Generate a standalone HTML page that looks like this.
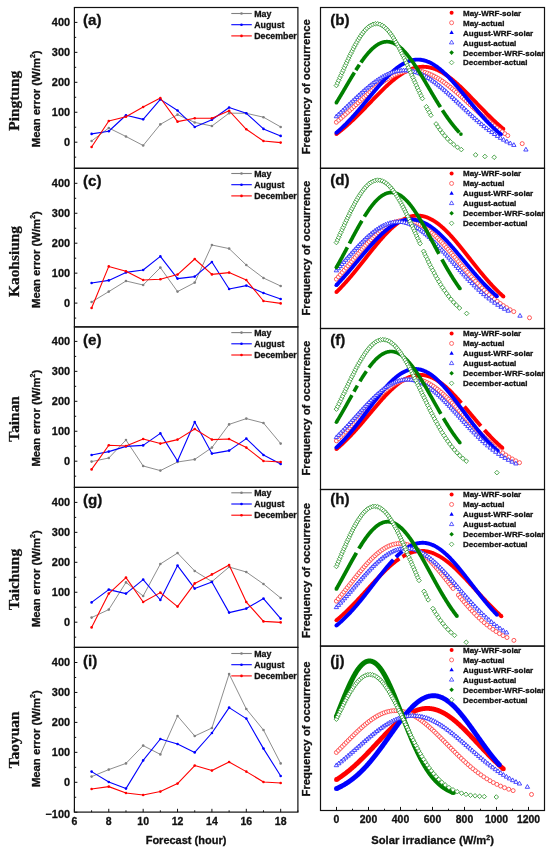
<!DOCTYPE html><html><head><meta charset="utf-8"><style>html,body{margin:0;padding:0;background:#fff;}svg{display:block;will-change:transform;}text{stroke:#111;stroke-width:0.3px;}</style></head><body>
<svg width="550" height="854" viewBox="0 0 550 854">
<rect width="550" height="854" fill="#fff"/>
<polyline fill="none" stroke="#808080" stroke-width="0.9" stroke-linejoin="round" points="91.59,141 108.78,127.97 125.97,136.51 143.16,145.49 160.35,124.35 177.54,114.65 194.73,122.43 211.92,126.03 229.11,113.15 246.3,113.3 263.49,117.19 280.68,126.93"/>
<circle cx="91.59" cy="141" r="1.3" fill="#808080"/>
<circle cx="108.78" cy="127.97" r="1.3" fill="#808080"/>
<circle cx="125.97" cy="136.51" r="1.3" fill="#808080"/>
<circle cx="143.16" cy="145.49" r="1.3" fill="#808080"/>
<circle cx="160.35" cy="124.35" r="1.3" fill="#808080"/>
<circle cx="177.54" cy="114.65" r="1.3" fill="#808080"/>
<circle cx="194.73" cy="122.43" r="1.3" fill="#808080"/>
<circle cx="211.92" cy="126.03" r="1.3" fill="#808080"/>
<circle cx="229.11" cy="113.15" r="1.3" fill="#808080"/>
<circle cx="246.3" cy="113.3" r="1.3" fill="#808080"/>
<circle cx="263.49" cy="117.19" r="1.3" fill="#808080"/>
<circle cx="280.68" cy="126.93" r="1.3" fill="#808080"/>
<polyline fill="none" stroke="#0000ff" stroke-width="1.1" stroke-linejoin="round" points="91.59,133.9 108.78,131.27 125.97,115.24 143.16,119.35 160.35,99.37 177.54,110.57 194.73,126.93 211.92,119.74 229.11,107.46 246.3,113.3 263.49,128.9 280.68,135.91"/>
<circle cx="91.59" cy="133.9" r="1.3" fill="#0000ff"/>
<circle cx="108.78" cy="131.27" r="1.3" fill="#0000ff"/>
<circle cx="125.97" cy="115.24" r="1.3" fill="#0000ff"/>
<circle cx="143.16" cy="119.35" r="1.3" fill="#0000ff"/>
<circle cx="160.35" cy="99.37" r="1.3" fill="#0000ff"/>
<circle cx="177.54" cy="110.57" r="1.3" fill="#0000ff"/>
<circle cx="194.73" cy="126.93" r="1.3" fill="#0000ff"/>
<circle cx="211.92" cy="119.74" r="1.3" fill="#0000ff"/>
<circle cx="229.11" cy="107.46" r="1.3" fill="#0000ff"/>
<circle cx="246.3" cy="113.3" r="1.3" fill="#0000ff"/>
<circle cx="263.49" cy="128.9" r="1.3" fill="#0000ff"/>
<circle cx="280.68" cy="135.91" r="1.3" fill="#0000ff"/>
<polyline fill="none" stroke="#ff0000" stroke-width="1.1" stroke-linejoin="round" points="91.59,146.99 108.78,120.94 125.97,116.74 143.16,107.01 160.35,97.99 177.54,121.65 194.73,118.24 211.92,118.24 229.11,110.75 246.3,129.32 263.49,141 280.68,142.59"/>
<circle cx="91.59" cy="146.99" r="1.3" fill="#ff0000"/>
<circle cx="108.78" cy="120.94" r="1.3" fill="#ff0000"/>
<circle cx="125.97" cy="116.74" r="1.3" fill="#ff0000"/>
<circle cx="143.16" cy="107.01" r="1.3" fill="#ff0000"/>
<circle cx="160.35" cy="97.99" r="1.3" fill="#ff0000"/>
<circle cx="177.54" cy="121.65" r="1.3" fill="#ff0000"/>
<circle cx="194.73" cy="118.24" r="1.3" fill="#ff0000"/>
<circle cx="211.92" cy="118.24" r="1.3" fill="#ff0000"/>
<circle cx="229.11" cy="110.75" r="1.3" fill="#ff0000"/>
<circle cx="246.3" cy="129.32" r="1.3" fill="#ff0000"/>
<circle cx="263.49" cy="141" r="1.3" fill="#ff0000"/>
<circle cx="280.68" cy="142.59" r="1.3" fill="#ff0000"/>
<line x1="231.3" y1="13.5" x2="251.8" y2="13.5" stroke="#808080" stroke-width="1.1"/>
<circle cx="241.5" cy="13.5" r="1.3" fill="#808080"/>
<text x="254.2" y="16.6" font-size="8.8" font-family="Liberation Sans, sans-serif" font-weight="bold" fill="#111">May</text>
<line x1="231.3" y1="24.7" x2="251.8" y2="24.7" stroke="#0000ff" stroke-width="1.1"/>
<circle cx="241.5" cy="24.7" r="1.3" fill="#0000ff"/>
<text x="254.2" y="27.8" font-size="8.8" font-family="Liberation Sans, sans-serif" font-weight="bold" fill="#111">August</text>
<line x1="231.3" y1="35.9" x2="251.8" y2="35.9" stroke="#ff0000" stroke-width="1.1"/>
<circle cx="241.5" cy="35.9" r="1.3" fill="#ff0000"/>
<text x="254.2" y="39" font-size="8.8" font-family="Liberation Sans, sans-serif" font-weight="bold" fill="#111">December</text>
<line x1="74.4" y1="157.17" x2="76.2" y2="157.17" stroke="#111" stroke-width="1"/>
<line x1="74.4" y1="142.2" x2="77.4" y2="142.2" stroke="#111" stroke-width="1"/>
<text x="70" y="146" font-size="10.9" text-anchor="end" font-family="Liberation Sans, sans-serif" font-weight="bold" fill="#111">0</text>
<line x1="74.4" y1="127.22" x2="76.2" y2="127.22" stroke="#111" stroke-width="1"/>
<line x1="74.4" y1="112.25" x2="77.4" y2="112.25" stroke="#111" stroke-width="1"/>
<text x="70" y="116.05" font-size="10.9" text-anchor="end" font-family="Liberation Sans, sans-serif" font-weight="bold" fill="#111">100</text>
<line x1="74.4" y1="97.27" x2="76.2" y2="97.27" stroke="#111" stroke-width="1"/>
<line x1="74.4" y1="82.3" x2="77.4" y2="82.3" stroke="#111" stroke-width="1"/>
<text x="70" y="86.1" font-size="10.9" text-anchor="end" font-family="Liberation Sans, sans-serif" font-weight="bold" fill="#111">200</text>
<line x1="74.4" y1="67.32" x2="76.2" y2="67.32" stroke="#111" stroke-width="1"/>
<line x1="74.4" y1="52.35" x2="77.4" y2="52.35" stroke="#111" stroke-width="1"/>
<text x="70" y="56.15" font-size="10.9" text-anchor="end" font-family="Liberation Sans, sans-serif" font-weight="bold" fill="#111">300</text>
<line x1="74.4" y1="37.37" x2="76.2" y2="37.37" stroke="#111" stroke-width="1"/>
<line x1="74.4" y1="22.4" x2="77.4" y2="22.4" stroke="#111" stroke-width="1"/>
<text x="70" y="26.2" font-size="10.9" text-anchor="end" font-family="Liberation Sans, sans-serif" font-weight="bold" fill="#111">400</text>
<rect x="74.4" y="7.5" width="223.5" height="160.8" fill="none" stroke="#111" stroke-width="1.2"/>
<text x="82.9" y="25.1" font-size="15.2" font-family="Liberation Sans, sans-serif" font-weight="bold" fill="#111">(a)</text>
<text transform="translate(40.1,98.8) rotate(-90)" font-size="11.3" text-anchor="middle" font-family="Liberation Sans, sans-serif" font-weight="bold" fill="#111">Mean error (W/m<tspan font-size="7" dy="-4.8">2</tspan><tspan dy="4.8">)</tspan></text>
<text transform="translate(19.3,100.8) rotate(-90)" font-size="15.4" text-anchor="middle" font-family="Liberation Serif, serif" font-weight="bold" fill="#111">Pingtung</text>
<polyline fill="none" stroke="#808080" stroke-width="0.9" stroke-linejoin="round" points="91.59,301.99 108.78,291.6 125.97,281 143.16,285.01 160.35,267.61 177.54,291.6 194.73,282.61 211.92,245 229.11,248.59 246.3,265.06 263.49,278 280.68,286.03"/>
<circle cx="91.59" cy="301.99" r="1.3" fill="#808080"/>
<circle cx="108.78" cy="291.6" r="1.3" fill="#808080"/>
<circle cx="125.97" cy="281" r="1.3" fill="#808080"/>
<circle cx="143.16" cy="285.01" r="1.3" fill="#808080"/>
<circle cx="160.35" cy="267.61" r="1.3" fill="#808080"/>
<circle cx="177.54" cy="291.6" r="1.3" fill="#808080"/>
<circle cx="194.73" cy="282.61" r="1.3" fill="#808080"/>
<circle cx="211.92" cy="245" r="1.3" fill="#808080"/>
<circle cx="229.11" cy="248.59" r="1.3" fill="#808080"/>
<circle cx="246.3" cy="265.06" r="1.3" fill="#808080"/>
<circle cx="263.49" cy="278" r="1.3" fill="#808080"/>
<circle cx="280.68" cy="286.03" r="1.3" fill="#808080"/>
<polyline fill="none" stroke="#0000ff" stroke-width="1.1" stroke-linejoin="round" points="91.59,283.03 108.78,280.4 125.97,272.4 143.16,270.01 160.35,256.38 177.54,278.6 194.73,276.59 211.92,262.01 229.11,289.02 246.3,285.61 263.49,293.01 280.68,299"/>
<circle cx="91.59" cy="283.03" r="1.3" fill="#0000ff"/>
<circle cx="108.78" cy="280.4" r="1.3" fill="#0000ff"/>
<circle cx="125.97" cy="272.4" r="1.3" fill="#0000ff"/>
<circle cx="143.16" cy="270.01" r="1.3" fill="#0000ff"/>
<circle cx="160.35" cy="256.38" r="1.3" fill="#0000ff"/>
<circle cx="177.54" cy="278.6" r="1.3" fill="#0000ff"/>
<circle cx="194.73" cy="276.59" r="1.3" fill="#0000ff"/>
<circle cx="211.92" cy="262.01" r="1.3" fill="#0000ff"/>
<circle cx="229.11" cy="289.02" r="1.3" fill="#0000ff"/>
<circle cx="246.3" cy="285.61" r="1.3" fill="#0000ff"/>
<circle cx="263.49" cy="293.01" r="1.3" fill="#0000ff"/>
<circle cx="280.68" cy="299" r="1.3" fill="#0000ff"/>
<polyline fill="none" stroke="#ff0000" stroke-width="1.1" stroke-linejoin="round" points="91.59,308.01 108.78,266.41 125.97,271.2 143.16,280.04 160.35,279.2 177.54,274.59 194.73,259.01 211.92,274.41 229.11,272.61 246.3,280.04 263.49,301 280.68,303.4"/>
<circle cx="91.59" cy="308.01" r="1.3" fill="#ff0000"/>
<circle cx="108.78" cy="266.41" r="1.3" fill="#ff0000"/>
<circle cx="125.97" cy="271.2" r="1.3" fill="#ff0000"/>
<circle cx="143.16" cy="280.04" r="1.3" fill="#ff0000"/>
<circle cx="160.35" cy="279.2" r="1.3" fill="#ff0000"/>
<circle cx="177.54" cy="274.59" r="1.3" fill="#ff0000"/>
<circle cx="194.73" cy="259.01" r="1.3" fill="#ff0000"/>
<circle cx="211.92" cy="274.41" r="1.3" fill="#ff0000"/>
<circle cx="229.11" cy="272.61" r="1.3" fill="#ff0000"/>
<circle cx="246.3" cy="280.04" r="1.3" fill="#ff0000"/>
<circle cx="263.49" cy="301" r="1.3" fill="#ff0000"/>
<circle cx="280.68" cy="303.4" r="1.3" fill="#ff0000"/>
<line x1="231.3" y1="173.5" x2="251.8" y2="173.5" stroke="#808080" stroke-width="1.1"/>
<circle cx="241.5" cy="173.5" r="1.3" fill="#808080"/>
<text x="254.2" y="176.6" font-size="8.8" font-family="Liberation Sans, sans-serif" font-weight="bold" fill="#111">May</text>
<line x1="231.3" y1="184.7" x2="251.8" y2="184.7" stroke="#0000ff" stroke-width="1.1"/>
<circle cx="241.5" cy="184.7" r="1.3" fill="#0000ff"/>
<text x="254.2" y="187.8" font-size="8.8" font-family="Liberation Sans, sans-serif" font-weight="bold" fill="#111">August</text>
<line x1="231.3" y1="195.9" x2="251.8" y2="195.9" stroke="#ff0000" stroke-width="1.1"/>
<circle cx="241.5" cy="195.9" r="1.3" fill="#ff0000"/>
<text x="254.2" y="199" font-size="8.8" font-family="Liberation Sans, sans-serif" font-weight="bold" fill="#111">December</text>
<line x1="74.4" y1="318.08" x2="76.2" y2="318.08" stroke="#111" stroke-width="1"/>
<line x1="74.4" y1="303.1" x2="77.4" y2="303.1" stroke="#111" stroke-width="1"/>
<text x="70" y="306.9" font-size="10.9" text-anchor="end" font-family="Liberation Sans, sans-serif" font-weight="bold" fill="#111">0</text>
<line x1="74.4" y1="288.12" x2="76.2" y2="288.12" stroke="#111" stroke-width="1"/>
<line x1="74.4" y1="273.15" x2="77.4" y2="273.15" stroke="#111" stroke-width="1"/>
<text x="70" y="276.95" font-size="10.9" text-anchor="end" font-family="Liberation Sans, sans-serif" font-weight="bold" fill="#111">100</text>
<line x1="74.4" y1="258.18" x2="76.2" y2="258.18" stroke="#111" stroke-width="1"/>
<line x1="74.4" y1="243.2" x2="77.4" y2="243.2" stroke="#111" stroke-width="1"/>
<text x="70" y="247" font-size="10.9" text-anchor="end" font-family="Liberation Sans, sans-serif" font-weight="bold" fill="#111">200</text>
<line x1="74.4" y1="228.23" x2="76.2" y2="228.23" stroke="#111" stroke-width="1"/>
<line x1="74.4" y1="213.25" x2="77.4" y2="213.25" stroke="#111" stroke-width="1"/>
<text x="70" y="217.05" font-size="10.9" text-anchor="end" font-family="Liberation Sans, sans-serif" font-weight="bold" fill="#111">300</text>
<line x1="74.4" y1="198.28" x2="76.2" y2="198.28" stroke="#111" stroke-width="1"/>
<line x1="74.4" y1="183.3" x2="77.4" y2="183.3" stroke="#111" stroke-width="1"/>
<text x="70" y="187.1" font-size="10.9" text-anchor="end" font-family="Liberation Sans, sans-serif" font-weight="bold" fill="#111">400</text>
<rect x="74.4" y="168.3" width="223.5" height="158.6" fill="none" stroke="#111" stroke-width="1.2"/>
<text x="82.9" y="185.5" font-size="15.2" font-family="Liberation Sans, sans-serif" font-weight="bold" fill="#111">(c)</text>
<text transform="translate(40.1,259.6) rotate(-90)" font-size="11.3" text-anchor="middle" font-family="Liberation Sans, sans-serif" font-weight="bold" fill="#111">Mean error (W/m<tspan font-size="7" dy="-4.8">2</tspan><tspan dy="4.8">)</tspan></text>
<text transform="translate(19.3,261.5) rotate(-90)" font-size="15.4" text-anchor="middle" font-family="Liberation Serif, serif" font-weight="bold" fill="#111">Kaohsiung</text>
<polyline fill="none" stroke="#808080" stroke-width="0.9" stroke-linejoin="round" points="91.59,461.59 108.78,458 125.97,440 143.16,465.99 160.35,470.6 177.54,462.01 194.73,459.4 211.92,447.6 229.11,424.39 246.3,418.61 263.49,423.01 280.68,443.59"/>
<circle cx="91.59" cy="461.59" r="1.3" fill="#808080"/>
<circle cx="108.78" cy="458" r="1.3" fill="#808080"/>
<circle cx="125.97" cy="440" r="1.3" fill="#808080"/>
<circle cx="143.16" cy="465.99" r="1.3" fill="#808080"/>
<circle cx="160.35" cy="470.6" r="1.3" fill="#808080"/>
<circle cx="177.54" cy="462.01" r="1.3" fill="#808080"/>
<circle cx="194.73" cy="459.4" r="1.3" fill="#808080"/>
<circle cx="211.92" cy="447.6" r="1.3" fill="#808080"/>
<circle cx="229.11" cy="424.39" r="1.3" fill="#808080"/>
<circle cx="246.3" cy="418.61" r="1.3" fill="#808080"/>
<circle cx="263.49" cy="423.01" r="1.3" fill="#808080"/>
<circle cx="280.68" cy="443.59" r="1.3" fill="#808080"/>
<polyline fill="none" stroke="#0000ff" stroke-width="1.1" stroke-linejoin="round" points="91.59,455 108.78,451.62 125.97,446.4 143.16,445.39 160.35,433.41 177.54,460.99 194.73,422 211.92,453.59 229.11,450.6 246.3,438.59 263.49,455 280.68,463.99"/>
<circle cx="91.59" cy="455" r="1.3" fill="#0000ff"/>
<circle cx="108.78" cy="451.62" r="1.3" fill="#0000ff"/>
<circle cx="125.97" cy="446.4" r="1.3" fill="#0000ff"/>
<circle cx="143.16" cy="445.39" r="1.3" fill="#0000ff"/>
<circle cx="160.35" cy="433.41" r="1.3" fill="#0000ff"/>
<circle cx="177.54" cy="460.99" r="1.3" fill="#0000ff"/>
<circle cx="194.73" cy="422" r="1.3" fill="#0000ff"/>
<circle cx="211.92" cy="453.59" r="1.3" fill="#0000ff"/>
<circle cx="229.11" cy="450.6" r="1.3" fill="#0000ff"/>
<circle cx="246.3" cy="438.59" r="1.3" fill="#0000ff"/>
<circle cx="263.49" cy="455" r="1.3" fill="#0000ff"/>
<circle cx="280.68" cy="463.99" r="1.3" fill="#0000ff"/>
<polyline fill="none" stroke="#ff0000" stroke-width="1.1" stroke-linejoin="round" points="91.59,469.41 108.78,445.21 125.97,445.99 143.16,439.01 160.35,443.59 177.54,439.61 194.73,429 211.92,439.61 229.11,439.01 246.3,447.6 263.49,460.99 280.68,462.01"/>
<circle cx="91.59" cy="469.41" r="1.3" fill="#ff0000"/>
<circle cx="108.78" cy="445.21" r="1.3" fill="#ff0000"/>
<circle cx="125.97" cy="445.99" r="1.3" fill="#ff0000"/>
<circle cx="143.16" cy="439.01" r="1.3" fill="#ff0000"/>
<circle cx="160.35" cy="443.59" r="1.3" fill="#ff0000"/>
<circle cx="177.54" cy="439.61" r="1.3" fill="#ff0000"/>
<circle cx="194.73" cy="429" r="1.3" fill="#ff0000"/>
<circle cx="211.92" cy="439.61" r="1.3" fill="#ff0000"/>
<circle cx="229.11" cy="439.01" r="1.3" fill="#ff0000"/>
<circle cx="246.3" cy="447.6" r="1.3" fill="#ff0000"/>
<circle cx="263.49" cy="460.99" r="1.3" fill="#ff0000"/>
<circle cx="280.68" cy="462.01" r="1.3" fill="#ff0000"/>
<line x1="231.3" y1="332.6" x2="251.8" y2="332.6" stroke="#808080" stroke-width="1.1"/>
<circle cx="241.5" cy="332.6" r="1.3" fill="#808080"/>
<text x="254.2" y="335.7" font-size="8.8" font-family="Liberation Sans, sans-serif" font-weight="bold" fill="#111">May</text>
<line x1="231.3" y1="343.8" x2="251.8" y2="343.8" stroke="#0000ff" stroke-width="1.1"/>
<circle cx="241.5" cy="343.8" r="1.3" fill="#0000ff"/>
<text x="254.2" y="346.9" font-size="8.8" font-family="Liberation Sans, sans-serif" font-weight="bold" fill="#111">August</text>
<line x1="231.3" y1="355" x2="251.8" y2="355" stroke="#ff0000" stroke-width="1.1"/>
<circle cx="241.5" cy="355" r="1.3" fill="#ff0000"/>
<text x="254.2" y="358.1" font-size="8.8" font-family="Liberation Sans, sans-serif" font-weight="bold" fill="#111">December</text>
<line x1="74.4" y1="476.18" x2="76.2" y2="476.18" stroke="#111" stroke-width="1"/>
<line x1="74.4" y1="461.2" x2="77.4" y2="461.2" stroke="#111" stroke-width="1"/>
<text x="70" y="465" font-size="10.9" text-anchor="end" font-family="Liberation Sans, sans-serif" font-weight="bold" fill="#111">0</text>
<line x1="74.4" y1="446.22" x2="76.2" y2="446.22" stroke="#111" stroke-width="1"/>
<line x1="74.4" y1="431.25" x2="77.4" y2="431.25" stroke="#111" stroke-width="1"/>
<text x="70" y="435.05" font-size="10.9" text-anchor="end" font-family="Liberation Sans, sans-serif" font-weight="bold" fill="#111">100</text>
<line x1="74.4" y1="416.27" x2="76.2" y2="416.27" stroke="#111" stroke-width="1"/>
<line x1="74.4" y1="401.3" x2="77.4" y2="401.3" stroke="#111" stroke-width="1"/>
<text x="70" y="405.1" font-size="10.9" text-anchor="end" font-family="Liberation Sans, sans-serif" font-weight="bold" fill="#111">200</text>
<line x1="74.4" y1="386.32" x2="76.2" y2="386.32" stroke="#111" stroke-width="1"/>
<line x1="74.4" y1="371.35" x2="77.4" y2="371.35" stroke="#111" stroke-width="1"/>
<text x="70" y="375.15" font-size="10.9" text-anchor="end" font-family="Liberation Sans, sans-serif" font-weight="bold" fill="#111">300</text>
<line x1="74.4" y1="356.38" x2="76.2" y2="356.38" stroke="#111" stroke-width="1"/>
<line x1="74.4" y1="341.4" x2="77.4" y2="341.4" stroke="#111" stroke-width="1"/>
<text x="70" y="345.2" font-size="10.9" text-anchor="end" font-family="Liberation Sans, sans-serif" font-weight="bold" fill="#111">400</text>
<rect x="74.4" y="326.9" width="223.5" height="160.5" fill="none" stroke="#111" stroke-width="1.2"/>
<text x="82.9" y="344.9" font-size="15.2" font-family="Liberation Sans, sans-serif" font-weight="bold" fill="#111">(e)</text>
<text transform="translate(40.1,418.2) rotate(-90)" font-size="11.3" text-anchor="middle" font-family="Liberation Sans, sans-serif" font-weight="bold" fill="#111">Mean error (W/m<tspan font-size="7" dy="-4.8">2</tspan><tspan dy="4.8">)</tspan></text>
<text transform="translate(19.3,418.9) rotate(-90)" font-size="15.4" text-anchor="middle" font-family="Liberation Serif, serif" font-weight="bold" fill="#111">Tainan</text>
<polyline fill="none" stroke="#808080" stroke-width="0.9" stroke-linejoin="round" points="91.59,617.59 108.78,609.59 125.97,582.4 143.16,595.99 160.35,564.01 177.54,553.02 194.73,570.99 211.92,581.59 229.11,567 246.3,572 263.49,584.01 280.68,598"/>
<circle cx="91.59" cy="617.59" r="1.3" fill="#808080"/>
<circle cx="108.78" cy="609.59" r="1.3" fill="#808080"/>
<circle cx="125.97" cy="582.4" r="1.3" fill="#808080"/>
<circle cx="143.16" cy="595.99" r="1.3" fill="#808080"/>
<circle cx="160.35" cy="564.01" r="1.3" fill="#808080"/>
<circle cx="177.54" cy="553.02" r="1.3" fill="#808080"/>
<circle cx="194.73" cy="570.99" r="1.3" fill="#808080"/>
<circle cx="211.92" cy="581.59" r="1.3" fill="#808080"/>
<circle cx="229.11" cy="567" r="1.3" fill="#808080"/>
<circle cx="246.3" cy="572" r="1.3" fill="#808080"/>
<circle cx="263.49" cy="584.01" r="1.3" fill="#808080"/>
<circle cx="280.68" cy="598" r="1.3" fill="#808080"/>
<polyline fill="none" stroke="#0000ff" stroke-width="1.1" stroke-linejoin="round" points="91.59,602.4 108.78,589.61 125.97,593.6 143.16,579.61 160.35,600.01 177.54,565.59 194.73,588.6 211.92,582.01 229.11,612.62 246.3,608.6 263.49,598.6 280.68,618.61"/>
<circle cx="91.59" cy="602.4" r="1.3" fill="#0000ff"/>
<circle cx="108.78" cy="589.61" r="1.3" fill="#0000ff"/>
<circle cx="125.97" cy="593.6" r="1.3" fill="#0000ff"/>
<circle cx="143.16" cy="579.61" r="1.3" fill="#0000ff"/>
<circle cx="160.35" cy="600.01" r="1.3" fill="#0000ff"/>
<circle cx="177.54" cy="565.59" r="1.3" fill="#0000ff"/>
<circle cx="194.73" cy="588.6" r="1.3" fill="#0000ff"/>
<circle cx="211.92" cy="582.01" r="1.3" fill="#0000ff"/>
<circle cx="229.11" cy="612.62" r="1.3" fill="#0000ff"/>
<circle cx="246.3" cy="608.6" r="1.3" fill="#0000ff"/>
<circle cx="263.49" cy="598.6" r="1.3" fill="#0000ff"/>
<circle cx="280.68" cy="618.61" r="1.3" fill="#0000ff"/>
<polyline fill="none" stroke="#ff0000" stroke-width="1.1" stroke-linejoin="round" points="91.59,627.41 108.78,593.6 125.97,577.6 143.16,602.01 160.35,592.61 177.54,606.6 194.73,583.41 211.92,574.4 229.11,565 246.3,602.01 263.49,621.39 280.68,622.41"/>
<circle cx="91.59" cy="627.41" r="1.3" fill="#ff0000"/>
<circle cx="108.78" cy="593.6" r="1.3" fill="#ff0000"/>
<circle cx="125.97" cy="577.6" r="1.3" fill="#ff0000"/>
<circle cx="143.16" cy="602.01" r="1.3" fill="#ff0000"/>
<circle cx="160.35" cy="592.61" r="1.3" fill="#ff0000"/>
<circle cx="177.54" cy="606.6" r="1.3" fill="#ff0000"/>
<circle cx="194.73" cy="583.41" r="1.3" fill="#ff0000"/>
<circle cx="211.92" cy="574.4" r="1.3" fill="#ff0000"/>
<circle cx="229.11" cy="565" r="1.3" fill="#ff0000"/>
<circle cx="246.3" cy="602.01" r="1.3" fill="#ff0000"/>
<circle cx="263.49" cy="621.39" r="1.3" fill="#ff0000"/>
<circle cx="280.68" cy="622.41" r="1.3" fill="#ff0000"/>
<line x1="231.3" y1="492.8" x2="251.8" y2="492.8" stroke="#808080" stroke-width="1.1"/>
<circle cx="241.5" cy="492.8" r="1.3" fill="#808080"/>
<text x="254.2" y="495.9" font-size="8.8" font-family="Liberation Sans, sans-serif" font-weight="bold" fill="#111">May</text>
<line x1="231.3" y1="504" x2="251.8" y2="504" stroke="#0000ff" stroke-width="1.1"/>
<circle cx="241.5" cy="504" r="1.3" fill="#0000ff"/>
<text x="254.2" y="507.1" font-size="8.8" font-family="Liberation Sans, sans-serif" font-weight="bold" fill="#111">August</text>
<line x1="231.3" y1="515.2" x2="251.8" y2="515.2" stroke="#ff0000" stroke-width="1.1"/>
<circle cx="241.5" cy="515.2" r="1.3" fill="#ff0000"/>
<text x="254.2" y="518.3" font-size="8.8" font-family="Liberation Sans, sans-serif" font-weight="bold" fill="#111">December</text>
<line x1="74.4" y1="637.18" x2="76.2" y2="637.18" stroke="#111" stroke-width="1"/>
<line x1="74.4" y1="622.2" x2="77.4" y2="622.2" stroke="#111" stroke-width="1"/>
<text x="70" y="626" font-size="10.9" text-anchor="end" font-family="Liberation Sans, sans-serif" font-weight="bold" fill="#111">0</text>
<line x1="74.4" y1="607.23" x2="76.2" y2="607.23" stroke="#111" stroke-width="1"/>
<line x1="74.4" y1="592.25" x2="77.4" y2="592.25" stroke="#111" stroke-width="1"/>
<text x="70" y="596.05" font-size="10.9" text-anchor="end" font-family="Liberation Sans, sans-serif" font-weight="bold" fill="#111">100</text>
<line x1="74.4" y1="577.28" x2="76.2" y2="577.28" stroke="#111" stroke-width="1"/>
<line x1="74.4" y1="562.3" x2="77.4" y2="562.3" stroke="#111" stroke-width="1"/>
<text x="70" y="566.1" font-size="10.9" text-anchor="end" font-family="Liberation Sans, sans-serif" font-weight="bold" fill="#111">200</text>
<line x1="74.4" y1="547.33" x2="76.2" y2="547.33" stroke="#111" stroke-width="1"/>
<line x1="74.4" y1="532.35" x2="77.4" y2="532.35" stroke="#111" stroke-width="1"/>
<text x="70" y="536.15" font-size="10.9" text-anchor="end" font-family="Liberation Sans, sans-serif" font-weight="bold" fill="#111">300</text>
<line x1="74.4" y1="517.38" x2="76.2" y2="517.38" stroke="#111" stroke-width="1"/>
<line x1="74.4" y1="502.4" x2="77.4" y2="502.4" stroke="#111" stroke-width="1"/>
<text x="70" y="506.2" font-size="10.9" text-anchor="end" font-family="Liberation Sans, sans-serif" font-weight="bold" fill="#111">400</text>
<rect x="74.4" y="487.4" width="223.5" height="160" fill="none" stroke="#111" stroke-width="1.2"/>
<text x="82.9" y="504.5" font-size="15.2" font-family="Liberation Sans, sans-serif" font-weight="bold" fill="#111">(g)</text>
<text transform="translate(40.1,578.7) rotate(-90)" font-size="11.3" text-anchor="middle" font-family="Liberation Sans, sans-serif" font-weight="bold" fill="#111">Mean error (W/m<tspan font-size="7" dy="-4.8">2</tspan><tspan dy="4.8">)</tspan></text>
<text transform="translate(19.3,579.4) rotate(-90)" font-size="15.4" text-anchor="middle" font-family="Liberation Serif, serif" font-weight="bold" fill="#111">Taichung</text>
<polyline fill="none" stroke="#808080" stroke-width="0.9" stroke-linejoin="round" points="91.59,776.61 108.78,769.6 125.97,763.4 143.16,745.61 160.35,754.39 177.54,715.99 194.73,736 211.92,728 229.11,674 246.3,709.01 263.49,730.01 280.68,763.4"/>
<circle cx="91.59" cy="776.61" r="1.3" fill="#808080"/>
<circle cx="108.78" cy="769.6" r="1.3" fill="#808080"/>
<circle cx="125.97" cy="763.4" r="1.3" fill="#808080"/>
<circle cx="143.16" cy="745.61" r="1.3" fill="#808080"/>
<circle cx="160.35" cy="754.39" r="1.3" fill="#808080"/>
<circle cx="177.54" cy="715.99" r="1.3" fill="#808080"/>
<circle cx="194.73" cy="736" r="1.3" fill="#808080"/>
<circle cx="211.92" cy="728" r="1.3" fill="#808080"/>
<circle cx="229.11" cy="674" r="1.3" fill="#808080"/>
<circle cx="246.3" cy="709.01" r="1.3" fill="#808080"/>
<circle cx="263.49" cy="730.01" r="1.3" fill="#808080"/>
<circle cx="280.68" cy="763.4" r="1.3" fill="#808080"/>
<polyline fill="none" stroke="#0000ff" stroke-width="1.1" stroke-linejoin="round" points="91.59,771.61 108.78,782 125.97,788.59 143.16,760.41 160.35,738.99 177.54,743.99 194.73,752.41 211.92,733 229.11,707.6 246.3,718.6 263.49,748.61 280.68,776.01"/>
<circle cx="91.59" cy="771.61" r="1.3" fill="#0000ff"/>
<circle cx="108.78" cy="782" r="1.3" fill="#0000ff"/>
<circle cx="125.97" cy="788.59" r="1.3" fill="#0000ff"/>
<circle cx="143.16" cy="760.41" r="1.3" fill="#0000ff"/>
<circle cx="160.35" cy="738.99" r="1.3" fill="#0000ff"/>
<circle cx="177.54" cy="743.99" r="1.3" fill="#0000ff"/>
<circle cx="194.73" cy="752.41" r="1.3" fill="#0000ff"/>
<circle cx="211.92" cy="733" r="1.3" fill="#0000ff"/>
<circle cx="229.11" cy="707.6" r="1.3" fill="#0000ff"/>
<circle cx="246.3" cy="718.6" r="1.3" fill="#0000ff"/>
<circle cx="263.49" cy="748.61" r="1.3" fill="#0000ff"/>
<circle cx="280.68" cy="776.01" r="1.3" fill="#0000ff"/>
<polyline fill="none" stroke="#ff0000" stroke-width="1.1" stroke-linejoin="round" points="91.59,789.01 108.78,786.61 125.97,792.99 143.16,795 160.35,791.58 177.54,783.59 194.73,765.59 211.92,770.59 229.11,761.99 246.3,771.61 263.49,782 280.68,782.99"/>
<circle cx="91.59" cy="789.01" r="1.3" fill="#ff0000"/>
<circle cx="108.78" cy="786.61" r="1.3" fill="#ff0000"/>
<circle cx="125.97" cy="792.99" r="1.3" fill="#ff0000"/>
<circle cx="143.16" cy="795" r="1.3" fill="#ff0000"/>
<circle cx="160.35" cy="791.58" r="1.3" fill="#ff0000"/>
<circle cx="177.54" cy="783.59" r="1.3" fill="#ff0000"/>
<circle cx="194.73" cy="765.59" r="1.3" fill="#ff0000"/>
<circle cx="211.92" cy="770.59" r="1.3" fill="#ff0000"/>
<circle cx="229.11" cy="761.99" r="1.3" fill="#ff0000"/>
<circle cx="246.3" cy="771.61" r="1.3" fill="#ff0000"/>
<circle cx="263.49" cy="782" r="1.3" fill="#ff0000"/>
<circle cx="280.68" cy="782.99" r="1.3" fill="#ff0000"/>
<line x1="231.3" y1="653.5" x2="251.8" y2="653.5" stroke="#808080" stroke-width="1.1"/>
<circle cx="241.5" cy="653.5" r="1.3" fill="#808080"/>
<text x="254.2" y="656.6" font-size="8.8" font-family="Liberation Sans, sans-serif" font-weight="bold" fill="#111">May</text>
<line x1="231.3" y1="664.7" x2="251.8" y2="664.7" stroke="#0000ff" stroke-width="1.1"/>
<circle cx="241.5" cy="664.7" r="1.3" fill="#0000ff"/>
<text x="254.2" y="667.8" font-size="8.8" font-family="Liberation Sans, sans-serif" font-weight="bold" fill="#111">August</text>
<line x1="231.3" y1="675.9" x2="251.8" y2="675.9" stroke="#ff0000" stroke-width="1.1"/>
<circle cx="241.5" cy="675.9" r="1.3" fill="#ff0000"/>
<text x="254.2" y="679" font-size="8.8" font-family="Liberation Sans, sans-serif" font-weight="bold" fill="#111">December</text>
<line x1="74.4" y1="812.25" x2="77.4" y2="812.25" stroke="#111" stroke-width="1"/>
<text x="70" y="817.85" font-size="10.9" text-anchor="end" font-family="Liberation Sans, sans-serif" font-weight="bold" fill="#111">−100</text>
<line x1="74.4" y1="797.27" x2="76.2" y2="797.27" stroke="#111" stroke-width="1"/>
<line x1="74.4" y1="782.3" x2="77.4" y2="782.3" stroke="#111" stroke-width="1"/>
<text x="70" y="786.1" font-size="10.9" text-anchor="end" font-family="Liberation Sans, sans-serif" font-weight="bold" fill="#111">0</text>
<line x1="74.4" y1="767.32" x2="76.2" y2="767.32" stroke="#111" stroke-width="1"/>
<line x1="74.4" y1="752.35" x2="77.4" y2="752.35" stroke="#111" stroke-width="1"/>
<text x="70" y="756.15" font-size="10.9" text-anchor="end" font-family="Liberation Sans, sans-serif" font-weight="bold" fill="#111">100</text>
<line x1="74.4" y1="737.38" x2="76.2" y2="737.38" stroke="#111" stroke-width="1"/>
<line x1="74.4" y1="722.4" x2="77.4" y2="722.4" stroke="#111" stroke-width="1"/>
<text x="70" y="726.2" font-size="10.9" text-anchor="end" font-family="Liberation Sans, sans-serif" font-weight="bold" fill="#111">200</text>
<line x1="74.4" y1="707.42" x2="76.2" y2="707.42" stroke="#111" stroke-width="1"/>
<line x1="74.4" y1="692.45" x2="77.4" y2="692.45" stroke="#111" stroke-width="1"/>
<text x="70" y="696.25" font-size="10.9" text-anchor="end" font-family="Liberation Sans, sans-serif" font-weight="bold" fill="#111">300</text>
<line x1="74.4" y1="677.47" x2="76.2" y2="677.47" stroke="#111" stroke-width="1"/>
<line x1="74.4" y1="662.5" x2="77.4" y2="662.5" stroke="#111" stroke-width="1"/>
<text x="70" y="666.3" font-size="10.9" text-anchor="end" font-family="Liberation Sans, sans-serif" font-weight="bold" fill="#111">400</text>
<rect x="74.4" y="647.4" width="223.5" height="164.7" fill="none" stroke="#111" stroke-width="1.2"/>
<text x="82.9" y="666.4" font-size="15.2" font-family="Liberation Sans, sans-serif" font-weight="bold" fill="#111">(i)</text>
<text transform="translate(40.1,738.7) rotate(-90)" font-size="11.3" text-anchor="middle" font-family="Liberation Sans, sans-serif" font-weight="bold" fill="#111">Mean error (W/m<tspan font-size="7" dy="-4.8">2</tspan><tspan dy="4.8">)</tspan></text>
<text transform="translate(19.3,739.9) rotate(-90)" font-size="15.4" text-anchor="middle" font-family="Liberation Serif, serif" font-weight="bold" fill="#111">Taoyuan</text>
<line x1="74.4" y1="812.1" x2="74.4" y2="808.8" stroke="#111" stroke-width="1"/>
<text x="74.4" y="824.6" font-size="10.5" text-anchor="middle" font-family="Liberation Sans, sans-serif" font-weight="bold" fill="#111">6</text>
<line x1="91.59" y1="812.1" x2="91.59" y2="810.3" stroke="#111" stroke-width="1"/>
<line x1="108.78" y1="812.1" x2="108.78" y2="808.8" stroke="#111" stroke-width="1"/>
<text x="108.78" y="824.6" font-size="10.5" text-anchor="middle" font-family="Liberation Sans, sans-serif" font-weight="bold" fill="#111">8</text>
<line x1="125.97" y1="812.1" x2="125.97" y2="810.3" stroke="#111" stroke-width="1"/>
<line x1="143.16" y1="812.1" x2="143.16" y2="808.8" stroke="#111" stroke-width="1"/>
<text x="143.16" y="824.6" font-size="10.5" text-anchor="middle" font-family="Liberation Sans, sans-serif" font-weight="bold" fill="#111">10</text>
<line x1="160.35" y1="812.1" x2="160.35" y2="810.3" stroke="#111" stroke-width="1"/>
<line x1="177.54" y1="812.1" x2="177.54" y2="808.8" stroke="#111" stroke-width="1"/>
<text x="177.54" y="824.6" font-size="10.5" text-anchor="middle" font-family="Liberation Sans, sans-serif" font-weight="bold" fill="#111">12</text>
<line x1="194.73" y1="812.1" x2="194.73" y2="810.3" stroke="#111" stroke-width="1"/>
<line x1="211.92" y1="812.1" x2="211.92" y2="808.8" stroke="#111" stroke-width="1"/>
<text x="211.92" y="824.6" font-size="10.5" text-anchor="middle" font-family="Liberation Sans, sans-serif" font-weight="bold" fill="#111">14</text>
<line x1="229.11" y1="812.1" x2="229.11" y2="810.3" stroke="#111" stroke-width="1"/>
<line x1="246.3" y1="812.1" x2="246.3" y2="808.8" stroke="#111" stroke-width="1"/>
<text x="246.3" y="824.6" font-size="10.5" text-anchor="middle" font-family="Liberation Sans, sans-serif" font-weight="bold" fill="#111">16</text>
<line x1="263.49" y1="812.1" x2="263.49" y2="810.3" stroke="#111" stroke-width="1"/>
<line x1="280.68" y1="812.1" x2="280.68" y2="808.8" stroke="#111" stroke-width="1"/>
<text x="280.68" y="824.6" font-size="10.5" text-anchor="middle" font-family="Liberation Sans, sans-serif" font-weight="bold" fill="#111">18</text>
<line x1="297.87" y1="812.1" x2="297.87" y2="810.3" stroke="#111" stroke-width="1"/>
<text x="186" y="844" font-size="11" text-anchor="middle" font-family="Liberation Sans, sans-serif" font-weight="bold" fill="#111">Forecast (hour)</text>
<path fill="none" stroke="#ff0000" stroke-width="3.9" stroke-linejoin="round" d="M336.4,134 L336.9,133.63 L337.4,133.25 L337.9,132.88 L338.4,132.49 L338.9,132.11 L339.4,131.72 L339.9,131.33 L340.4,130.93 L340.9,130.54 L341.4,130.13 L341.9,129.73 L342.4,129.32 L342.9,128.91 L343.4,128.49 L343.9,128.07 L344.4,127.65 L344.9,127.22 L345.4,126.8 L345.9,126.36 L346.4,125.93 L346.9,125.49 L347.4,125.05 L347.9,124.61 L348.4,124.16 L348.9,123.71 L349.4,123.26 L349.9,122.8 L350.4,122.34 L350.9,121.88 L351.4,121.42 L351.9,120.95 L352.4,120.48 L352.9,120.01 L353.4,119.53 L353.9,119.05 L354.4,118.58 L354.9,118.09 L355.4,117.61 L355.9,117.12 L356.4,116.63 L356.9,116.14 L357.4,115.65 L357.9,115.15 L358.4,114.66 L358.9,114.16 L359.4,113.66 L359.9,113.15 L360.4,112.65 L360.9,112.14 L361.4,111.64 L361.9,111.13 L362.4,110.62 L362.9,110.11 L363.4,109.59 L363.9,109.08 L364.4,108.57 L364.9,108.05 L365.4,107.53 L365.9,107.01 L366.4,106.5 L366.9,105.98 L367.4,105.46 L367.9,104.94 L368.4,104.42 L368.9,103.9 L369.4,103.37 L369.9,102.85 L370.4,102.33 L370.9,101.81 L371.4,101.29 L371.9,100.77 L372.4,100.25 L372.9,99.73 L373.4,99.21 L373.9,98.69 L374.4,98.17 L374.9,97.65 L375.4,97.14 L375.9,96.62 L376.4,96.11 L376.9,95.6 L377.4,95.08 L377.9,94.57 L378.4,94.07 L378.9,93.56 L379.4,93.05 L379.9,92.55 L380.4,92.05 L380.9,91.55 L381.4,91.05 L381.9,90.56 L382.4,90.06 L382.9,89.57 L383.4,89.09 L383.9,88.6 L384.4,88.12 L384.9,87.64 L385.4,87.16 L385.9,86.69 L386.4,86.22 L386.9,85.75 L387.4,85.29 L387.9,84.83 L388.4,84.37 L388.9,83.92 L389.4,83.47 L389.9,83.03 L390.4,82.59 L390.9,82.15 L391.4,81.72 L391.9,81.29 L392.4,80.87 L392.9,80.45 L393.4,80.04 L393.9,79.63 L394.4,79.22 L394.9,78.82 L395.4,78.43 L395.9,78.04 L396.4,77.66 L396.9,77.28 L397.4,76.9 L397.9,76.54 L398.4,76.17 L398.9,75.82 L399.4,75.47 L399.9,75.12 L400.4,74.78 L400.9,74.45 L401.4,74.12 L401.9,73.8 L402.4,73.49 L402.9,73.18 L403.4,72.88 L403.9,72.59 L404.4,72.3 L404.9,72.02 L405.4,71.74 L405.9,71.47 L406.4,71.21 L406.9,70.96 L407.4,70.71 L407.9,70.47 L408.4,70.24 L408.9,70.01 L409.4,69.79 L409.9,69.58 L410.4,69.38 L410.9,69.18 L411.4,68.99 L411.9,68.81 L412.4,68.64 L412.9,68.47 L413.4,68.31 L413.9,68.16 L414.4,68.02 L414.9,67.88 L415.4,67.76 L415.9,67.64 L416.4,67.53 L416.9,67.42 L417.4,67.33 L417.9,67.24 L418.4,67.16 L418.9,67.09 L419.4,67.02 L419.9,66.97 L420.4,66.92 L420.9,66.88 L421.4,66.85 L421.9,66.82 L422.4,66.81 L422.9,66.8 L423.4,66.8 L423.9,66.81 L424.4,66.83 L424.9,66.85 L425.4,66.89 L425.9,66.93 L426.4,66.98 L426.9,67.03 L427.4,67.1 L427.9,67.17 L428.4,67.25 L428.9,67.34 L429.4,67.44 L429.9,67.55 L430.4,67.66 L430.9,67.78 L431.4,67.91 L431.9,68.05 L432.4,68.19 L432.9,68.34 L433.4,68.5 L433.9,68.67 L434.4,68.85 L434.9,69.03 L435.4,69.22 L435.9,69.42 L436.4,69.62 L436.9,69.84 L437.4,70.06 L437.9,70.28 L438.4,70.52 L438.9,70.76 L439.4,71.01 L439.9,71.26 L440.4,71.53 L440.9,71.8 L441.4,72.07 L441.9,72.35 L442.4,72.64 L442.9,72.94 L443.4,73.24 L443.9,73.55 L444.4,73.87 L444.9,74.19 L445.4,74.52 L445.9,74.85 L446.4,75.19 L446.9,75.54 L447.4,75.89 L447.9,76.25 L448.4,76.61 L448.9,76.98 L449.4,77.35 L449.9,77.73 L450.4,78.12 L450.9,78.51 L451.4,78.9 L451.9,79.3 L452.4,79.71 L452.9,80.12 L453.4,80.53 L453.9,80.95 L454.4,81.38 L454.9,81.81 L455.4,82.24 L455.9,82.68 L456.4,83.12 L456.9,83.56 L457.4,84.01 L457.9,84.47 L458.4,84.92 L458.9,85.38 L459.4,85.85 L459.9,86.31 L460.4,86.78 L460.9,87.26 L461.4,87.73 L461.9,88.21 L462.4,88.7 L462.9,89.18 L463.4,89.67 L463.9,90.16 L464.4,90.65 L464.9,91.15 L465.4,91.65 L465.9,92.15 L466.4,92.65 L466.9,93.15 L467.4,93.66 L467.9,94.17 L468.4,94.68 L468.9,95.19 L469.4,95.7 L469.9,96.21 L470.4,96.73 L470.9,97.24 L471.4,97.76 L471.9,98.28 L472.4,98.79 L472.9,99.31 L473.4,99.83 L473.9,100.35 L474.4,100.87 L474.9,101.39 L475.4,101.92 L475.9,102.44 L476.4,102.96 L476.9,103.48 L477.4,104 L477.9,104.52 L478.4,105.04 L478.9,105.56 L479.4,106.08 L479.9,106.6 L480.4,107.12 L480.9,107.64 L481.4,108.15 L481.9,108.67 L482.4,109.18 L482.9,109.7 L483.4,110.21 L483.9,110.72 L484.4,111.23 L484.9,111.74 L485.4,112.25 L485.9,112.75 L486.4,113.26 L486.9,113.76 L487.4,114.26 L487.9,114.76 L488.4,115.25 L488.9,115.75 L489.4,116.24 L489.9,116.73 L490.4,117.22 L490.9,117.71 L491.4,118.19 L491.9,118.67 L492.4,119.15 L492.9,119.63 L493.4,120.1 L493.9,120.57 L494.4,121.04 L494.9,121.51 L495.4,121.97 L495.9,122.43 L496.4,122.89 L496.9,123.35 L497.4,123.8 L497.9,124.25 L498.4,124.7 L498.9,125.14 L499.4,125.58 L499.9,126.02 L500.4,126.45 L500.9,126.88 L501.4,127.31 L501.9,127.74 L502.4,128.16 L502.9,128.57 L503.4,128.99"/>
<circle cx="336.4" cy="134" r="1.95" fill="#ff0000"/>
<circle cx="503.4" cy="128.99" r="1.95" fill="#ff0000"/>
<g><circle cx="336.4" cy="122.22" r="2" fill="#fff" stroke="#ff3c3c" stroke-width="0.85"/><circle cx="338.76" cy="120.23" r="2" fill="#fff" stroke="#ff3c3c" stroke-width="0.85"/><circle cx="341.06" cy="118.25" r="2" fill="#fff" stroke="#ff3c3c" stroke-width="0.85"/><circle cx="343.31" cy="116.27" r="2" fill="#fff" stroke="#ff3c3c" stroke-width="0.85"/><circle cx="345.51" cy="114.31" r="2" fill="#fff" stroke="#ff3c3c" stroke-width="0.85"/><circle cx="347.68" cy="112.35" r="2" fill="#fff" stroke="#ff3c3c" stroke-width="0.85"/><circle cx="349.81" cy="110.41" r="2" fill="#fff" stroke="#ff3c3c" stroke-width="0.85"/><circle cx="351.91" cy="108.49" r="2" fill="#fff" stroke="#ff3c3c" stroke-width="0.85"/><circle cx="353.97" cy="106.58" r="2" fill="#fff" stroke="#ff3c3c" stroke-width="0.85"/><circle cx="356.02" cy="104.69" r="2" fill="#fff" stroke="#ff3c3c" stroke-width="0.85"/><circle cx="358.04" cy="102.81" r="2" fill="#fff" stroke="#ff3c3c" stroke-width="0.85"/><circle cx="360.05" cy="100.96" r="2" fill="#fff" stroke="#ff3c3c" stroke-width="0.85"/><circle cx="362.05" cy="99.13" r="2" fill="#fff" stroke="#ff3c3c" stroke-width="0.85"/><circle cx="364.03" cy="97.33" r="2" fill="#fff" stroke="#ff3c3c" stroke-width="0.85"/><circle cx="366.01" cy="95.55" r="2" fill="#fff" stroke="#ff3c3c" stroke-width="0.85"/><circle cx="367.98" cy="93.8" r="2" fill="#fff" stroke="#ff3c3c" stroke-width="0.85"/><circle cx="369.95" cy="92.08" r="2" fill="#fff" stroke="#ff3c3c" stroke-width="0.85"/><circle cx="371.93" cy="90.39" r="2" fill="#fff" stroke="#ff3c3c" stroke-width="0.85"/><circle cx="373.9" cy="88.73" r="2" fill="#fff" stroke="#ff3c3c" stroke-width="0.85"/><circle cx="375.89" cy="87.11" r="2" fill="#fff" stroke="#ff3c3c" stroke-width="0.85"/><circle cx="377.89" cy="85.54" r="2" fill="#fff" stroke="#ff3c3c" stroke-width="0.85"/><circle cx="379.9" cy="84" r="2" fill="#fff" stroke="#ff3c3c" stroke-width="0.85"/><circle cx="381.93" cy="82.52" r="2" fill="#fff" stroke="#ff3c3c" stroke-width="0.85"/><circle cx="383.98" cy="81.09" r="2" fill="#fff" stroke="#ff3c3c" stroke-width="0.85"/><circle cx="386.06" cy="79.71" r="2" fill="#fff" stroke="#ff3c3c" stroke-width="0.85"/><circle cx="388.16" cy="78.4" r="2" fill="#fff" stroke="#ff3c3c" stroke-width="0.85"/><circle cx="390.29" cy="77.16" r="2" fill="#fff" stroke="#ff3c3c" stroke-width="0.85"/><circle cx="392.45" cy="76" r="2" fill="#fff" stroke="#ff3c3c" stroke-width="0.85"/><circle cx="394.64" cy="74.92" r="2" fill="#fff" stroke="#ff3c3c" stroke-width="0.85"/><circle cx="396.87" cy="73.94" r="2" fill="#fff" stroke="#ff3c3c" stroke-width="0.85"/><circle cx="399.13" cy="73.06" r="2" fill="#fff" stroke="#ff3c3c" stroke-width="0.85"/><circle cx="401.43" cy="72.29" r="2" fill="#fff" stroke="#ff3c3c" stroke-width="0.85"/><circle cx="403.76" cy="71.66" r="2" fill="#fff" stroke="#ff3c3c" stroke-width="0.85"/><circle cx="406.11" cy="71.15" r="2" fill="#fff" stroke="#ff3c3c" stroke-width="0.85"/><circle cx="408.49" cy="70.78" r="2" fill="#fff" stroke="#ff3c3c" stroke-width="0.85"/><circle cx="410.88" cy="70.57" r="2" fill="#fff" stroke="#ff3c3c" stroke-width="0.85"/><circle cx="413.28" cy="70.5" r="2" fill="#fff" stroke="#ff3c3c" stroke-width="0.85"/><circle cx="415.68" cy="70.59" r="2" fill="#fff" stroke="#ff3c3c" stroke-width="0.85"/><circle cx="418.06" cy="70.83" r="2" fill="#fff" stroke="#ff3c3c" stroke-width="0.85"/><circle cx="420.44" cy="71.21" r="2" fill="#fff" stroke="#ff3c3c" stroke-width="0.85"/><circle cx="422.78" cy="71.74" r="2" fill="#fff" stroke="#ff3c3c" stroke-width="0.85"/><circle cx="425.1" cy="72.4" r="2" fill="#fff" stroke="#ff3c3c" stroke-width="0.85"/><circle cx="427.39" cy="73.17" r="2" fill="#fff" stroke="#ff3c3c" stroke-width="0.85"/><circle cx="429.64" cy="74.07" r="2" fill="#fff" stroke="#ff3c3c" stroke-width="0.85"/><circle cx="431.85" cy="75.06" r="2" fill="#fff" stroke="#ff3c3c" stroke-width="0.85"/><circle cx="434.03" cy="76.14" r="2" fill="#fff" stroke="#ff3c3c" stroke-width="0.85"/><circle cx="436.18" cy="77.31" r="2" fill="#fff" stroke="#ff3c3c" stroke-width="0.85"/><circle cx="438.3" cy="78.56" r="2" fill="#fff" stroke="#ff3c3c" stroke-width="0.85"/><circle cx="440.39" cy="79.87" r="2" fill="#fff" stroke="#ff3c3c" stroke-width="0.85"/><circle cx="442.45" cy="81.24" r="2" fill="#fff" stroke="#ff3c3c" stroke-width="0.85"/><circle cx="444.48" cy="82.67" r="2" fill="#fff" stroke="#ff3c3c" stroke-width="0.85"/><circle cx="446.5" cy="84.16" r="2" fill="#fff" stroke="#ff3c3c" stroke-width="0.85"/><circle cx="448.5" cy="85.69" r="2" fill="#fff" stroke="#ff3c3c" stroke-width="0.85"/><circle cx="450.49" cy="87.26" r="2" fill="#fff" stroke="#ff3c3c" stroke-width="0.85"/><circle cx="452.46" cy="88.87" r="2" fill="#fff" stroke="#ff3c3c" stroke-width="0.85"/><circle cx="454.42" cy="90.51" r="2" fill="#fff" stroke="#ff3c3c" stroke-width="0.85"/><circle cx="456.38" cy="92.19" r="2" fill="#fff" stroke="#ff3c3c" stroke-width="0.85"/><circle cx="458.34" cy="93.91" r="2" fill="#fff" stroke="#ff3c3c" stroke-width="0.85"/><circle cx="460.3" cy="95.64" r="2" fill="#fff" stroke="#ff3c3c" stroke-width="0.85"/><circle cx="462.26" cy="97.41" r="2" fill="#fff" stroke="#ff3c3c" stroke-width="0.85"/><circle cx="464.23" cy="99.2" r="2" fill="#fff" stroke="#ff3c3c" stroke-width="0.85"/><circle cx="466.2" cy="101.01" r="2" fill="#fff" stroke="#ff3c3c" stroke-width="0.85"/><circle cx="468.19" cy="102.85" r="2" fill="#fff" stroke="#ff3c3c" stroke-width="0.85"/><circle cx="470.2" cy="104.7" r="2" fill="#fff" stroke="#ff3c3c" stroke-width="0.85"/><circle cx="472.22" cy="106.58" r="2" fill="#fff" stroke="#ff3c3c" stroke-width="0.85"/><circle cx="474.27" cy="108.47" r="2" fill="#fff" stroke="#ff3c3c" stroke-width="0.85"/><circle cx="476.35" cy="110.37" r="2" fill="#fff" stroke="#ff3c3c" stroke-width="0.85"/><circle cx="478.45" cy="112.29" r="2" fill="#fff" stroke="#ff3c3c" stroke-width="0.85"/><circle cx="480.59" cy="114.22" r="2" fill="#fff" stroke="#ff3c3c" stroke-width="0.85"/><circle cx="482.76" cy="116.16" r="2" fill="#fff" stroke="#ff3c3c" stroke-width="0.85"/><circle cx="484.98" cy="118.11" r="2" fill="#fff" stroke="#ff3c3c" stroke-width="0.85"/><circle cx="487.24" cy="120.06" r="2" fill="#fff" stroke="#ff3c3c" stroke-width="0.85"/><circle cx="489.56" cy="122.02" r="2" fill="#fff" stroke="#ff3c3c" stroke-width="0.85"/><circle cx="491.94" cy="123.98" r="2" fill="#fff" stroke="#ff3c3c" stroke-width="0.85"/><circle cx="494.37" cy="125.94" r="2" fill="#fff" stroke="#ff3c3c" stroke-width="0.85"/><circle cx="496.88" cy="127.89" r="2" fill="#fff" stroke="#ff3c3c" stroke-width="0.85"/><circle cx="499.47" cy="129.84" r="2" fill="#fff" stroke="#ff3c3c" stroke-width="0.85"/><circle cx="502.14" cy="131.77" r="2" fill="#fff" stroke="#ff3c3c" stroke-width="0.85"/><circle cx="504.91" cy="133.69" r="2" fill="#fff" stroke="#ff3c3c" stroke-width="0.85"/><circle cx="507.78" cy="135.58" r="2" fill="#fff" stroke="#ff3c3c" stroke-width="0.85"/><circle cx="522.2" cy="143.63" r="2" fill="#fff" stroke="#ff3c3c" stroke-width="0.85"/></g>
<path fill="none" stroke="#0000ff" stroke-width="3.9" stroke-linejoin="round" d="M336.4,132.8 L336.9,132.38 L337.4,131.95 L337.9,131.52 L338.4,131.08 L338.9,130.64 L339.4,130.19 L339.9,129.74 L340.4,129.29 L340.9,128.83 L341.4,128.37 L341.9,127.9 L342.4,127.43 L342.9,126.95 L343.4,126.47 L343.9,125.99 L344.4,125.5 L344.9,125.01 L345.4,124.51 L345.9,124.01 L346.4,123.5 L346.9,123 L347.4,122.48 L347.9,121.97 L348.4,121.45 L348.9,120.92 L349.4,120.4 L349.9,119.86 L350.4,119.33 L350.9,118.79 L351.4,118.25 L351.9,117.71 L352.4,117.16 L352.9,116.61 L353.4,116.05 L353.9,115.5 L354.4,114.94 L354.9,114.37 L355.4,113.81 L355.9,113.24 L356.4,112.67 L356.9,112.09 L357.4,111.52 L357.9,110.94 L358.4,110.36 L358.9,109.77 L359.4,109.19 L359.9,108.6 L360.4,108.01 L360.9,107.42 L361.4,106.82 L361.9,106.23 L362.4,105.63 L362.9,105.04 L363.4,104.44 L363.9,103.84 L364.4,103.24 L364.9,102.63 L365.4,102.03 L365.9,101.43 L366.4,100.82 L366.9,100.22 L367.4,99.61 L367.9,99.01 L368.4,98.4 L368.9,97.79 L369.4,97.19 L369.9,96.58 L370.4,95.98 L370.9,95.37 L371.4,94.77 L371.9,94.16 L372.4,93.56 L372.9,92.96 L373.4,92.36 L373.9,91.76 L374.4,91.16 L374.9,90.57 L375.4,89.97 L375.9,89.38 L376.4,88.79 L376.9,88.2 L377.4,87.62 L377.9,87.03 L378.4,86.45 L378.9,85.87 L379.4,85.3 L379.9,84.72 L380.4,84.15 L380.9,83.59 L381.4,83.02 L381.9,82.46 L382.4,81.91 L382.9,81.36 L383.4,80.81 L383.9,80.26 L384.4,79.72 L384.9,79.19 L385.4,78.66 L385.9,78.13 L386.4,77.61 L386.9,77.09 L387.4,76.58 L387.9,76.07 L388.4,75.57 L388.9,75.08 L389.4,74.59 L389.9,74.1 L390.4,73.63 L390.9,73.15 L391.4,72.69 L391.9,72.23 L392.4,71.77 L392.9,71.33 L393.4,70.89 L393.9,70.45 L394.4,70.03 L394.9,69.61 L395.4,69.2 L395.9,68.79 L396.4,68.39 L396.9,68 L397.4,67.62 L397.9,67.25 L398.4,66.88 L398.9,66.52 L399.4,66.17 L399.9,65.83 L400.4,65.49 L400.9,65.17 L401.4,64.85 L401.9,64.54 L402.4,64.24 L402.9,63.95 L403.4,63.67 L403.9,63.39 L404.4,63.13 L404.9,62.87 L405.4,62.62 L405.9,62.39 L406.4,62.16 L406.9,61.94 L407.4,61.73 L407.9,61.53 L408.4,61.34 L408.9,61.16 L409.4,60.99 L409.9,60.83 L410.4,60.68 L410.9,60.53 L411.4,60.4 L411.9,60.28 L412.4,60.17 L412.9,60.07 L413.4,59.97 L413.9,59.89 L414.4,59.82 L414.9,59.76 L415.4,59.71 L415.9,59.67 L416.4,59.63 L416.9,59.61 L417.4,59.6 L417.9,59.6 L418.4,59.61 L418.9,59.63 L419.4,59.66 L419.9,59.7 L420.4,59.75 L420.9,59.81 L421.4,59.88 L421.9,59.96 L422.4,60.05 L422.9,60.15 L423.4,60.26 L423.9,60.38 L424.4,60.51 L424.9,60.65 L425.4,60.8 L425.9,60.96 L426.4,61.12 L426.9,61.3 L427.4,61.49 L427.9,61.69 L428.4,61.9 L428.9,62.11 L429.4,62.34 L429.9,62.58 L430.4,62.82 L430.9,63.07 L431.4,63.34 L431.9,63.61 L432.4,63.89 L432.9,64.18 L433.4,64.48 L433.9,64.79 L434.4,65.1 L434.9,65.43 L435.4,65.76 L435.9,66.1 L436.4,66.45 L436.9,66.81 L437.4,67.17 L437.9,67.55 L438.4,67.93 L438.9,68.31 L439.4,68.71 L439.9,69.11 L440.4,69.53 L440.9,69.94 L441.4,70.37 L441.9,70.8 L442.4,71.24 L442.9,71.68 L443.4,72.14 L443.9,72.59 L444.4,73.06 L444.9,73.53 L445.4,74.01 L445.9,74.49 L446.4,74.98 L446.9,75.47 L447.4,75.97 L447.9,76.48 L448.4,76.99 L448.9,77.5 L449.4,78.03 L449.9,78.55 L450.4,79.08 L450.9,79.62 L451.4,80.15 L451.9,80.7 L452.4,81.25 L452.9,81.8 L453.4,82.35 L453.9,82.91 L454.4,83.47 L454.9,84.04 L455.4,84.61 L455.9,85.18 L456.4,85.76 L456.9,86.33 L457.4,86.91 L457.9,87.5 L458.4,88.08 L458.9,88.67 L459.4,89.26 L459.9,89.85 L460.4,90.45 L460.9,91.04 L461.4,91.64 L461.9,92.24 L462.4,92.84 L462.9,93.44 L463.4,94.04 L463.9,94.65 L464.4,95.25 L464.9,95.86 L465.4,96.46 L465.9,97.07 L466.4,97.67 L466.9,98.28 L467.4,98.88 L467.9,99.49 L468.4,100.1 L468.9,100.7 L469.4,101.31 L469.9,101.91 L470.4,102.51 L470.9,103.11 L471.4,103.72 L471.9,104.32 L472.4,104.92 L472.9,105.51 L473.4,106.11 L473.9,106.71 L474.4,107.3 L474.9,107.89 L475.4,108.48 L475.9,109.07 L476.4,109.65 L476.9,110.24 L477.4,110.82 L477.9,111.4 L478.4,111.98 L478.9,112.55 L479.4,113.12 L479.9,113.69 L480.4,114.26 L480.9,114.82 L481.4,115.38 L481.9,115.94 L482.4,116.5 L482.9,117.05 L483.4,117.6 L483.9,118.14 L484.4,118.68 L484.9,119.22 L485.4,119.76 L485.9,120.29 L486.4,120.82 L486.9,121.34 L487.4,121.86 L487.9,122.38 L488.4,122.89 L488.9,123.4 L489.4,123.91 L489.9,124.41 L490.4,124.91 L490.9,125.4 L491.4,125.89 L491.9,126.37 L492.4,126.86 L492.9,127.33 L493.4,127.81 L493.9,128.27 L494.4,128.74 L494.9,129.2 L495.4,129.65 L495.9,130.1 L496.4,130.55 L496.9,130.99 L497.4,131.43 L497.9,131.87 L498.4,132.29 L498.9,132.72 L499.4,133.14 L499.9,133.55 L500.4,133.97 L500.9,134.37"/>
<circle cx="336.4" cy="132.8" r="1.95" fill="#0000ff"/>
<circle cx="500.9" cy="134.37" r="1.95" fill="#0000ff"/>
<g><polygon points="336.4,114.01 338.57,117.76 334.22,117.76" fill="#fff" stroke="#2828ff" stroke-width="0.85"/><polygon points="338.58,112.01 340.76,115.76 336.41,115.76" fill="#fff" stroke="#2828ff" stroke-width="0.85"/><polygon points="340.72,110.02 342.9,113.77 338.55,113.77" fill="#fff" stroke="#2828ff" stroke-width="0.85"/><polygon points="342.83,108.05 345,111.8 340.65,111.8" fill="#fff" stroke="#2828ff" stroke-width="0.85"/><polygon points="344.9,106.1 347.07,109.85 342.72,109.85" fill="#fff" stroke="#2828ff" stroke-width="0.85"/><polygon points="346.94,104.16 349.12,107.91 344.77,107.91" fill="#fff" stroke="#2828ff" stroke-width="0.85"/><polygon points="348.96,102.24 351.14,105.99 346.79,105.99" fill="#fff" stroke="#2828ff" stroke-width="0.85"/><polygon points="350.96,100.33 353.13,104.08 348.78,104.08" fill="#fff" stroke="#2828ff" stroke-width="0.85"/><polygon points="352.94,98.45 355.12,102.2 350.77,102.2" fill="#fff" stroke="#2828ff" stroke-width="0.85"/><polygon points="354.91,96.6 357.09,100.35 352.74,100.35" fill="#fff" stroke="#2828ff" stroke-width="0.85"/><polygon points="356.87,94.77 359.04,98.52 354.69,98.52" fill="#fff" stroke="#2828ff" stroke-width="0.85"/><polygon points="358.82,92.96 360.99,96.71 356.64,96.71" fill="#fff" stroke="#2828ff" stroke-width="0.85"/><polygon points="360.77,91.18 362.94,94.93 358.59,94.93" fill="#fff" stroke="#2828ff" stroke-width="0.85"/><polygon points="362.72,89.44 364.89,93.19 360.54,93.19" fill="#fff" stroke="#2828ff" stroke-width="0.85"/><polygon points="364.67,87.72 366.84,91.47 362.49,91.47" fill="#fff" stroke="#2828ff" stroke-width="0.85"/><polygon points="366.62,86.04 368.8,89.79 364.45,89.79" fill="#fff" stroke="#2828ff" stroke-width="0.85"/><polygon points="368.59,84.4 370.76,88.15 366.41,88.15" fill="#fff" stroke="#2828ff" stroke-width="0.85"/><polygon points="370.57,82.8 372.74,86.55 368.39,86.55" fill="#fff" stroke="#2828ff" stroke-width="0.85"/><polygon points="372.56,81.25 374.74,85 370.39,85" fill="#fff" stroke="#2828ff" stroke-width="0.85"/><polygon points="374.57,79.75 376.75,83.5 372.4,83.5" fill="#fff" stroke="#2828ff" stroke-width="0.85"/><polygon points="376.61,78.3 378.79,82.05 374.44,82.05" fill="#fff" stroke="#2828ff" stroke-width="0.85"/><polygon points="378.67,76.91 380.85,80.66 376.5,80.66" fill="#fff" stroke="#2828ff" stroke-width="0.85"/><polygon points="380.76,75.59 382.94,79.34 378.59,79.34" fill="#fff" stroke="#2828ff" stroke-width="0.85"/><polygon points="382.88,74.34 385.06,78.09 380.71,78.09" fill="#fff" stroke="#2828ff" stroke-width="0.85"/><polygon points="385.04,73.17 387.22,76.92 382.87,76.92" fill="#fff" stroke="#2828ff" stroke-width="0.85"/><polygon points="387.23,72.1 389.41,75.85 385.06,75.85" fill="#fff" stroke="#2828ff" stroke-width="0.85"/><polygon points="389.46,71.13 391.64,74.88 387.29,74.88" fill="#fff" stroke="#2828ff" stroke-width="0.85"/><polygon points="391.73,70.27 393.9,74.02 389.55,74.02" fill="#fff" stroke="#2828ff" stroke-width="0.85"/><polygon points="394.03,69.53 396.21,73.28 391.86,73.28" fill="#fff" stroke="#2828ff" stroke-width="0.85"/><polygon points="396.37,68.93 398.54,72.68 394.19,72.68" fill="#fff" stroke="#2828ff" stroke-width="0.85"/><polygon points="398.73,68.47 400.9,72.22 396.55,72.22" fill="#fff" stroke="#2828ff" stroke-width="0.85"/><polygon points="401.11,68.16 403.29,71.91 398.94,71.91" fill="#fff" stroke="#2828ff" stroke-width="0.85"/><polygon points="403.51,68.01 405.68,71.76 401.33,71.76" fill="#fff" stroke="#2828ff" stroke-width="0.85"/><polygon points="405.91,68.03 408.08,71.78 403.73,71.78" fill="#fff" stroke="#2828ff" stroke-width="0.85"/><polygon points="408.3,68.2 410.48,71.95 406.13,71.95" fill="#fff" stroke="#2828ff" stroke-width="0.85"/><polygon points="410.68,68.54 412.85,72.29 408.5,72.29" fill="#fff" stroke="#2828ff" stroke-width="0.85"/><polygon points="413.03,69.02 415.21,72.77 410.86,72.77" fill="#fff" stroke="#2828ff" stroke-width="0.85"/><polygon points="415.36,69.65 417.53,73.4 413.18,73.4" fill="#fff" stroke="#2828ff" stroke-width="0.85"/><polygon points="417.65,70.4 419.82,74.15 415.47,74.15" fill="#fff" stroke="#2828ff" stroke-width="0.85"/><polygon points="419.9,71.28 422.08,75.03 417.73,75.03" fill="#fff" stroke="#2828ff" stroke-width="0.85"/><polygon points="422.12,72.27 424.29,76.02 419.94,76.02" fill="#fff" stroke="#2828ff" stroke-width="0.85"/><polygon points="424.3,73.35 426.47,77.1 422.12,77.1" fill="#fff" stroke="#2828ff" stroke-width="0.85"/><polygon points="426.44,74.52 428.62,78.27 424.27,78.27" fill="#fff" stroke="#2828ff" stroke-width="0.85"/><polygon points="428.55,75.78 430.72,79.53 426.37,79.53" fill="#fff" stroke="#2828ff" stroke-width="0.85"/><polygon points="430.62,77.1 432.8,80.85 428.45,80.85" fill="#fff" stroke="#2828ff" stroke-width="0.85"/><polygon points="432.67,78.49 434.85,82.24 430.5,82.24" fill="#fff" stroke="#2828ff" stroke-width="0.85"/><polygon points="434.69,79.94 436.87,83.69 432.52,83.69" fill="#fff" stroke="#2828ff" stroke-width="0.85"/><polygon points="436.69,81.45 438.87,85.2 434.52,85.2" fill="#fff" stroke="#2828ff" stroke-width="0.85"/><polygon points="438.67,83 440.85,86.75 436.5,86.75" fill="#fff" stroke="#2828ff" stroke-width="0.85"/><polygon points="440.64,84.59 442.81,88.34 438.46,88.34" fill="#fff" stroke="#2828ff" stroke-width="0.85"/><polygon points="442.59,86.22 444.77,89.97 440.42,89.97" fill="#fff" stroke="#2828ff" stroke-width="0.85"/><polygon points="444.53,87.89 446.71,91.64 442.36,91.64" fill="#fff" stroke="#2828ff" stroke-width="0.85"/><polygon points="446.47,89.6 448.64,93.35 444.29,93.35" fill="#fff" stroke="#2828ff" stroke-width="0.85"/><polygon points="448.4,91.34 450.58,95.09 446.23,95.09" fill="#fff" stroke="#2828ff" stroke-width="0.85"/><polygon points="450.33,93.1 452.51,96.85 448.16,96.85" fill="#fff" stroke="#2828ff" stroke-width="0.85"/><polygon points="452.27,94.9 454.45,98.65 450.1,98.65" fill="#fff" stroke="#2828ff" stroke-width="0.85"/><polygon points="454.21,96.71 456.39,100.46 452.04,100.46" fill="#fff" stroke="#2828ff" stroke-width="0.85"/><polygon points="456.16,98.56 458.34,102.31 453.99,102.31" fill="#fff" stroke="#2828ff" stroke-width="0.85"/><polygon points="458.13,100.42 460.3,104.17 455.95,104.17" fill="#fff" stroke="#2828ff" stroke-width="0.85"/><polygon points="460.11,102.3 462.28,106.05 457.93,106.05" fill="#fff" stroke="#2828ff" stroke-width="0.85"/><polygon points="462.11,104.2 464.28,107.95 459.93,107.95" fill="#fff" stroke="#2828ff" stroke-width="0.85"/><polygon points="464.13,106.12 466.3,109.87 461.95,109.87" fill="#fff" stroke="#2828ff" stroke-width="0.85"/><polygon points="466.18,108.06 468.35,111.81 464,111.81" fill="#fff" stroke="#2828ff" stroke-width="0.85"/><polygon points="468.26,110.01 470.43,113.76 466.08,113.76" fill="#fff" stroke="#2828ff" stroke-width="0.85"/><polygon points="470.37,111.97 472.55,115.72 468.2,115.72" fill="#fff" stroke="#2828ff" stroke-width="0.85"/><polygon points="472.52,113.94 474.7,117.69 470.35,117.69" fill="#fff" stroke="#2828ff" stroke-width="0.85"/><polygon points="474.72,115.92 476.9,119.67 472.55,119.67" fill="#fff" stroke="#2828ff" stroke-width="0.85"/><polygon points="476.97,117.91 479.14,121.66 474.79,121.66" fill="#fff" stroke="#2828ff" stroke-width="0.85"/><polygon points="479.26,119.9 481.44,123.65 477.09,123.65" fill="#fff" stroke="#2828ff" stroke-width="0.85"/><polygon points="481.62,121.89 483.8,125.64 479.45,125.64" fill="#fff" stroke="#2828ff" stroke-width="0.85"/><polygon points="484.05,123.88 486.23,127.63 481.88,127.63" fill="#fff" stroke="#2828ff" stroke-width="0.85"/><polygon points="486.55,125.87 488.73,129.62 484.38,129.62" fill="#fff" stroke="#2828ff" stroke-width="0.85"/><polygon points="489.13,127.84 491.31,131.59 486.96,131.59" fill="#fff" stroke="#2828ff" stroke-width="0.85"/><polygon points="491.8,129.81 493.98,133.56 489.63,133.56" fill="#fff" stroke="#2828ff" stroke-width="0.85"/><polygon points="494.57,131.76 496.75,135.51 492.4,135.51" fill="#fff" stroke="#2828ff" stroke-width="0.85"/><polygon points="497.45,133.68 499.62,137.43 495.27,137.43" fill="#fff" stroke="#2828ff" stroke-width="0.85"/><polygon points="500.44,135.57 502.62,139.32 498.27,139.32" fill="#fff" stroke="#2828ff" stroke-width="0.85"/><polygon points="503.57,137.43 505.75,141.18 501.4,141.18" fill="#fff" stroke="#2828ff" stroke-width="0.85"/><polygon points="506.84,139.24 509.02,142.99 504.67,142.99" fill="#fff" stroke="#2828ff" stroke-width="0.85"/><polygon points="510.27,140.99 512.44,144.74 508.09,144.74" fill="#fff" stroke="#2828ff" stroke-width="0.85"/><polygon points="513.87,142.68 516.04,146.43 511.69,146.43" fill="#fff" stroke="#2828ff" stroke-width="0.85"/><polygon points="525.9,147.27 528.07,151.02 523.73,151.02" fill="#fff" stroke="#2828ff" stroke-width="0.85"/></g>
<path fill="none" stroke="#008000" stroke-width="3.7" stroke-linejoin="round" d="M336.4,102.64 L336.9,101.83 L337.4,101.01 L337.9,100.19 L338.4,99.37 L338.9,98.54 L339.4,97.71 L339.9,96.88 L340.4,96.04 L340.9,95.2 L341.4,94.36 L341.9,93.52 L342.4,92.68 L342.9,91.83 L343.4,90.98 L343.9,90.14 L344.4,89.29 L344.9,88.44 L345.4,87.59 L345.9,86.74 L346.4,85.89 L346.9,85.04 L347.4,84.2 L347.9,83.35 L348.4,82.5 L348.9,81.66 L349.4,80.82 L349.9,79.98 L350.4,79.14 L350.9,78.3 L351.4,77.47 L351.9,76.64 L352.4,75.81 L352.9,74.99 L353.4,74.17 L353.9,73.36 L354.4,72.55M355.9,70.15 L356.4,69.36 L356.9,68.57 L357.4,67.8 L357.9,67.03 L358.4,66.26 L358.9,65.5 L359.4,64.75M360.9,62.55 L361.4,61.83 L361.9,61.12 L362.4,60.42 L362.9,59.73 L363.4,59.05 L363.9,58.38 L364.4,57.71 L364.9,57.06 L365.4,56.42 L365.9,55.79 L366.4,55.17 L366.9,54.56 L367.4,53.96 L367.9,53.38 L368.4,52.8 L368.9,52.24 L369.4,51.69 L369.9,51.16 L370.4,50.63 L370.9,50.12 L371.4,49.63 L371.9,49.14 L372.4,48.67 L372.9,48.22 L373.4,47.78 L373.9,47.35 L374.4,46.93 L374.9,46.54 L375.4,46.15 L375.9,45.78 L376.4,45.43 L376.9,45.09 L377.4,44.77 L377.9,44.46 L378.4,44.17 L378.9,43.89 L379.4,43.63 L379.9,43.39 L380.4,43.16 L380.9,42.95 L381.4,42.75 L381.9,42.57 L382.4,42.41 L382.9,42.27 L383.4,42.14 L383.9,42.02 L384.4,41.93 L384.9,41.85 L385.4,41.79 L385.9,41.74 L386.4,41.71 L386.9,41.7 L387.4,41.71 L387.9,41.73 L388.4,41.77 L388.9,41.82 L389.4,41.89 L389.9,41.98 L390.4,42.09 L390.9,42.21 L391.4,42.35 L391.9,42.51 L392.4,42.68 L392.9,42.87 L393.4,43.07 L393.9,43.3 L394.4,43.53 L394.9,43.79 L395.4,44.06 L395.9,44.34 L396.4,44.64 L396.9,44.96 L397.4,45.29 L397.9,45.64 L398.4,46 L398.9,46.38 L399.4,46.77 L399.9,47.18 L400.4,47.6 L400.9,48.04 L401.4,48.49 L401.9,48.95 L402.4,49.43 L402.9,49.92 L403.4,50.43 L403.9,50.95 L404.4,51.48 L404.9,52.02 L405.4,52.58 L405.9,53.15 L406.4,53.73 L406.9,54.32 L407.4,54.92 L407.9,55.54 L408.4,56.17 L408.9,56.8 L409.4,57.45 L409.9,58.11 L410.4,58.78 L410.9,59.46 L411.4,60.14 L411.9,60.84 L412.4,61.55 L412.9,62.26 L413.4,62.99 L413.9,63.72 L414.4,64.46 L414.9,65.2 L415.4,65.96 L415.9,66.72 L416.4,67.49 L416.9,68.26 L417.4,69.04 L417.9,69.83 L418.4,70.62 L418.9,71.42 L419.4,72.23 L419.9,73.03 L420.4,73.85 L420.9,74.66 L421.4,75.49 L421.9,76.31 L422.4,77.14 L422.9,77.97 L423.4,78.8 L423.9,79.64 L424.4,80.48 L424.9,81.32 L425.4,82.17 L425.9,83.01 L426.4,83.86 L426.9,84.71 L427.4,85.55 L427.9,86.4 L428.4,87.25 L428.9,88.1 L429.4,88.95 L429.9,89.8 L430.4,90.65 L430.9,91.49 L431.4,92.34 L431.9,93.18 L432.4,94.03 L432.9,94.87 L433.4,95.71 L433.9,96.54 L434.4,97.38 L434.9,98.21 L435.4,99.04 L435.9,99.86 L436.4,100.68 L436.9,101.5 L437.4,102.32 L437.9,103.13 L438.4,103.94 L438.9,104.74 L439.4,105.54 L439.9,106.33 L440.4,107.12M442.4,110.23 L442.9,110.99 L443.4,111.75 L443.9,112.51 L444.4,113.25 L444.9,113.99 L445.4,114.73 L445.9,115.46 L446.4,116.18 L446.9,116.9 L447.4,117.61 L447.9,118.31 L448.4,119.01 L448.9,119.7 L449.4,120.38 L449.9,121.06 L450.4,121.73 L450.9,122.39 L451.4,123.04 L451.9,123.69 L452.4,124.33 L452.9,124.97 L453.4,125.59 L453.9,126.21 L454.4,126.82 L454.9,127.43 L455.4,128.02 L455.9,128.61 L456.4,129.2 L456.9,129.77 L457.4,130.34 L457.9,130.9 L458.4,131.45 L458.9,131.99 L459.4,132.53"/>
<circle cx="336.4" cy="102.64" r="1.85" fill="#008000"/>
<circle cx="460.9" cy="134.1" r="1.85" fill="#008000"/>
<g><polygon points="336.4,83.21 338.7,85.51 336.4,87.81 334.1,85.51" fill="#fff" stroke="#2f962f" stroke-width="0.85"/><polygon points="337.56,80.61 339.86,82.91 337.56,85.21 335.26,82.91" fill="#fff" stroke="#2f962f" stroke-width="0.85"/><polygon points="338.71,78.02 341.01,80.32 338.71,82.62 336.41,80.32" fill="#fff" stroke="#2f962f" stroke-width="0.85"/><polygon points="339.84,75.47 342.14,77.77 339.84,80.07 337.54,77.77" fill="#fff" stroke="#2f962f" stroke-width="0.85"/><polygon points="340.96,72.93 343.26,75.23 340.96,77.53 338.66,75.23" fill="#fff" stroke="#2f962f" stroke-width="0.85"/><polygon points="342.08,70.42 344.38,72.72 342.08,75.02 339.78,72.72" fill="#fff" stroke="#2f962f" stroke-width="0.85"/><polygon points="343.18,67.93 345.48,70.23 343.18,72.53 340.88,70.23" fill="#fff" stroke="#2f962f" stroke-width="0.85"/><polygon points="344.28,65.46 346.58,67.76 344.28,70.06 341.98,67.76" fill="#fff" stroke="#2f962f" stroke-width="0.85"/><polygon points="345.38,63.01 347.68,65.31 345.38,67.61 343.08,65.31" fill="#fff" stroke="#2f962f" stroke-width="0.85"/><polygon points="346.48,60.58 348.78,62.88 346.48,65.18 344.18,62.88" fill="#fff" stroke="#2f962f" stroke-width="0.85"/><polygon points="347.59,58.18 349.89,60.48 347.59,62.78 345.29,60.48" fill="#fff" stroke="#2f962f" stroke-width="0.85"/><polygon points="348.69,55.8 350.99,58.1 348.69,60.4 346.39,58.1" fill="#fff" stroke="#2f962f" stroke-width="0.85"/><polygon points="349.81,53.44 352.11,55.74 349.81,58.04 347.51,55.74" fill="#fff" stroke="#2f962f" stroke-width="0.85"/><polygon points="350.93,51.11 353.23,53.41 350.93,55.71 348.63,53.41" fill="#fff" stroke="#2f962f" stroke-width="0.85"/><polygon points="352.07,48.8 354.37,51.1 352.07,53.4 349.77,51.1" fill="#fff" stroke="#2f962f" stroke-width="0.85"/><polygon points="353.22,46.52 355.52,48.82 353.22,51.12 350.92,48.82" fill="#fff" stroke="#2f962f" stroke-width="0.85"/><polygon points="354.4,44.26 356.7,46.56 354.4,48.86 352.1,46.56" fill="#fff" stroke="#2f962f" stroke-width="0.85"/><polygon points="355.6,42.04 357.9,44.34 355.6,46.64 353.3,44.34" fill="#fff" stroke="#2f962f" stroke-width="0.85"/><polygon points="356.83,39.84 359.13,42.14 356.83,44.44 354.53,42.14" fill="#fff" stroke="#2f962f" stroke-width="0.85"/><polygon points="358.09,37.68 360.39,39.98 358.09,42.28 355.79,39.98" fill="#fff" stroke="#2f962f" stroke-width="0.85"/><polygon points="359.4,35.56 361.7,37.86 359.4,40.16 357.1,37.86" fill="#fff" stroke="#2f962f" stroke-width="0.85"/><polygon points="360.76,33.49 363.06,35.79 360.76,38.09 358.46,35.79" fill="#fff" stroke="#2f962f" stroke-width="0.85"/><polygon points="362.17,31.48 364.47,33.78 362.17,36.08 359.87,33.78" fill="#fff" stroke="#2f962f" stroke-width="0.85"/><polygon points="363.67,29.54 365.97,31.84 363.67,34.14 361.37,31.84" fill="#fff" stroke="#2f962f" stroke-width="0.85"/><polygon points="365.26,27.68 367.56,29.98 365.26,32.28 362.96,29.98" fill="#fff" stroke="#2f962f" stroke-width="0.85"/><polygon points="366.96,25.94 369.26,28.24 366.96,30.54 364.66,28.24" fill="#fff" stroke="#2f962f" stroke-width="0.85"/><polygon points="368.79,24.36 371.09,26.66 368.79,28.96 366.49,26.66" fill="#fff" stroke="#2f962f" stroke-width="0.85"/><polygon points="370.8,23.02 373.1,25.32 370.8,27.62 368.5,25.32" fill="#fff" stroke="#2f962f" stroke-width="0.85"/><polygon points="372.98,22.01 375.28,24.31 372.98,26.61 370.68,24.31" fill="#fff" stroke="#2f962f" stroke-width="0.85"/><polygon points="375.31,21.46 377.61,23.76 375.31,26.06 373.01,23.76" fill="#fff" stroke="#2f962f" stroke-width="0.85"/><polygon points="377.71,21.49 380.01,23.79 377.71,26.09 375.41,23.79" fill="#fff" stroke="#2f962f" stroke-width="0.85"/><polygon points="380.03,22.08 382.33,24.38 380.03,26.68 377.73,24.38" fill="#fff" stroke="#2f962f" stroke-width="0.85"/><polygon points="382.19,23.13 384.49,25.43 382.19,27.73 379.89,25.43" fill="#fff" stroke="#2f962f" stroke-width="0.85"/><polygon points="384.17,24.49 386.47,26.79 384.17,29.09 381.87,26.79" fill="#fff" stroke="#2f962f" stroke-width="0.85"/><polygon points="385.99,26.08 388.29,28.38 385.99,30.68 383.69,28.38" fill="#fff" stroke="#2f962f" stroke-width="0.85"/><polygon points="387.67,27.82 389.97,30.12 387.67,32.42 385.37,30.12" fill="#fff" stroke="#2f962f" stroke-width="0.85"/><polygon points="389.25,29.68 391.55,31.98 389.25,34.28 386.95,31.98" fill="#fff" stroke="#2f962f" stroke-width="0.85"/><polygon points="390.73,31.62 393.03,33.92 390.73,36.22 388.43,33.92" fill="#fff" stroke="#2f962f" stroke-width="0.85"/><polygon points="392.14,33.63 394.44,35.93 392.14,38.23 389.84,35.93" fill="#fff" stroke="#2f962f" stroke-width="0.85"/><polygon points="393.49,35.7 395.79,38 393.49,40.3 391.19,38" fill="#fff" stroke="#2f962f" stroke-width="0.85"/><polygon points="394.78,37.81 397.08,40.11 394.78,42.41 392.48,40.11" fill="#fff" stroke="#2f962f" stroke-width="0.85"/><polygon points="396.04,39.95 398.34,42.25 396.04,44.55 393.74,42.25" fill="#fff" stroke="#2f962f" stroke-width="0.85"/><polygon points="397.26,42.14 399.56,44.44 397.26,46.74 394.96,44.44" fill="#fff" stroke="#2f962f" stroke-width="0.85"/><polygon points="398.45,44.35 400.75,46.65 398.45,48.95 396.15,46.65" fill="#fff" stroke="#2f962f" stroke-width="0.85"/><polygon points="399.62,46.6 401.92,48.9 399.62,51.2 397.32,48.9" fill="#fff" stroke="#2f962f" stroke-width="0.85"/><polygon points="400.76,48.87 403.06,51.17 400.76,53.47 398.46,51.17" fill="#fff" stroke="#2f962f" stroke-width="0.85"/><polygon points="401.89,51.16 404.19,53.46 401.89,55.76 399.59,53.46" fill="#fff" stroke="#2f962f" stroke-width="0.85"/><polygon points="403.01,53.48 405.31,55.78 403.01,58.08 400.71,55.78" fill="#fff" stroke="#2f962f" stroke-width="0.85"/><polygon points="404.12,55.83 406.42,58.13 404.12,60.43 401.82,58.13" fill="#fff" stroke="#2f962f" stroke-width="0.85"/><polygon points="405.22,58.19 407.52,60.49 405.22,62.79 402.92,60.49" fill="#fff" stroke="#2f962f" stroke-width="0.85"/><polygon points="406.31,60.58 408.61,62.88 406.31,65.18 404.01,62.88" fill="#fff" stroke="#2f962f" stroke-width="0.85"/><polygon points="407.41,62.98 409.71,65.28 407.41,67.58 405.11,65.28" fill="#fff" stroke="#2f962f" stroke-width="0.85"/><polygon points="408.5,65.41 410.8,67.71 408.5,70.01 406.2,67.71" fill="#fff" stroke="#2f962f" stroke-width="0.85"/><polygon points="409.59,67.86 411.89,70.16 409.59,72.46 407.29,70.16" fill="#fff" stroke="#2f962f" stroke-width="0.85"/><polygon points="410.69,70.33 412.99,72.63 410.69,74.93 408.39,72.63" fill="#fff" stroke="#2f962f" stroke-width="0.85"/><polygon points="411.79,72.83 414.09,75.13 411.79,77.43 409.49,75.13" fill="#fff" stroke="#2f962f" stroke-width="0.85"/><polygon points="412.9,75.34 415.2,77.64 412.9,79.94 410.6,77.64" fill="#fff" stroke="#2f962f" stroke-width="0.85"/><polygon points="414.02,77.87 416.32,80.17 414.02,82.47 411.72,80.17" fill="#fff" stroke="#2f962f" stroke-width="0.85"/><polygon points="415.16,80.43 417.46,82.73 415.16,85.03 412.86,82.73" fill="#fff" stroke="#2f962f" stroke-width="0.85"/><polygon points="416.31,83.01 418.61,85.31 416.31,87.61 414.01,85.31" fill="#fff" stroke="#2f962f" stroke-width="0.85"/><polygon points="417.48,85.61 419.78,87.91 417.48,90.21 415.18,87.91" fill="#fff" stroke="#2f962f" stroke-width="0.85"/><polygon points="418.66,88.23 420.96,90.53 418.66,92.83 416.36,90.53" fill="#fff" stroke="#2f962f" stroke-width="0.85"/><polygon points="419.88,90.88 422.18,93.18 419.88,95.48 417.58,93.18" fill="#fff" stroke="#2f962f" stroke-width="0.85"/><polygon points="421.11,93.55 423.41,95.85 421.11,98.15 418.81,95.85" fill="#fff" stroke="#2f962f" stroke-width="0.85"/><polygon points="422.38,96.24 424.68,98.54 422.38,100.84 420.08,98.54" fill="#fff" stroke="#2f962f" stroke-width="0.85"/><polygon points="426.42,104.48 428.72,106.78 426.42,109.08 424.12,106.78" fill="#fff" stroke="#2f962f" stroke-width="0.85"/><polygon points="427.85,107.27 430.15,109.57 427.85,111.87 425.55,109.57" fill="#fff" stroke="#2f962f" stroke-width="0.85"/><polygon points="429.35,110.1 431.65,112.4 429.35,114.7 427.05,112.4" fill="#fff" stroke="#2f962f" stroke-width="0.85"/><polygon points="430.91,112.95 433.21,115.25 430.91,117.55 428.61,115.25" fill="#fff" stroke="#2f962f" stroke-width="0.85"/><polygon points="436.09,121.65 438.39,123.95 436.09,126.25 433.79,123.95" fill="#fff" stroke="#2f962f" stroke-width="0.85"/><polygon points="438.03,124.59 440.33,126.89 438.03,129.19 435.73,126.89" fill="#fff" stroke="#2f962f" stroke-width="0.85"/><polygon points="440.1,127.56 442.4,129.86 440.1,132.16 437.8,129.86" fill="#fff" stroke="#2f962f" stroke-width="0.85"/><polygon points="442.34,130.53 444.64,132.83 442.34,135.13 440.04,132.83" fill="#fff" stroke="#2f962f" stroke-width="0.85"/><polygon points="444.77,133.5 447.07,135.8 444.77,138.1 442.47,135.8" fill="#fff" stroke="#2f962f" stroke-width="0.85"/><polygon points="447.44,136.45 449.74,138.75 447.44,141.05 445.14,138.75" fill="#fff" stroke="#2f962f" stroke-width="0.85"/><polygon points="450.38,139.36 452.68,141.66 450.38,143.96 448.08,141.66" fill="#fff" stroke="#2f962f" stroke-width="0.85"/><polygon points="453.67,142.19 455.97,144.49 453.67,146.79 451.37,144.49" fill="#fff" stroke="#2f962f" stroke-width="0.85"/><polygon points="457.35,144.89 459.65,147.19 457.35,149.49 455.05,147.19" fill="#fff" stroke="#2f962f" stroke-width="0.85"/><polygon points="461.29,147.27 463.59,149.57 461.29,151.87 458.99,149.57" fill="#fff" stroke="#2f962f" stroke-width="0.85"/><polygon points="475.6,152.59 477.9,154.89 475.6,157.19 473.3,154.89" fill="#fff" stroke="#2f962f" stroke-width="0.85"/><polygon points="484.9,154.17 487.2,156.47 484.9,158.77 482.6,156.47" fill="#fff" stroke="#2f962f" stroke-width="0.85"/><polygon points="494.2,154.97 496.5,157.27 494.2,159.57 491.9,157.27" fill="#fff" stroke="#2f962f" stroke-width="0.85"/></g>
<circle cx="451.6" cy="12.8" r="2" fill="#ff0000"/>
<text x="463" y="15.7" font-size="8.0" font-family="Liberation Sans, sans-serif" font-weight="bold" fill="#111">May-WRF-solar</text>
<circle cx="451.6" cy="22.75" r="2" fill="#fff" stroke="#ff3c3c" stroke-width="0.75"/>
<text x="463" y="25.65" font-size="8.0" font-family="Liberation Sans, sans-serif" font-weight="bold" fill="#111">May-actual</text>
<polygon points="451.6,30.2 453.78,33.95 449.43,33.95" fill="#0000ff"/>
<text x="463" y="35.6" font-size="8.0" font-family="Liberation Sans, sans-serif" font-weight="bold" fill="#111">August-WRF-solar</text>
<polygon points="451.6,40.15 453.78,43.9 449.43,43.9" fill="#fff" stroke="#2828ff" stroke-width="0.75"/>
<text x="463" y="45.55" font-size="8.0" font-family="Liberation Sans, sans-serif" font-weight="bold" fill="#111">August-actual</text>
<polygon points="451.6,50.3 453.9,52.6 451.6,54.9 449.3,52.6" fill="#008000"/>
<text x="463" y="55.5" font-size="8.0" font-family="Liberation Sans, sans-serif" font-weight="bold" fill="#111">December-WRF-solar</text>
<polygon points="451.6,60.25 453.9,62.55 451.6,64.85 449.3,62.55" fill="#fff" stroke="#2f962f" stroke-width="0.75"/>
<text x="463" y="65.45" font-size="8.0" font-family="Liberation Sans, sans-serif" font-weight="bold" fill="#111">December-actual</text>
<rect x="320.5" y="7.5" width="224" height="160.8" fill="none" stroke="#111" stroke-width="1.2"/>
<text x="330.2" y="24.6" font-size="15.2" font-family="Liberation Sans, sans-serif" font-weight="bold" fill="#111">(b)</text>
<text transform="translate(309.8,86.8) rotate(-90)" font-size="11.3" text-anchor="middle" font-family="Liberation Sans, sans-serif" font-weight="bold" fill="#111">Frequency of occurrence</text>
<path fill="none" stroke="#ff0000" stroke-width="3.9" stroke-linejoin="round" d="M336.4,292.08 L336.9,291.59 L337.4,291.1 L337.9,290.6 L338.4,290.1 L338.9,289.6 L339.4,289.09 L339.9,288.58 L340.4,288.07 L340.9,287.55 L341.4,287.02 L341.9,286.5 L342.4,285.97 L342.9,285.43 L343.4,284.89 L343.9,284.35 L344.4,283.8 L344.9,283.25 L345.4,282.7 L345.9,282.14 L346.4,281.58 L346.9,281.02 L347.4,280.45 L347.9,279.88 L348.4,279.31 L348.9,278.73 L349.4,278.15 L349.9,277.57 L350.4,276.98 L350.9,276.39 L351.4,275.8 L351.9,275.21 L352.4,274.61 L352.9,274.01 L353.4,273.41 L353.9,272.81 L354.4,272.2 L354.9,271.59 L355.4,270.98 L355.9,270.37 L356.4,269.75 L356.9,269.13 L357.4,268.51 L357.9,267.89 L358.4,267.27 L358.9,266.65 L359.4,266.02 L359.9,265.4 L360.4,264.77 L360.9,264.14 L361.4,263.51 L361.9,262.88 L362.4,262.25 L362.9,261.62 L363.4,260.98 L363.9,260.35 L364.4,259.72 L364.9,259.08 L365.4,258.45 L365.9,257.81 L366.4,257.18 L366.9,256.55 L367.4,255.91 L367.9,255.28 L368.4,254.65 L368.9,254.02 L369.4,253.39 L369.9,252.76 L370.4,252.13 L370.9,251.5 L371.4,250.88 L371.9,250.25 L372.4,249.63 L372.9,249.01 L373.4,248.39 L373.9,247.77 L374.4,247.16 L374.9,246.54 L375.4,245.93 L375.9,245.33 L376.4,244.72 L376.9,244.12 L377.4,243.52 L377.9,242.92 L378.4,242.33 L378.9,241.74 L379.4,241.15 L379.9,240.57 L380.4,239.99 L380.9,239.41 L381.4,238.84 L381.9,238.27 L382.4,237.71 L382.9,237.15 L383.4,236.6 L383.9,236.05 L384.4,235.5 L384.9,234.96 L385.4,234.43 L385.9,233.9 L386.4,233.37 L386.9,232.85 L387.4,232.34 L387.9,231.83 L388.4,231.33 L388.9,230.83 L389.4,230.34 L389.9,229.86 L390.4,229.38 L390.9,228.91 L391.4,228.44 L391.9,227.98 L392.4,227.53 L392.9,227.09 L393.4,226.65 L393.9,226.22 L394.4,225.79 L394.9,225.38 L395.4,224.97 L395.9,224.57 L396.4,224.17 L396.9,223.79 L397.4,223.41 L397.9,223.04 L398.4,222.68 L398.9,222.32 L399.4,221.98 L399.9,221.64 L400.4,221.31 L400.9,220.99 L401.4,220.68 L401.9,220.37 L402.4,220.08 L402.9,219.79 L403.4,219.52 L403.9,219.25 L404.4,218.99 L404.9,218.74 L405.4,218.5 L405.9,218.27 L406.4,218.04 L406.9,217.83 L407.4,217.63 L407.9,217.43 L408.4,217.25 L408.9,217.07 L409.4,216.91 L409.9,216.75 L410.4,216.61 L410.9,216.47 L411.4,216.34 L411.9,216.23 L412.4,216.12 L412.9,216.02 L413.4,215.94 L413.9,215.86 L414.4,215.79 L414.9,215.74 L415.4,215.69 L415.9,215.65 L416.4,215.62 L416.9,215.61 L417.4,215.6 L417.9,215.6 L418.4,215.62 L418.9,215.64 L419.4,215.67 L419.9,215.72 L420.4,215.77 L420.9,215.83 L421.4,215.9 L421.9,215.99 L422.4,216.08 L422.9,216.18 L423.4,216.3 L423.9,216.42 L424.4,216.55 L424.9,216.69 L425.4,216.84 L425.9,217.01 L426.4,217.18 L426.9,217.36 L427.4,217.55 L427.9,217.75 L428.4,217.96 L428.9,218.18 L429.4,218.4 L429.9,218.64 L430.4,218.89 L430.9,219.14 L431.4,219.41 L431.9,219.68 L432.4,219.96 L432.9,220.25 L433.4,220.56 L433.9,220.86 L434.4,221.18 L434.9,221.51 L435.4,221.84 L435.9,222.18 L436.4,222.53 L436.9,222.89 L437.4,223.26 L437.9,223.64 L438.4,224.02 L438.9,224.41 L439.4,224.81 L439.9,225.21 L440.4,225.63 L440.9,226.05 L441.4,226.48 L441.9,226.91 L442.4,227.35 L442.9,227.8 L443.4,228.26 L443.9,228.72 L444.4,229.19 L444.9,229.67 L445.4,230.15 L445.9,230.63 L446.4,231.13 L446.9,231.63 L447.4,232.13 L447.9,232.65 L448.4,233.16 L448.9,233.69 L449.4,234.21 L449.9,234.75 L450.4,235.29 L450.9,235.83 L451.4,236.38 L451.9,236.93 L452.4,237.49 L452.9,238.05 L453.4,238.61 L453.9,239.18 L454.4,239.76 L454.9,240.34 L455.4,240.92 L455.9,241.5 L456.4,242.09 L456.9,242.68 L457.4,243.28 L457.9,243.88 L458.4,244.48 L458.9,245.08 L459.4,245.69 L459.9,246.3 L460.4,246.91 L460.9,247.53 L461.4,248.14 L461.9,248.76 L462.4,249.38 L462.9,250 L463.4,250.63 L463.9,251.25 L464.4,251.88 L464.9,252.51 L465.4,253.14 L465.9,253.77 L466.4,254.4 L466.9,255.03 L467.4,255.66 L467.9,256.29 L468.4,256.93 L468.9,257.56 L469.4,258.2 L469.9,258.83 L470.4,259.46 L470.9,260.1 L471.4,260.73 L471.9,261.36 L472.4,262 L472.9,262.63 L473.4,263.26 L473.9,263.89 L474.4,264.52 L474.9,265.15 L475.4,265.77 L475.9,266.4 L476.4,267.02 L476.9,267.65 L477.4,268.27 L477.9,268.89 L478.4,269.5 L478.9,270.12 L479.4,270.73 L479.9,271.35 L480.4,271.96 L480.9,272.56 L481.4,273.17 L481.9,273.77 L482.4,274.37 L482.9,274.97 L483.4,275.57 L483.9,276.16 L484.4,276.75 L484.9,277.34 L485.4,277.92 L485.9,278.5 L486.4,279.08 L486.9,279.65 L487.4,280.23 L487.9,280.79 L488.4,281.36 L488.9,281.92 L489.4,282.48 L489.9,283.03 L490.4,283.58 L490.9,284.13 L491.4,284.68 L491.9,285.22 L492.4,285.75 L492.9,286.29 L493.4,286.81 L493.9,287.34 L494.4,287.86 L494.9,288.38 L495.4,288.89 L495.9,289.4 L496.4,289.9 L496.9,290.4 L497.4,290.9 L497.9,291.39 L498.4,291.88 L498.9,292.37 L499.4,292.85 L499.9,293.32 L500.4,293.79 L500.9,294.26 L501.4,294.72 L501.9,295.18 L502.4,295.63 L502.9,296.08 L503.4,296.53"/>
<circle cx="336.4" cy="292.08" r="1.95" fill="#ff0000"/>
<circle cx="503.4" cy="296.53" r="1.95" fill="#ff0000"/>
<g><circle cx="336.4" cy="279.13" r="2" fill="#fff" stroke="#ff3c3c" stroke-width="0.85"/><circle cx="338.43" cy="276.88" r="2" fill="#fff" stroke="#ff3c3c" stroke-width="0.85"/><circle cx="340.41" cy="274.64" r="2" fill="#fff" stroke="#ff3c3c" stroke-width="0.85"/><circle cx="342.35" cy="272.42" r="2" fill="#fff" stroke="#ff3c3c" stroke-width="0.85"/><circle cx="344.25" cy="270.21" r="2" fill="#fff" stroke="#ff3c3c" stroke-width="0.85"/><circle cx="346.12" cy="268.02" r="2" fill="#fff" stroke="#ff3c3c" stroke-width="0.85"/><circle cx="347.97" cy="265.85" r="2" fill="#fff" stroke="#ff3c3c" stroke-width="0.85"/><circle cx="349.78" cy="263.69" r="2" fill="#fff" stroke="#ff3c3c" stroke-width="0.85"/><circle cx="351.58" cy="261.56" r="2" fill="#fff" stroke="#ff3c3c" stroke-width="0.85"/><circle cx="353.36" cy="259.44" r="2" fill="#fff" stroke="#ff3c3c" stroke-width="0.85"/><circle cx="355.13" cy="257.35" r="2" fill="#fff" stroke="#ff3c3c" stroke-width="0.85"/><circle cx="356.88" cy="255.28" r="2" fill="#fff" stroke="#ff3c3c" stroke-width="0.85"/><circle cx="358.63" cy="253.23" r="2" fill="#fff" stroke="#ff3c3c" stroke-width="0.85"/><circle cx="360.37" cy="251.21" r="2" fill="#fff" stroke="#ff3c3c" stroke-width="0.85"/><circle cx="362.11" cy="249.21" r="2" fill="#fff" stroke="#ff3c3c" stroke-width="0.85"/><circle cx="363.85" cy="247.24" r="2" fill="#fff" stroke="#ff3c3c" stroke-width="0.85"/><circle cx="365.59" cy="245.3" r="2" fill="#fff" stroke="#ff3c3c" stroke-width="0.85"/><circle cx="367.34" cy="243.39" r="2" fill="#fff" stroke="#ff3c3c" stroke-width="0.85"/><circle cx="369.11" cy="241.51" r="2" fill="#fff" stroke="#ff3c3c" stroke-width="0.85"/><circle cx="370.88" cy="239.67" r="2" fill="#fff" stroke="#ff3c3c" stroke-width="0.85"/><circle cx="372.67" cy="237.87" r="2" fill="#fff" stroke="#ff3c3c" stroke-width="0.85"/><circle cx="374.49" cy="236.11" r="2" fill="#fff" stroke="#ff3c3c" stroke-width="0.85"/><circle cx="376.32" cy="234.39" r="2" fill="#fff" stroke="#ff3c3c" stroke-width="0.85"/><circle cx="378.19" cy="232.73" r="2" fill="#fff" stroke="#ff3c3c" stroke-width="0.85"/><circle cx="380.09" cy="231.12" r="2" fill="#fff" stroke="#ff3c3c" stroke-width="0.85"/><circle cx="382.02" cy="229.58" r="2" fill="#fff" stroke="#ff3c3c" stroke-width="0.85"/><circle cx="384" cy="228.11" r="2" fill="#fff" stroke="#ff3c3c" stroke-width="0.85"/><circle cx="386.02" cy="226.72" r="2" fill="#fff" stroke="#ff3c3c" stroke-width="0.85"/><circle cx="388.1" cy="225.43" r="2" fill="#fff" stroke="#ff3c3c" stroke-width="0.85"/><circle cx="390.22" cy="224.24" r="2" fill="#fff" stroke="#ff3c3c" stroke-width="0.85"/><circle cx="392.4" cy="223.18" r="2" fill="#fff" stroke="#ff3c3c" stroke-width="0.85"/><circle cx="394.64" cy="222.26" r="2" fill="#fff" stroke="#ff3c3c" stroke-width="0.85"/><circle cx="396.92" cy="221.49" r="2" fill="#fff" stroke="#ff3c3c" stroke-width="0.85"/><circle cx="399.26" cy="220.91" r="2" fill="#fff" stroke="#ff3c3c" stroke-width="0.85"/><circle cx="401.63" cy="220.51" r="2" fill="#fff" stroke="#ff3c3c" stroke-width="0.85"/><circle cx="404.02" cy="220.32" r="2" fill="#fff" stroke="#ff3c3c" stroke-width="0.85"/><circle cx="406.42" cy="220.34" r="2" fill="#fff" stroke="#ff3c3c" stroke-width="0.85"/><circle cx="408.81" cy="220.57" r="2" fill="#fff" stroke="#ff3c3c" stroke-width="0.85"/><circle cx="411.17" cy="221" r="2" fill="#fff" stroke="#ff3c3c" stroke-width="0.85"/><circle cx="413.49" cy="221.62" r="2" fill="#fff" stroke="#ff3c3c" stroke-width="0.85"/><circle cx="415.77" cy="222.41" r="2" fill="#fff" stroke="#ff3c3c" stroke-width="0.85"/><circle cx="417.99" cy="223.36" r="2" fill="#fff" stroke="#ff3c3c" stroke-width="0.85"/><circle cx="420.15" cy="224.44" r="2" fill="#fff" stroke="#ff3c3c" stroke-width="0.85"/><circle cx="422.26" cy="225.64" r="2" fill="#fff" stroke="#ff3c3c" stroke-width="0.85"/><circle cx="424.32" cy="226.95" r="2" fill="#fff" stroke="#ff3c3c" stroke-width="0.85"/><circle cx="426.32" cy="228.34" r="2" fill="#fff" stroke="#ff3c3c" stroke-width="0.85"/><circle cx="428.29" cy="229.82" r="2" fill="#fff" stroke="#ff3c3c" stroke-width="0.85"/><circle cx="430.21" cy="231.36" r="2" fill="#fff" stroke="#ff3c3c" stroke-width="0.85"/><circle cx="432.09" cy="232.97" r="2" fill="#fff" stroke="#ff3c3c" stroke-width="0.85"/><circle cx="433.94" cy="234.63" r="2" fill="#fff" stroke="#ff3c3c" stroke-width="0.85"/><circle cx="435.77" cy="236.35" r="2" fill="#fff" stroke="#ff3c3c" stroke-width="0.85"/><circle cx="437.57" cy="238.1" r="2" fill="#fff" stroke="#ff3c3c" stroke-width="0.85"/><circle cx="439.35" cy="239.9" r="2" fill="#fff" stroke="#ff3c3c" stroke-width="0.85"/><circle cx="441.11" cy="241.74" r="2" fill="#fff" stroke="#ff3c3c" stroke-width="0.85"/><circle cx="442.86" cy="243.61" r="2" fill="#fff" stroke="#ff3c3c" stroke-width="0.85"/><circle cx="444.59" cy="245.51" r="2" fill="#fff" stroke="#ff3c3c" stroke-width="0.85"/><circle cx="446.33" cy="247.44" r="2" fill="#fff" stroke="#ff3c3c" stroke-width="0.85"/><circle cx="448.05" cy="249.4" r="2" fill="#fff" stroke="#ff3c3c" stroke-width="0.85"/><circle cx="449.78" cy="251.38" r="2" fill="#fff" stroke="#ff3c3c" stroke-width="0.85"/><circle cx="451.51" cy="253.39" r="2" fill="#fff" stroke="#ff3c3c" stroke-width="0.85"/><circle cx="453.24" cy="255.42" r="2" fill="#fff" stroke="#ff3c3c" stroke-width="0.85"/><circle cx="454.98" cy="257.48" r="2" fill="#fff" stroke="#ff3c3c" stroke-width="0.85"/><circle cx="456.73" cy="259.56" r="2" fill="#fff" stroke="#ff3c3c" stroke-width="0.85"/><circle cx="458.5" cy="261.65" r="2" fill="#fff" stroke="#ff3c3c" stroke-width="0.85"/><circle cx="460.28" cy="263.77" r="2" fill="#fff" stroke="#ff3c3c" stroke-width="0.85"/><circle cx="462.08" cy="265.9" r="2" fill="#fff" stroke="#ff3c3c" stroke-width="0.85"/><circle cx="463.9" cy="268.05" r="2" fill="#fff" stroke="#ff3c3c" stroke-width="0.85"/><circle cx="465.75" cy="270.21" r="2" fill="#fff" stroke="#ff3c3c" stroke-width="0.85"/><circle cx="467.63" cy="272.4" r="2" fill="#fff" stroke="#ff3c3c" stroke-width="0.85"/><circle cx="469.55" cy="274.59" r="2" fill="#fff" stroke="#ff3c3c" stroke-width="0.85"/><circle cx="471.51" cy="276.8" r="2" fill="#fff" stroke="#ff3c3c" stroke-width="0.85"/><circle cx="473.5" cy="279.02" r="2" fill="#fff" stroke="#ff3c3c" stroke-width="0.85"/><circle cx="475.55" cy="281.25" r="2" fill="#fff" stroke="#ff3c3c" stroke-width="0.85"/><circle cx="477.65" cy="283.49" r="2" fill="#fff" stroke="#ff3c3c" stroke-width="0.85"/><circle cx="479.81" cy="285.73" r="2" fill="#fff" stroke="#ff3c3c" stroke-width="0.85"/><circle cx="482.04" cy="287.98" r="2" fill="#fff" stroke="#ff3c3c" stroke-width="0.85"/><circle cx="484.34" cy="290.23" r="2" fill="#fff" stroke="#ff3c3c" stroke-width="0.85"/><circle cx="486.73" cy="292.48" r="2" fill="#fff" stroke="#ff3c3c" stroke-width="0.85"/><circle cx="489.2" cy="294.72" r="2" fill="#fff" stroke="#ff3c3c" stroke-width="0.85"/><circle cx="491.78" cy="296.95" r="2" fill="#fff" stroke="#ff3c3c" stroke-width="0.85"/><circle cx="494.47" cy="299.17" r="2" fill="#fff" stroke="#ff3c3c" stroke-width="0.85"/><circle cx="497.28" cy="301.35" r="2" fill="#fff" stroke="#ff3c3c" stroke-width="0.85"/><circle cx="500.24" cy="303.51" r="2" fill="#fff" stroke="#ff3c3c" stroke-width="0.85"/><circle cx="503.34" cy="305.63" r="2" fill="#fff" stroke="#ff3c3c" stroke-width="0.85"/><circle cx="506.62" cy="307.69" r="2" fill="#fff" stroke="#ff3c3c" stroke-width="0.85"/><circle cx="510.09" cy="309.69" r="2" fill="#fff" stroke="#ff3c3c" stroke-width="0.85"/><circle cx="513.76" cy="311.61" r="2" fill="#fff" stroke="#ff3c3c" stroke-width="0.85"/><circle cx="529.5" cy="317.76" r="2" fill="#fff" stroke="#ff3c3c" stroke-width="0.85"/></g>
<path fill="none" stroke="#0000ff" stroke-width="3.9" stroke-linejoin="round" d="M336.4,285.15 L336.9,284.63 L337.4,284.11 L337.9,283.58 L338.4,283.05 L338.9,282.52 L339.4,281.98 L339.9,281.44 L340.4,280.9 L340.9,280.35 L341.4,279.8 L341.9,279.25 L342.4,278.7 L342.9,278.14 L343.4,277.58 L343.9,277.02 L344.4,276.46 L344.9,275.89 L345.4,275.32 L345.9,274.75 L346.4,274.17 L346.9,273.6 L347.4,273.02 L347.9,272.44 L348.4,271.86 L348.9,271.28 L349.4,270.69 L349.9,270.1 L350.4,269.52 L350.9,268.93 L351.4,268.34 L351.9,267.74 L352.4,267.15 L352.9,266.56 L353.4,265.96 L353.9,265.36 L354.4,264.77 L354.9,264.17 L355.4,263.57 L355.9,262.97 L356.4,262.37 L356.9,261.77 L357.4,261.17 L357.9,260.57 L358.4,259.97 L358.9,259.38 L359.4,258.78 L359.9,258.18 L360.4,257.58 L360.9,256.98 L361.4,256.38 L361.9,255.79 L362.4,255.19 L362.9,254.6 L363.4,254 L363.9,253.41 L364.4,252.82 L364.9,252.23 L365.4,251.65 L365.9,251.06 L366.4,250.48 L366.9,249.89 L367.4,249.32 L367.9,248.74 L368.4,248.16 L368.9,247.59 L369.4,247.02 L369.9,246.45 L370.4,245.89 L370.9,245.33 L371.4,244.77 L371.9,244.21 L372.4,243.66 L372.9,243.11 L373.4,242.57 L373.9,242.02 L374.4,241.49 L374.9,240.95 L375.4,240.42 L375.9,239.9 L376.4,239.38 L376.9,238.86 L377.4,238.35 L377.9,237.84 L378.4,237.33 L378.9,236.84 L379.4,236.34 L379.9,235.85 L380.4,235.37 L380.9,234.89 L381.4,234.42 L381.9,233.95 L382.4,233.49 L382.9,233.04 L383.4,232.59 L383.9,232.14 L384.4,231.71 L384.9,231.28 L385.4,230.85 L385.9,230.43 L386.4,230.02 L386.9,229.61 L387.4,229.22 L387.9,228.82 L388.4,228.44 L388.9,228.06 L389.4,227.69 L389.9,227.33 L390.4,226.97 L390.9,226.62 L391.4,226.28 L391.9,225.94 L392.4,225.62 L392.9,225.3 L393.4,224.99 L393.9,224.69 L394.4,224.39 L394.9,224.1 L395.4,223.82 L395.9,223.55 L396.4,223.29 L396.9,223.04 L397.4,222.79 L397.9,222.55 L398.4,222.32 L398.9,222.1 L399.4,221.89 L399.9,221.69 L400.4,221.49 L400.9,221.31 L401.4,221.13 L401.9,220.96 L402.4,220.81 L402.9,220.66 L403.4,220.51 L403.9,220.38 L404.4,220.26 L404.9,220.15 L405.4,220.04 L405.9,219.95 L406.4,219.86 L406.9,219.78 L407.4,219.72 L407.9,219.66 L408.4,219.61 L408.9,219.57 L409.4,219.54 L409.9,219.52 L410.4,219.5 L410.9,219.5 L411.4,219.51 L411.9,219.52 L412.4,219.55 L412.9,219.58 L413.4,219.63 L413.9,219.68 L414.4,219.74 L414.9,219.81 L415.4,219.89 L415.9,219.98 L416.4,220.08 L416.9,220.19 L417.4,220.31 L417.9,220.43 L418.4,220.57 L418.9,220.71 L419.4,220.87 L419.9,221.03 L420.4,221.2 L420.9,221.38 L421.4,221.57 L421.9,221.77 L422.4,221.98 L422.9,222.19 L423.4,222.41 L423.9,222.65 L424.4,222.89 L424.9,223.14 L425.4,223.39 L425.9,223.66 L426.4,223.93 L426.9,224.22 L427.4,224.51 L427.9,224.81 L428.4,225.11 L428.9,225.43 L429.4,225.75 L429.9,226.08 L430.4,226.41 L430.9,226.76 L431.4,227.11 L431.9,227.47 L432.4,227.84 L432.9,228.21 L433.4,228.59 L433.9,228.98 L434.4,229.37 L434.9,229.78 L435.4,230.18 L435.9,230.6 L436.4,231.02 L436.9,231.45 L437.4,231.88 L437.9,232.32 L438.4,232.77 L438.9,233.22 L439.4,233.68 L439.9,234.14 L440.4,234.61 L440.9,235.08 L441.4,235.56 L441.9,236.05 L442.4,236.54 L442.9,237.04 L443.4,237.54 L443.9,238.04 L444.4,238.55 L444.9,239.06 L445.4,239.58 L445.9,240.11 L446.4,240.63 L446.9,241.17 L447.4,241.7 L447.9,242.24 L448.4,242.78 L448.9,243.33 L449.4,243.88 L449.9,244.43 L450.4,244.99 L450.9,245.55 L451.4,246.11 L451.9,246.68 L452.4,247.25 L452.9,247.82 L453.4,248.39 L453.9,248.97 L454.4,249.55 L454.9,250.13 L455.4,250.71 L455.9,251.29 L456.4,251.88 L456.9,252.47 L457.4,253.06 L457.9,253.65 L458.4,254.24 L458.9,254.84 L459.4,255.43 L459.9,256.03 L460.4,256.62 L460.9,257.22 L461.4,257.82 L461.9,258.42 L462.4,259.02 L462.9,259.62 L463.4,260.21 L463.9,260.81 L464.4,261.41 L464.9,262.01 L465.4,262.61 L465.9,263.21 L466.4,263.81 L466.9,264.41 L467.4,265.01 L467.9,265.6 L468.4,266.2 L468.9,266.79 L469.4,267.39 L469.9,267.98 L470.4,268.57 L470.9,269.16 L471.4,269.75 L471.9,270.34 L472.4,270.93 L472.9,271.51 L473.4,272.09 L473.9,272.67 L474.4,273.25 L474.9,273.83 L475.4,274.4 L475.9,274.98 L476.4,275.55 L476.9,276.12 L477.4,276.68 L477.9,277.25 L478.4,277.81 L478.9,278.36 L479.4,278.92 L479.9,279.47 L480.4,280.02 L480.9,280.57 L481.4,281.12 L481.9,281.66 L482.4,282.2 L482.9,282.73 L483.4,283.26 L483.9,283.79 L484.4,284.32 L484.9,284.84 L485.4,285.36 L485.9,285.88 L486.4,286.39 L486.9,286.9 L487.4,287.41 L487.9,287.91 L488.4,288.41 L488.9,288.9 L489.4,289.39 L489.9,289.88 L490.4,290.36 L490.9,290.84 L491.4,291.32 L491.9,291.79 L492.4,292.26 L492.9,292.72 L493.4,293.19 L493.9,293.64 L494.4,294.09 L494.9,294.54 L495.4,294.99 L495.9,295.43 L496.4,295.87 L496.9,296.3"/>
<circle cx="336.4" cy="285.15" r="1.95" fill="#0000ff"/>
<circle cx="496.9" cy="296.3" r="1.95" fill="#0000ff"/>
<g><polygon points="336.4,268.09 338.57,271.84 334.22,271.84" fill="#fff" stroke="#2828ff" stroke-width="0.85"/><polygon points="338.31,265.95 340.48,269.7 336.13,269.7" fill="#fff" stroke="#2828ff" stroke-width="0.85"/><polygon points="340.19,263.82 342.37,267.57 338.02,267.57" fill="#fff" stroke="#2828ff" stroke-width="0.85"/><polygon points="342.05,261.71 344.23,265.46 339.88,265.46" fill="#fff" stroke="#2828ff" stroke-width="0.85"/><polygon points="343.89,259.62 346.06,263.37 341.71,263.37" fill="#fff" stroke="#2828ff" stroke-width="0.85"/><polygon points="345.71,257.54 347.88,261.29 343.53,261.29" fill="#fff" stroke="#2828ff" stroke-width="0.85"/><polygon points="347.52,255.49 349.69,259.24 345.34,259.24" fill="#fff" stroke="#2828ff" stroke-width="0.85"/><polygon points="349.31,253.47 351.49,257.22 347.14,257.22" fill="#fff" stroke="#2828ff" stroke-width="0.85"/><polygon points="351.1,251.46 353.27,255.21 348.92,255.21" fill="#fff" stroke="#2828ff" stroke-width="0.85"/><polygon points="352.88,249.48 355.06,253.23 350.71,253.23" fill="#fff" stroke="#2828ff" stroke-width="0.85"/><polygon points="354.66,247.52 356.84,251.27 352.49,251.27" fill="#fff" stroke="#2828ff" stroke-width="0.85"/><polygon points="356.44,245.6 358.62,249.35 354.27,249.35" fill="#fff" stroke="#2828ff" stroke-width="0.85"/><polygon points="358.23,243.7 360.4,247.45 356.05,247.45" fill="#fff" stroke="#2828ff" stroke-width="0.85"/><polygon points="360.02,241.83 362.2,245.58 357.85,245.58" fill="#fff" stroke="#2828ff" stroke-width="0.85"/><polygon points="361.82,240 364,243.75 359.65,243.75" fill="#fff" stroke="#2828ff" stroke-width="0.85"/><polygon points="363.64,238.2 365.82,241.95 361.47,241.95" fill="#fff" stroke="#2828ff" stroke-width="0.85"/><polygon points="365.47,236.45 367.65,240.2 363.3,240.2" fill="#fff" stroke="#2828ff" stroke-width="0.85"/><polygon points="367.33,234.73 369.5,238.48 365.15,238.48" fill="#fff" stroke="#2828ff" stroke-width="0.85"/><polygon points="369.21,233.07 371.38,236.82 367.03,236.82" fill="#fff" stroke="#2828ff" stroke-width="0.85"/><polygon points="371.11,231.45 373.29,235.2 368.94,235.2" fill="#fff" stroke="#2828ff" stroke-width="0.85"/><polygon points="373.05,229.9 375.22,233.65 370.87,233.65" fill="#fff" stroke="#2828ff" stroke-width="0.85"/><polygon points="375.02,228.41 377.2,232.16 372.85,232.16" fill="#fff" stroke="#2828ff" stroke-width="0.85"/><polygon points="377.03,226.99 379.21,230.74 374.86,230.74" fill="#fff" stroke="#2828ff" stroke-width="0.85"/><polygon points="379.09,225.65 381.26,229.4 376.91,229.4" fill="#fff" stroke="#2828ff" stroke-width="0.85"/><polygon points="381.19,224.41 383.37,228.16 379.02,228.16" fill="#fff" stroke="#2828ff" stroke-width="0.85"/><polygon points="383.34,223.27 385.52,227.02 381.17,227.02" fill="#fff" stroke="#2828ff" stroke-width="0.85"/><polygon points="385.55,222.26 387.72,226.01 383.37,226.01" fill="#fff" stroke="#2828ff" stroke-width="0.85"/><polygon points="387.8,221.38 389.97,225.13 385.62,225.13" fill="#fff" stroke="#2828ff" stroke-width="0.85"/><polygon points="390.1,220.65 392.27,224.4 387.92,224.4" fill="#fff" stroke="#2828ff" stroke-width="0.85"/><polygon points="392.44,220.09 394.61,223.84 390.26,223.84" fill="#fff" stroke="#2828ff" stroke-width="0.85"/><polygon points="394.81,219.71 396.99,223.46 392.64,223.46" fill="#fff" stroke="#2828ff" stroke-width="0.85"/><polygon points="397.2,219.52 399.38,223.27 395.03,223.27" fill="#fff" stroke="#2828ff" stroke-width="0.85"/><polygon points="399.6,219.53 401.78,223.28 397.43,223.28" fill="#fff" stroke="#2828ff" stroke-width="0.85"/><polygon points="401.99,219.73 404.17,223.48 399.82,223.48" fill="#fff" stroke="#2828ff" stroke-width="0.85"/><polygon points="404.36,220.13 406.54,223.88 402.19,223.88" fill="#fff" stroke="#2828ff" stroke-width="0.85"/><polygon points="406.7,220.71 408.87,224.46 404.52,224.46" fill="#fff" stroke="#2828ff" stroke-width="0.85"/><polygon points="408.99,221.45 411.16,225.2 406.81,225.2" fill="#fff" stroke="#2828ff" stroke-width="0.85"/><polygon points="411.23,222.33 413.4,226.08 409.05,226.08" fill="#fff" stroke="#2828ff" stroke-width="0.85"/><polygon points="413.42,223.36 415.6,227.11 411.25,227.11" fill="#fff" stroke="#2828ff" stroke-width="0.85"/><polygon points="415.56,224.5 417.74,228.25 413.39,228.25" fill="#fff" stroke="#2828ff" stroke-width="0.85"/><polygon points="417.65,225.74 419.83,229.49 415.48,229.49" fill="#fff" stroke="#2828ff" stroke-width="0.85"/><polygon points="419.7,227.08 421.87,230.83 417.52,230.83" fill="#fff" stroke="#2828ff" stroke-width="0.85"/><polygon points="421.7,228.49 423.87,232.24 419.52,232.24" fill="#fff" stroke="#2828ff" stroke-width="0.85"/><polygon points="423.66,229.98 425.84,233.73 421.49,233.73" fill="#fff" stroke="#2828ff" stroke-width="0.85"/><polygon points="425.59,231.53 427.76,235.28 423.41,235.28" fill="#fff" stroke="#2828ff" stroke-width="0.85"/><polygon points="427.48,233.14 429.66,236.89 425.31,236.89" fill="#fff" stroke="#2828ff" stroke-width="0.85"/><polygon points="429.35,234.8 431.52,238.55 427.17,238.55" fill="#fff" stroke="#2828ff" stroke-width="0.85"/><polygon points="431.19,236.51 433.37,240.26 429.02,240.26" fill="#fff" stroke="#2828ff" stroke-width="0.85"/><polygon points="433.01,238.26 435.19,242.01 430.84,242.01" fill="#fff" stroke="#2828ff" stroke-width="0.85"/><polygon points="434.82,240.04 436.99,243.79 432.64,243.79" fill="#fff" stroke="#2828ff" stroke-width="0.85"/><polygon points="436.61,241.87 438.78,245.62 434.43,245.62" fill="#fff" stroke="#2828ff" stroke-width="0.85"/><polygon points="438.39,243.72 440.57,247.47 436.22,247.47" fill="#fff" stroke="#2828ff" stroke-width="0.85"/><polygon points="440.16,245.61 442.34,249.36 437.99,249.36" fill="#fff" stroke="#2828ff" stroke-width="0.85"/><polygon points="441.93,247.52 444.11,251.27 439.76,251.27" fill="#fff" stroke="#2828ff" stroke-width="0.85"/><polygon points="443.7,249.46 445.88,253.21 441.53,253.21" fill="#fff" stroke="#2828ff" stroke-width="0.85"/><polygon points="445.47,251.42 447.64,255.17 443.29,255.17" fill="#fff" stroke="#2828ff" stroke-width="0.85"/><polygon points="447.24,253.41 449.42,257.16 445.07,257.16" fill="#fff" stroke="#2828ff" stroke-width="0.85"/><polygon points="449.02,255.42 451.2,259.17 446.85,259.17" fill="#fff" stroke="#2828ff" stroke-width="0.85"/><polygon points="450.81,257.46 452.99,261.21 448.64,261.21" fill="#fff" stroke="#2828ff" stroke-width="0.85"/><polygon points="452.62,259.51 454.79,263.26 450.44,263.26" fill="#fff" stroke="#2828ff" stroke-width="0.85"/><polygon points="454.44,261.58 456.61,265.33 452.26,265.33" fill="#fff" stroke="#2828ff" stroke-width="0.85"/><polygon points="456.27,263.67 458.45,267.42 454.1,267.42" fill="#fff" stroke="#2828ff" stroke-width="0.85"/><polygon points="458.14,265.77 460.31,269.52 455.96,269.52" fill="#fff" stroke="#2828ff" stroke-width="0.85"/><polygon points="460.02,267.9 462.2,271.65 457.85,271.65" fill="#fff" stroke="#2828ff" stroke-width="0.85"/><polygon points="461.94,270.03 464.11,273.78 459.76,273.78" fill="#fff" stroke="#2828ff" stroke-width="0.85"/><polygon points="463.89,272.18 466.06,275.93 461.71,275.93" fill="#fff" stroke="#2828ff" stroke-width="0.85"/><polygon points="465.88,274.35 468.05,278.1 463.7,278.1" fill="#fff" stroke="#2828ff" stroke-width="0.85"/><polygon points="467.9,276.52 470.08,280.27 465.73,280.27" fill="#fff" stroke="#2828ff" stroke-width="0.85"/><polygon points="469.98,278.7 472.16,282.45 467.81,282.45" fill="#fff" stroke="#2828ff" stroke-width="0.85"/><polygon points="472.11,280.89 474.28,284.64 469.93,284.64" fill="#fff" stroke="#2828ff" stroke-width="0.85"/><polygon points="474.3,283.09 476.47,286.84 472.12,286.84" fill="#fff" stroke="#2828ff" stroke-width="0.85"/><polygon points="476.55,285.29 478.72,289.04 474.37,289.04" fill="#fff" stroke="#2828ff" stroke-width="0.85"/><polygon points="478.87,287.49 481.04,291.24 476.69,291.24" fill="#fff" stroke="#2828ff" stroke-width="0.85"/><polygon points="481.27,289.69 483.44,293.44 479.09,293.44" fill="#fff" stroke="#2828ff" stroke-width="0.85"/><polygon points="483.76,291.88 485.93,295.63 481.58,295.63" fill="#fff" stroke="#2828ff" stroke-width="0.85"/><polygon points="486.34,294.07 488.52,297.82 484.17,297.82" fill="#fff" stroke="#2828ff" stroke-width="0.85"/><polygon points="489.03,296.23 491.21,299.98 486.86,299.98" fill="#fff" stroke="#2828ff" stroke-width="0.85"/><polygon points="491.84,298.37 494.02,302.12 489.67,302.12" fill="#fff" stroke="#2828ff" stroke-width="0.85"/><polygon points="494.78,300.49 496.95,304.24 492.6,304.24" fill="#fff" stroke="#2828ff" stroke-width="0.85"/><polygon points="497.86,302.56 500.04,306.31 495.69,306.31" fill="#fff" stroke="#2828ff" stroke-width="0.85"/><polygon points="501.1,304.59 503.28,308.34 498.93,308.34" fill="#fff" stroke="#2828ff" stroke-width="0.85"/><polygon points="504.52,306.55 506.7,310.3 502.35,310.3" fill="#fff" stroke="#2828ff" stroke-width="0.85"/><polygon points="508.13,308.45 510.31,312.2 505.96,312.2" fill="#fff" stroke="#2828ff" stroke-width="0.85"/><polygon points="520,313.45 522.17,317.2 517.83,317.2" fill="#fff" stroke="#2828ff" stroke-width="0.85"/></g>
<path fill="none" stroke="#008000" stroke-width="3.7" stroke-linejoin="round" d="M336.4,267.36 L336.9,266.49 L337.4,265.61 L337.9,264.73 L338.4,263.84 L338.9,262.95 L339.4,262.05 L339.9,261.15 L340.4,260.25 L340.9,259.34 L341.4,258.43 L341.9,257.51 L342.4,256.59 L342.9,255.67 L343.4,254.74 L343.9,253.81 L344.4,252.88 L344.9,251.95 L345.4,251.02 L345.9,250.08 L346.4,249.14 L346.9,248.2 L347.4,247.26M349.4,243.5 L349.9,242.55 L350.4,241.61 L350.9,240.67 L351.4,239.73 L351.9,238.8 L352.4,237.86 L352.9,236.93 L353.4,235.99 L353.9,235.06 L354.4,234.14 L354.9,233.21 L355.4,232.29 L355.9,231.37 L356.4,230.46 L356.9,229.55 L357.4,228.65 L357.9,227.75 L358.4,226.85 L358.9,225.96 L359.4,225.08 L359.9,224.2 L360.4,223.33 L360.9,222.47 L361.4,221.61 L361.9,220.76M364.4,216.62 L364.9,215.82 L365.4,215.03 L365.9,214.24 L366.4,213.47 L366.9,212.71 L367.4,211.95 L367.9,211.21 L368.4,210.48 L368.9,209.76 L369.4,209.05 L369.9,208.35 L370.4,207.67 L370.9,207 L371.4,206.34 L371.9,205.69 L372.4,205.05 L372.9,204.43 L373.4,203.82 L373.9,203.23 L374.4,202.65 L374.9,202.08 L375.4,201.53 L375.9,200.99 L376.4,200.47 L376.9,199.96 L377.4,199.47 L377.9,198.99 L378.4,198.53 L378.9,198.09 L379.4,197.66 L379.9,197.25 L380.4,196.85 L380.9,196.47 L381.4,196.1 L381.9,195.76 L382.4,195.43 L382.9,195.11 L383.4,194.82 L383.9,194.54 L384.4,194.28 L384.9,194.03 L385.4,193.81 L385.9,193.6 L386.4,193.41 L386.9,193.24 L387.4,193.08 L387.9,192.95 L388.4,192.83 L388.9,192.73 L389.4,192.65 L389.9,192.58 L390.4,192.54 L390.9,192.51 L391.4,192.5 L391.9,192.51 L392.4,192.54 L392.9,192.58 L393.4,192.65 L393.9,192.73 L394.4,192.83 L394.9,192.95 L395.4,193.08 L395.9,193.24 L396.4,193.41 L396.9,193.6 L397.4,193.81 L397.9,194.03 L398.4,194.28 L398.9,194.54 L399.4,194.82 L399.9,195.11 L400.4,195.43 L400.9,195.76 L401.4,196.1 L401.9,196.47 L402.4,196.85 L402.9,197.25 L403.4,197.66 L403.9,198.09 L404.4,198.53 L404.9,198.99 L405.4,199.47 L405.9,199.96 L406.4,200.47 L406.9,200.99 L407.4,201.53 L407.9,202.08 L408.4,202.65 L408.9,203.23 L409.4,203.82 L409.9,204.43 L410.4,205.05 L410.9,205.69 L411.4,206.34 L411.9,207 L412.4,207.67 L412.9,208.35 L413.4,209.05 L413.9,209.76 L414.4,210.48 L414.9,211.21 L415.4,211.95 L415.9,212.71 L416.4,213.47 L416.9,214.24 L417.4,215.03 L417.9,215.82 L418.4,216.62 L418.9,217.43 L419.4,218.25 L419.9,219.08 L420.4,219.92 L420.9,220.76 L421.4,221.61 L421.9,222.47 L422.4,223.33 L422.9,224.2 L423.4,225.08 L423.9,225.96 L424.4,226.85 L424.9,227.75 L425.4,228.65 L425.9,229.55 L426.4,230.46 L426.9,231.37 L427.4,232.29 L427.9,233.21 L428.4,234.14 L428.9,235.06 L429.4,235.99 L429.9,236.93 L430.4,237.86 L430.9,238.8 L431.4,239.73 L431.9,240.67 L432.4,241.61 L432.9,242.55 L433.4,243.5 L433.9,244.44 L434.4,245.38 L434.9,246.32 L435.4,247.26 L435.9,248.2 L436.4,249.14 L436.9,250.08 L437.4,251.02 L437.9,251.95 L438.4,252.88 L438.9,253.81M441.9,259.34 L442.4,260.25 L442.9,261.15 L443.4,262.05 L443.9,262.95 L444.4,263.84 L444.9,264.73 L445.4,265.61 L445.9,266.49 L446.4,267.36 L446.9,268.23 L447.4,269.09 L447.9,269.95 L448.4,270.8 L448.9,271.64 L449.4,272.48 L449.9,273.31 L450.4,274.14 L450.9,274.96 L451.4,275.77 L451.9,276.58 L452.4,277.38 L452.9,278.17 L453.4,278.95 L453.9,279.73 L454.4,280.5 L454.9,281.27 L455.4,282.02 L455.9,282.77 L456.4,283.51 L456.9,284.25 L457.4,284.97 L457.9,285.69 L458.4,286.4 L458.9,287.1 L459.4,287.8 L459.9,288.49"/>
<circle cx="336.4" cy="267.36" r="1.85" fill="#008000"/>
<circle cx="459.9" cy="288.49" r="1.85" fill="#008000"/>
<g><polygon points="336.4,240.21 338.7,242.51 336.4,244.81 334.1,242.51" fill="#fff" stroke="#2f962f" stroke-width="0.85"/><polygon points="337.55,237.64 339.85,239.94 337.55,242.24 335.25,239.94" fill="#fff" stroke="#2f962f" stroke-width="0.85"/><polygon points="338.69,235.1 340.99,237.4 338.69,239.7 336.39,237.4" fill="#fff" stroke="#2f962f" stroke-width="0.85"/><polygon points="339.81,232.57 342.11,234.87 339.81,237.17 337.51,234.87" fill="#fff" stroke="#2f962f" stroke-width="0.85"/><polygon points="340.93,230.07 343.23,232.37 340.93,234.67 338.63,232.37" fill="#fff" stroke="#2f962f" stroke-width="0.85"/><polygon points="342.05,227.58 344.35,229.88 342.05,232.18 339.75,229.88" fill="#fff" stroke="#2f962f" stroke-width="0.85"/><polygon points="343.16,225.12 345.46,227.42 343.16,229.72 340.86,227.42" fill="#fff" stroke="#2f962f" stroke-width="0.85"/><polygon points="344.26,222.68 346.56,224.98 344.26,227.28 341.96,224.98" fill="#fff" stroke="#2f962f" stroke-width="0.85"/><polygon points="345.37,220.26 347.67,222.56 345.37,224.86 343.07,222.56" fill="#fff" stroke="#2f962f" stroke-width="0.85"/><polygon points="346.48,217.86 348.78,220.16 346.48,222.46 344.18,220.16" fill="#fff" stroke="#2f962f" stroke-width="0.85"/><polygon points="347.6,215.47 349.9,217.77 347.6,220.07 345.3,217.77" fill="#fff" stroke="#2f962f" stroke-width="0.85"/><polygon points="348.72,213.11 351.02,215.41 348.72,217.71 346.42,215.41" fill="#fff" stroke="#2f962f" stroke-width="0.85"/><polygon points="349.85,210.78 352.15,213.08 349.85,215.38 347.55,213.08" fill="#fff" stroke="#2f962f" stroke-width="0.85"/><polygon points="350.99,208.46 353.29,210.76 350.99,213.06 348.69,210.76" fill="#fff" stroke="#2f962f" stroke-width="0.85"/><polygon points="352.14,206.17 354.44,208.47 352.14,210.77 349.84,208.47" fill="#fff" stroke="#2f962f" stroke-width="0.85"/><polygon points="353.31,203.9 355.61,206.2 353.31,208.5 351.01,206.2" fill="#fff" stroke="#2f962f" stroke-width="0.85"/><polygon points="354.5,201.66 356.8,203.96 354.5,206.26 352.2,203.96" fill="#fff" stroke="#2f962f" stroke-width="0.85"/><polygon points="355.72,199.45 358.02,201.75 355.72,204.05 353.42,201.75" fill="#fff" stroke="#2f962f" stroke-width="0.85"/><polygon points="356.96,197.27 359.26,199.57 356.96,201.87 354.66,199.57" fill="#fff" stroke="#2f962f" stroke-width="0.85"/><polygon points="358.24,195.12 360.54,197.42 358.24,199.72 355.94,197.42" fill="#fff" stroke="#2f962f" stroke-width="0.85"/><polygon points="359.55,193.01 361.85,195.31 359.55,197.61 357.25,195.31" fill="#fff" stroke="#2f962f" stroke-width="0.85"/><polygon points="360.92,190.94 363.22,193.24 360.92,195.54 358.62,193.24" fill="#fff" stroke="#2f962f" stroke-width="0.85"/><polygon points="362.34,188.93 364.64,191.23 362.34,193.53 360.04,191.23" fill="#fff" stroke="#2f962f" stroke-width="0.85"/><polygon points="363.83,186.98 366.13,189.28 363.83,191.58 361.53,189.28" fill="#fff" stroke="#2f962f" stroke-width="0.85"/><polygon points="365.4,185.11 367.7,187.41 365.4,189.71 363.1,187.41" fill="#fff" stroke="#2f962f" stroke-width="0.85"/><polygon points="367.07,183.33 369.37,185.63 367.07,187.93 364.77,185.63" fill="#fff" stroke="#2f962f" stroke-width="0.85"/><polygon points="368.86,181.69 371.16,183.99 368.86,186.29 366.56,183.99" fill="#fff" stroke="#2f962f" stroke-width="0.85"/><polygon points="370.79,180.24 373.09,182.54 370.79,184.84 368.49,182.54" fill="#fff" stroke="#2f962f" stroke-width="0.85"/><polygon points="372.88,179.04 375.18,181.34 372.88,183.64 370.58,181.34" fill="#fff" stroke="#2f962f" stroke-width="0.85"/><polygon points="375.12,178.19 377.42,180.49 375.12,182.79 372.82,180.49" fill="#fff" stroke="#2f962f" stroke-width="0.85"/><polygon points="377.49,177.81 379.79,180.11 377.49,182.41 375.19,180.11" fill="#fff" stroke="#2f962f" stroke-width="0.85"/><polygon points="379.88,177.97 382.18,180.27 379.88,182.57 377.58,180.27" fill="#fff" stroke="#2f962f" stroke-width="0.85"/><polygon points="382.19,178.63 384.49,180.93 382.19,183.23 379.89,180.93" fill="#fff" stroke="#2f962f" stroke-width="0.85"/><polygon points="384.34,179.69 386.64,181.99 384.34,184.29 382.04,181.99" fill="#fff" stroke="#2f962f" stroke-width="0.85"/><polygon points="386.33,181.04 388.63,183.34 386.33,185.64 384.03,183.34" fill="#fff" stroke="#2f962f" stroke-width="0.85"/><polygon points="388.17,182.61 390.47,184.91 388.17,187.21 385.87,184.91" fill="#fff" stroke="#2f962f" stroke-width="0.85"/><polygon points="389.88,184.32 392.18,186.62 389.88,188.92 387.58,186.62" fill="#fff" stroke="#2f962f" stroke-width="0.85"/><polygon points="391.49,186.14 393.79,188.44 391.49,190.74 389.19,188.44" fill="#fff" stroke="#2f962f" stroke-width="0.85"/><polygon points="393.01,188.05 395.31,190.35 393.01,192.65 390.71,190.35" fill="#fff" stroke="#2f962f" stroke-width="0.85"/><polygon points="394.45,190.03 396.75,192.33 394.45,194.63 392.15,192.33" fill="#fff" stroke="#2f962f" stroke-width="0.85"/><polygon points="395.83,192.07 398.13,194.37 395.83,196.67 393.53,194.37" fill="#fff" stroke="#2f962f" stroke-width="0.85"/><polygon points="397.17,194.15 399.47,196.45 397.17,198.75 394.87,196.45" fill="#fff" stroke="#2f962f" stroke-width="0.85"/><polygon points="398.46,196.27 400.76,198.57 398.46,200.87 396.16,198.57" fill="#fff" stroke="#2f962f" stroke-width="0.85"/><polygon points="399.71,198.43 402.01,200.73 399.71,203.03 397.41,200.73" fill="#fff" stroke="#2f962f" stroke-width="0.85"/><polygon points="400.93,200.61 403.23,202.91 400.93,205.21 398.63,202.91" fill="#fff" stroke="#2f962f" stroke-width="0.85"/><polygon points="402.12,202.83 404.42,205.13 402.12,207.43 399.82,205.13" fill="#fff" stroke="#2f962f" stroke-width="0.85"/><polygon points="403.3,205.07 405.6,207.37 403.3,209.67 401,207.37" fill="#fff" stroke="#2f962f" stroke-width="0.85"/><polygon points="404.45,207.34 406.75,209.64 404.45,211.94 402.15,209.64" fill="#fff" stroke="#2f962f" stroke-width="0.85"/><polygon points="405.59,209.63 407.89,211.93 405.59,214.23 403.29,211.93" fill="#fff" stroke="#2f962f" stroke-width="0.85"/><polygon points="406.72,211.94 409.02,214.24 406.72,216.54 404.42,214.24" fill="#fff" stroke="#2f962f" stroke-width="0.85"/><polygon points="407.84,214.28 410.14,216.58 407.84,218.88 405.54,216.58" fill="#fff" stroke="#2f962f" stroke-width="0.85"/><polygon points="408.95,216.63 411.25,218.93 408.95,221.23 406.65,218.93" fill="#fff" stroke="#2f962f" stroke-width="0.85"/><polygon points="410.05,219.01 412.35,221.31 410.05,223.61 407.75,221.31" fill="#fff" stroke="#2f962f" stroke-width="0.85"/><polygon points="411.15,221.41 413.45,223.71 411.15,226.01 408.85,223.71" fill="#fff" stroke="#2f962f" stroke-width="0.85"/><polygon points="412.25,223.82 414.55,226.12 412.25,228.42 409.95,226.12" fill="#fff" stroke="#2f962f" stroke-width="0.85"/><polygon points="413.36,226.26 415.66,228.56 413.36,230.86 411.06,228.56" fill="#fff" stroke="#2f962f" stroke-width="0.85"/><polygon points="414.46,228.71 416.76,231.01 414.46,233.31 412.16,231.01" fill="#fff" stroke="#2f962f" stroke-width="0.85"/><polygon points="415.57,231.18 417.87,233.48 415.57,235.78 413.27,233.48" fill="#fff" stroke="#2f962f" stroke-width="0.85"/><polygon points="416.68,233.68 418.98,235.98 416.68,238.28 414.38,235.98" fill="#fff" stroke="#2f962f" stroke-width="0.85"/><polygon points="417.8,236.19 420.1,238.49 417.8,240.79 415.5,238.49" fill="#fff" stroke="#2f962f" stroke-width="0.85"/><polygon points="418.94,238.72 421.24,241.02 418.94,243.32 416.64,241.02" fill="#fff" stroke="#2f962f" stroke-width="0.85"/><polygon points="420.08,241.28 422.38,243.58 420.08,245.88 417.78,243.58" fill="#fff" stroke="#2f962f" stroke-width="0.85"/><polygon points="423.61,249.06 425.91,251.36 423.61,253.66 421.31,251.36" fill="#fff" stroke="#2f962f" stroke-width="0.85"/><polygon points="424.82,251.7 427.12,254 424.82,256.3 422.52,254" fill="#fff" stroke="#2f962f" stroke-width="0.85"/><polygon points="426.06,254.36 428.36,256.66 426.06,258.96 423.76,256.66" fill="#fff" stroke="#2f962f" stroke-width="0.85"/><polygon points="427.33,257.04 429.63,259.34 427.33,261.64 425.03,259.34" fill="#fff" stroke="#2f962f" stroke-width="0.85"/><polygon points="428.62,259.74 430.92,262.04 428.62,264.34 426.32,262.04" fill="#fff" stroke="#2f962f" stroke-width="0.85"/><polygon points="429.95,262.47 432.25,264.77 429.95,267.07 427.65,264.77" fill="#fff" stroke="#2f962f" stroke-width="0.85"/><polygon points="431.32,265.22 433.62,267.52 431.32,269.82 429.02,267.52" fill="#fff" stroke="#2f962f" stroke-width="0.85"/><polygon points="432.74,268 435.04,270.3 432.74,272.6 430.44,270.3" fill="#fff" stroke="#2f962f" stroke-width="0.85"/><polygon points="434.2,270.8 436.5,273.1 434.2,275.4 431.9,273.1" fill="#fff" stroke="#2f962f" stroke-width="0.85"/><polygon points="435.71,273.62 438.01,275.92 435.71,278.22 433.41,275.92" fill="#fff" stroke="#2f962f" stroke-width="0.85"/><polygon points="437.29,276.47 439.59,278.77 437.29,281.07 434.99,278.77" fill="#fff" stroke="#2f962f" stroke-width="0.85"/><polygon points="438.94,279.34 441.24,281.64 438.94,283.94 436.64,281.64" fill="#fff" stroke="#2f962f" stroke-width="0.85"/><polygon points="440.67,282.23 442.97,284.53 440.67,286.83 438.37,284.53" fill="#fff" stroke="#2f962f" stroke-width="0.85"/><polygon points="442.49,285.15 444.79,287.45 442.49,289.75 440.19,287.45" fill="#fff" stroke="#2f962f" stroke-width="0.85"/><polygon points="444.42,288.09 446.72,290.39 444.42,292.69 442.12,290.39" fill="#fff" stroke="#2f962f" stroke-width="0.85"/><polygon points="446.47,291.04 448.77,293.34 446.47,295.64 444.17,293.34" fill="#fff" stroke="#2f962f" stroke-width="0.85"/><polygon points="448.67,294 450.97,296.3 448.67,298.6 446.37,296.3" fill="#fff" stroke="#2f962f" stroke-width="0.85"/><polygon points="451.03,296.96 453.33,299.26 451.03,301.56 448.73,299.26" fill="#fff" stroke="#2f962f" stroke-width="0.85"/><polygon points="453.59,299.92 455.89,302.22 453.59,304.52 451.29,302.22" fill="#fff" stroke="#2f962f" stroke-width="0.85"/><polygon points="456.39,302.85 458.69,305.15 456.39,307.45 454.09,305.15" fill="#fff" stroke="#2f962f" stroke-width="0.85"/><polygon points="459.47,305.72 461.77,308.02 459.47,310.32 457.17,308.02" fill="#fff" stroke="#2f962f" stroke-width="0.85"/><polygon points="466.65,311.15 468.95,313.45 466.65,315.75 464.35,313.45" fill="#fff" stroke="#2f962f" stroke-width="0.85"/></g>
<circle cx="451.6" cy="173.5" r="2" fill="#ff0000"/>
<text x="463" y="176.4" font-size="8.0" font-family="Liberation Sans, sans-serif" font-weight="bold" fill="#111">May-WRF-solar</text>
<circle cx="451.6" cy="183.45" r="2" fill="#fff" stroke="#ff3c3c" stroke-width="0.75"/>
<text x="463" y="186.35" font-size="8.0" font-family="Liberation Sans, sans-serif" font-weight="bold" fill="#111">May-actual</text>
<polygon points="451.6,190.9 453.78,194.65 449.43,194.65" fill="#0000ff"/>
<text x="463" y="196.3" font-size="8.0" font-family="Liberation Sans, sans-serif" font-weight="bold" fill="#111">August-WRF-solar</text>
<polygon points="451.6,200.85 453.78,204.6 449.43,204.6" fill="#fff" stroke="#2828ff" stroke-width="0.75"/>
<text x="463" y="206.25" font-size="8.0" font-family="Liberation Sans, sans-serif" font-weight="bold" fill="#111">August-actual</text>
<polygon points="451.6,211 453.9,213.3 451.6,215.6 449.3,213.3" fill="#008000"/>
<text x="463" y="216.2" font-size="8.0" font-family="Liberation Sans, sans-serif" font-weight="bold" fill="#111">December-WRF-solar</text>
<polygon points="451.6,220.95 453.9,223.25 451.6,225.55 449.3,223.25" fill="#fff" stroke="#2f962f" stroke-width="0.75"/>
<text x="463" y="226.15" font-size="8.0" font-family="Liberation Sans, sans-serif" font-weight="bold" fill="#111">December-actual</text>
<rect x="320.5" y="168.3" width="224" height="160.2" fill="none" stroke="#111" stroke-width="1.2"/>
<text x="330.2" y="185.1" font-size="15.2" font-family="Liberation Sans, sans-serif" font-weight="bold" fill="#111">(d)</text>
<text transform="translate(309.8,248.1) rotate(-90)" font-size="11.3" text-anchor="middle" font-family="Liberation Sans, sans-serif" font-weight="bold" fill="#111">Frequency of occurrence</text>
<path fill="none" stroke="#ff0000" stroke-width="3.9" stroke-linejoin="round" d="M336.4,449.07 L336.9,448.65 L337.4,448.23 L337.9,447.81 L338.4,447.38 L338.9,446.94 L339.4,446.51 L339.9,446.07 L340.4,445.62 L340.9,445.17 L341.4,444.72 L341.9,444.26 L342.4,443.79 L342.9,443.33 L343.4,442.86 L343.9,442.38 L344.4,441.91 L344.9,441.42 L345.4,440.94 L345.9,440.45 L346.4,439.95 L346.9,439.46 L347.4,438.95 L347.9,438.45 L348.4,437.94 L348.9,437.43 L349.4,436.91 L349.9,436.39 L350.4,435.87 L350.9,435.34 L351.4,434.81 L351.9,434.28 L352.4,433.75 L352.9,433.21 L353.4,432.66 L353.9,432.12 L354.4,431.57 L354.9,431.02 L355.4,430.47 L355.9,429.91 L356.4,429.35 L356.9,428.79 L357.4,428.23 L357.9,427.66 L358.4,427.09 L358.9,426.52 L359.4,425.95 L359.9,425.37 L360.4,424.79 L360.9,424.21 L361.4,423.63 L361.9,423.05 L362.4,422.46 L362.9,421.88 L363.4,421.29 L363.9,420.7 L364.4,420.11 L364.9,419.52 L365.4,418.93 L365.9,418.34 L366.4,417.74 L366.9,417.15 L367.4,416.55 L367.9,415.96 L368.4,415.36 L368.9,414.77 L369.4,414.17 L369.9,413.57 L370.4,412.98 L370.9,412.38 L371.4,411.79 L371.9,411.19 L372.4,410.6 L372.9,410 L373.4,409.41 L373.9,408.82 L374.4,408.22 L374.9,407.63 L375.4,407.05 L375.9,406.46 L376.4,405.87 L376.9,405.29 L377.4,404.71 L377.9,404.13 L378.4,403.55 L378.9,402.97 L379.4,402.4 L379.9,401.83 L380.4,401.26 L380.9,400.69 L381.4,400.13 L381.9,399.57 L382.4,399.02 L382.9,398.46 L383.4,397.91 L383.9,397.37 L384.4,396.82 L384.9,396.28 L385.4,395.75 L385.9,395.22 L386.4,394.69 L386.9,394.17 L387.4,393.65 L387.9,393.14 L388.4,392.63 L388.9,392.13 L389.4,391.63 L389.9,391.13 L390.4,390.64 L390.9,390.16 L391.4,389.68 L391.9,389.21 L392.4,388.75 L392.9,388.29 L393.4,387.83 L393.9,387.38 L394.4,386.94 L394.9,386.5 L395.4,386.08 L395.9,385.65 L396.4,385.24 L396.9,384.83 L397.4,384.43 L397.9,384.03 L398.4,383.64 L398.9,383.26 L399.4,382.89 L399.9,382.52 L400.4,382.16 L400.9,381.81 L401.4,381.47 L401.9,381.13 L402.4,380.81 L402.9,380.49 L403.4,380.17 L403.9,379.87 L404.4,379.58 L404.9,379.29 L405.4,379.01 L405.9,378.74 L406.4,378.48 L406.9,378.23 L407.4,377.99 L407.9,377.75 L408.4,377.52 L408.9,377.31 L409.4,377.1 L409.9,376.9 L410.4,376.71 L410.9,376.53 L411.4,376.36 L411.9,376.2 L412.4,376.05 L412.9,375.9 L413.4,375.77 L413.9,375.64 L414.4,375.53 L414.9,375.42 L415.4,375.33 L415.9,375.24 L416.4,375.17 L416.9,375.1 L417.4,375.04 L417.9,374.99 L418.4,374.96 L418.9,374.93 L419.4,374.91 L419.9,374.9 L420.4,374.9 L420.9,374.91 L421.4,374.93 L421.9,374.96 L422.4,375 L422.9,375.05 L423.4,375.11 L423.9,375.18 L424.4,375.26 L424.9,375.35 L425.4,375.44 L425.9,375.55 L426.4,375.67 L426.9,375.79 L427.4,375.93 L427.9,376.08 L428.4,376.23 L428.9,376.39 L429.4,376.57 L429.9,376.75 L430.4,376.94 L430.9,377.14 L431.4,377.35 L431.9,377.57 L432.4,377.8 L432.9,378.03 L433.4,378.28 L433.9,378.53 L434.4,378.8 L434.9,379.07 L435.4,379.35 L435.9,379.63 L436.4,379.93 L436.9,380.24 L437.4,380.55 L437.9,380.87 L438.4,381.2 L438.9,381.54 L439.4,381.88 L439.9,382.23 L440.4,382.59 L440.9,382.96 L441.4,383.34 L441.9,383.72 L442.4,384.11 L442.9,384.51 L443.4,384.91 L443.9,385.32 L444.4,385.74 L444.9,386.16 L445.4,386.59 L445.9,387.03 L446.4,387.47 L446.9,387.92 L447.4,388.38 L447.9,388.84 L448.4,389.31 L448.9,389.78 L449.4,390.26 L449.9,390.74 L450.4,391.23 L450.9,391.73 L451.4,392.23 L451.9,392.73 L452.4,393.24 L452.9,393.75 L453.4,394.27 L453.9,394.8 L454.4,395.32 L454.9,395.86 L455.4,396.39 L455.9,396.93 L456.4,397.47 L456.9,398.02 L457.4,398.57 L457.9,399.13 L458.4,399.68 L458.9,400.24 L459.4,400.81 L459.9,401.37 L460.4,401.94 L460.9,402.51 L461.4,403.09M464.4,406.58 L464.9,407.16 L465.4,407.75 L465.9,408.34 L466.4,408.93 L466.9,409.53 L467.4,410.12 L467.9,410.71 L468.4,411.31 L468.9,411.9 L469.4,412.5 L469.9,413.1 L470.4,413.69 L470.9,414.29 L471.4,414.89 L471.9,415.48 L472.4,416.08 L472.9,416.67 L473.4,417.27 L473.9,417.86 L474.4,418.46 L474.9,419.05 L475.4,419.64 L475.9,420.23 L476.4,420.82 L476.9,421.41 L477.4,422 L477.9,422.58 L478.4,423.17 L478.9,423.75 L479.4,424.33 L479.9,424.91 L480.4,425.49 L480.9,426.06M484.4,430.02 L484.9,430.58 L485.4,431.13 L485.9,431.68 L486.4,432.23 L486.9,432.77 L487.4,433.31 L487.9,433.85 L488.4,434.39 L488.9,434.92 L489.4,435.45 L489.9,435.97 L490.4,436.5 L490.9,437.02 L491.4,437.53 L491.9,438.04 L492.4,438.55 L492.9,439.05 L493.4,439.55 L493.9,440.05 L494.4,440.54 L494.9,441.03 L495.4,441.52 L495.9,442 L496.4,442.48 L496.9,442.95 L497.4,443.42 L497.9,443.89 L498.4,444.35 L498.9,444.81 L499.4,445.26 L499.9,445.71 L500.4,446.15 L500.9,446.6 L501.4,447.03 L501.9,447.46 L502.4,447.89"/>
<circle cx="336.4" cy="449.07" r="1.95" fill="#ff0000"/>
<circle cx="502.4" cy="447.89" r="1.95" fill="#ff0000"/>
<g><circle cx="336.4" cy="440.82" r="2" fill="#fff" stroke="#ff3c3c" stroke-width="0.85"/><circle cx="338.74" cy="438.61" r="2" fill="#fff" stroke="#ff3c3c" stroke-width="0.85"/><circle cx="341.01" cy="436.41" r="2" fill="#fff" stroke="#ff3c3c" stroke-width="0.85"/><circle cx="343.21" cy="434.22" r="2" fill="#fff" stroke="#ff3c3c" stroke-width="0.85"/><circle cx="345.35" cy="432.03" r="2" fill="#fff" stroke="#ff3c3c" stroke-width="0.85"/><circle cx="347.44" cy="429.86" r="2" fill="#fff" stroke="#ff3c3c" stroke-width="0.85"/><circle cx="349.48" cy="427.7" r="2" fill="#fff" stroke="#ff3c3c" stroke-width="0.85"/><circle cx="351.48" cy="425.55" r="2" fill="#fff" stroke="#ff3c3c" stroke-width="0.85"/><circle cx="353.44" cy="423.42" r="2" fill="#fff" stroke="#ff3c3c" stroke-width="0.85"/><circle cx="355.37" cy="421.31" r="2" fill="#fff" stroke="#ff3c3c" stroke-width="0.85"/><circle cx="357.27" cy="419.21" r="2" fill="#fff" stroke="#ff3c3c" stroke-width="0.85"/><circle cx="359.15" cy="417.14" r="2" fill="#fff" stroke="#ff3c3c" stroke-width="0.85"/><circle cx="361.01" cy="415.08" r="2" fill="#fff" stroke="#ff3c3c" stroke-width="0.85"/><circle cx="362.85" cy="413.05" r="2" fill="#fff" stroke="#ff3c3c" stroke-width="0.85"/><circle cx="364.67" cy="411.04" r="2" fill="#fff" stroke="#ff3c3c" stroke-width="0.85"/><circle cx="366.49" cy="409.05" r="2" fill="#fff" stroke="#ff3c3c" stroke-width="0.85"/><circle cx="368.3" cy="407.09" r="2" fill="#fff" stroke="#ff3c3c" stroke-width="0.85"/><circle cx="370.11" cy="405.16" r="2" fill="#fff" stroke="#ff3c3c" stroke-width="0.85"/><circle cx="371.92" cy="403.25" r="2" fill="#fff" stroke="#ff3c3c" stroke-width="0.85"/><circle cx="373.74" cy="401.38" r="2" fill="#fff" stroke="#ff3c3c" stroke-width="0.85"/><circle cx="375.56" cy="399.54" r="2" fill="#fff" stroke="#ff3c3c" stroke-width="0.85"/><circle cx="377.39" cy="397.73" r="2" fill="#fff" stroke="#ff3c3c" stroke-width="0.85"/><circle cx="379.23" cy="395.97" r="2" fill="#fff" stroke="#ff3c3c" stroke-width="0.85"/><circle cx="381.09" cy="394.25" r="2" fill="#fff" stroke="#ff3c3c" stroke-width="0.85"/><circle cx="382.98" cy="392.57" r="2" fill="#fff" stroke="#ff3c3c" stroke-width="0.85"/><circle cx="384.88" cy="390.95" r="2" fill="#fff" stroke="#ff3c3c" stroke-width="0.85"/><circle cx="386.82" cy="389.38" r="2" fill="#fff" stroke="#ff3c3c" stroke-width="0.85"/><circle cx="388.8" cy="387.88" r="2" fill="#fff" stroke="#ff3c3c" stroke-width="0.85"/><circle cx="390.81" cy="386.44" r="2" fill="#fff" stroke="#ff3c3c" stroke-width="0.85"/><circle cx="392.86" cy="385.1" r="2" fill="#fff" stroke="#ff3c3c" stroke-width="0.85"/><circle cx="394.96" cy="383.84" r="2" fill="#fff" stroke="#ff3c3c" stroke-width="0.85"/><circle cx="397.11" cy="382.69" r="2" fill="#fff" stroke="#ff3c3c" stroke-width="0.85"/><circle cx="399.3" cy="381.65" r="2" fill="#fff" stroke="#ff3c3c" stroke-width="0.85"/><circle cx="401.55" cy="380.76" r="2" fill="#fff" stroke="#ff3c3c" stroke-width="0.85"/><circle cx="403.84" cy="380.01" r="2" fill="#fff" stroke="#ff3c3c" stroke-width="0.85"/><circle cx="406.18" cy="379.43" r="2" fill="#fff" stroke="#ff3c3c" stroke-width="0.85"/><circle cx="408.55" cy="379.03" r="2" fill="#fff" stroke="#ff3c3c" stroke-width="0.85"/><circle cx="410.94" cy="378.83" r="2" fill="#fff" stroke="#ff3c3c" stroke-width="0.85"/><circle cx="413.34" cy="378.82" r="2" fill="#fff" stroke="#ff3c3c" stroke-width="0.85"/><circle cx="415.74" cy="379.02" r="2" fill="#fff" stroke="#ff3c3c" stroke-width="0.85"/><circle cx="418.1" cy="379.41" r="2" fill="#fff" stroke="#ff3c3c" stroke-width="0.85"/><circle cx="420.44" cy="379.98" r="2" fill="#fff" stroke="#ff3c3c" stroke-width="0.85"/><circle cx="422.73" cy="380.71" r="2" fill="#fff" stroke="#ff3c3c" stroke-width="0.85"/><circle cx="424.98" cy="381.6" r="2" fill="#fff" stroke="#ff3c3c" stroke-width="0.85"/><circle cx="427.17" cy="382.62" r="2" fill="#fff" stroke="#ff3c3c" stroke-width="0.85"/><circle cx="429.31" cy="383.76" r="2" fill="#fff" stroke="#ff3c3c" stroke-width="0.85"/><circle cx="431.4" cy="385.01" r="2" fill="#fff" stroke="#ff3c3c" stroke-width="0.85"/><circle cx="433.45" cy="386.35" r="2" fill="#fff" stroke="#ff3c3c" stroke-width="0.85"/><circle cx="435.46" cy="387.77" r="2" fill="#fff" stroke="#ff3c3c" stroke-width="0.85"/><circle cx="437.42" cy="389.26" r="2" fill="#fff" stroke="#ff3c3c" stroke-width="0.85"/><circle cx="439.35" cy="390.81" r="2" fill="#fff" stroke="#ff3c3c" stroke-width="0.85"/><circle cx="441.25" cy="392.42" r="2" fill="#fff" stroke="#ff3c3c" stroke-width="0.85"/><circle cx="443.13" cy="394.08" r="2" fill="#fff" stroke="#ff3c3c" stroke-width="0.85"/><circle cx="444.98" cy="395.79" r="2" fill="#fff" stroke="#ff3c3c" stroke-width="0.85"/><circle cx="446.82" cy="397.54" r="2" fill="#fff" stroke="#ff3c3c" stroke-width="0.85"/><circle cx="448.64" cy="399.33" r="2" fill="#fff" stroke="#ff3c3c" stroke-width="0.85"/><circle cx="450.44" cy="401.15" r="2" fill="#fff" stroke="#ff3c3c" stroke-width="0.85"/><circle cx="452.24" cy="403.01" r="2" fill="#fff" stroke="#ff3c3c" stroke-width="0.85"/><circle cx="454.04" cy="404.9" r="2" fill="#fff" stroke="#ff3c3c" stroke-width="0.85"/><circle cx="455.84" cy="406.81" r="2" fill="#fff" stroke="#ff3c3c" stroke-width="0.85"/><circle cx="457.63" cy="408.75" r="2" fill="#fff" stroke="#ff3c3c" stroke-width="0.85"/><circle cx="459.43" cy="410.72" r="2" fill="#fff" stroke="#ff3c3c" stroke-width="0.85"/><circle cx="461.24" cy="412.71" r="2" fill="#fff" stroke="#ff3c3c" stroke-width="0.85"/><circle cx="463.06" cy="414.72" r="2" fill="#fff" stroke="#ff3c3c" stroke-width="0.85"/><circle cx="464.9" cy="416.75" r="2" fill="#fff" stroke="#ff3c3c" stroke-width="0.85"/><circle cx="466.76" cy="418.8" r="2" fill="#fff" stroke="#ff3c3c" stroke-width="0.85"/><circle cx="468.63" cy="420.87" r="2" fill="#fff" stroke="#ff3c3c" stroke-width="0.85"/><circle cx="470.53" cy="422.95" r="2" fill="#fff" stroke="#ff3c3c" stroke-width="0.85"/><circle cx="472.47" cy="425.06" r="2" fill="#fff" stroke="#ff3c3c" stroke-width="0.85"/><circle cx="474.43" cy="427.17" r="2" fill="#fff" stroke="#ff3c3c" stroke-width="0.85"/><circle cx="476.43" cy="429.3" r="2" fill="#fff" stroke="#ff3c3c" stroke-width="0.85"/><circle cx="478.48" cy="431.44" r="2" fill="#fff" stroke="#ff3c3c" stroke-width="0.85"/><circle cx="480.58" cy="433.59" r="2" fill="#fff" stroke="#ff3c3c" stroke-width="0.85"/><circle cx="482.73" cy="435.75" r="2" fill="#fff" stroke="#ff3c3c" stroke-width="0.85"/><circle cx="484.93" cy="437.92" r="2" fill="#fff" stroke="#ff3c3c" stroke-width="0.85"/><circle cx="487.21" cy="440.09" r="2" fill="#fff" stroke="#ff3c3c" stroke-width="0.85"/><circle cx="489.56" cy="442.25" r="2" fill="#fff" stroke="#ff3c3c" stroke-width="0.85"/><circle cx="492" cy="444.42" r="2" fill="#fff" stroke="#ff3c3c" stroke-width="0.85"/><circle cx="494.52" cy="446.57" r="2" fill="#fff" stroke="#ff3c3c" stroke-width="0.85"/><circle cx="497.15" cy="448.71" r="2" fill="#fff" stroke="#ff3c3c" stroke-width="0.85"/><circle cx="499.89" cy="450.83" r="2" fill="#fff" stroke="#ff3c3c" stroke-width="0.85"/><circle cx="502.76" cy="452.93" r="2" fill="#fff" stroke="#ff3c3c" stroke-width="0.85"/><circle cx="505.77" cy="454.99" r="2" fill="#fff" stroke="#ff3c3c" stroke-width="0.85"/><circle cx="508.93" cy="457" r="2" fill="#fff" stroke="#ff3c3c" stroke-width="0.85"/><circle cx="512.27" cy="458.96" r="2" fill="#fff" stroke="#ff3c3c" stroke-width="0.85"/><circle cx="515.79" cy="460.85" r="2" fill="#fff" stroke="#ff3c3c" stroke-width="0.85"/><circle cx="519.52" cy="462.66" r="2" fill="#fff" stroke="#ff3c3c" stroke-width="0.85"/></g>
<path fill="none" stroke="#0000ff" stroke-width="3.9" stroke-linejoin="round" d="M336.4,447.62 L336.9,447.16 L337.4,446.68 L337.9,446.2 L338.4,445.72 L338.9,445.23 L339.4,444.74 L339.9,444.24 L340.4,443.74 L340.9,443.23 L341.4,442.71 L341.9,442.2 L342.4,441.67 L342.9,441.14 L343.4,440.61 L343.9,440.07 L344.4,439.53 L344.9,438.98 L345.4,438.43 L345.9,437.88 L346.4,437.32 L346.9,436.75 L347.4,436.18 L347.9,435.61 L348.4,435.03 L348.9,434.45 L349.4,433.86 L349.9,433.27 L350.4,432.67 L350.9,432.08 L351.4,431.47 L351.9,430.87 L352.4,430.26 L352.9,429.64 L353.4,429.03 L353.9,428.41 L354.4,427.78 L354.9,427.15 L355.4,426.52 L355.9,425.89 L356.4,425.25 L356.9,424.62 L357.4,423.97 L357.9,423.33 L358.4,422.68 L358.9,422.03 L359.4,421.38 L359.9,420.73 L360.4,420.07 L360.9,419.41 L361.4,418.75 L361.9,418.09 L362.4,417.43 L362.9,416.76 L363.4,416.1 L363.9,415.43 L364.4,414.76 L364.9,414.09 L365.4,413.42 L365.9,412.75 L366.4,412.08 L366.9,411.41 L367.4,410.74 L367.9,410.07 L368.4,409.4 L368.9,408.73 L369.4,408.06 L369.9,407.39 L370.4,406.72 L370.9,406.05 L371.4,405.38 L371.9,404.71 L372.4,404.05 L372.9,403.38 L373.4,402.72 L373.9,402.06 L374.4,401.4 L374.9,400.75 L375.4,400.09 L375.9,399.44 L376.4,398.79 L376.9,398.15 L377.4,397.5 L377.9,396.86 L378.4,396.23 L378.9,395.59 L379.4,394.97 L379.9,394.34 L380.4,393.72 L380.9,393.1 L381.4,392.49 L381.9,391.88 L382.4,391.27 L382.9,390.68 L383.4,390.08 L383.9,389.49 L384.4,388.91 L384.9,388.33 L385.4,387.76 L385.9,387.19 L386.4,386.63 L386.9,386.07 L387.4,385.53 L387.9,384.98 L388.4,384.45 L388.9,383.92 L389.4,383.4 L389.9,382.88 L390.4,382.38 L390.9,381.88 L391.4,381.38 L391.9,380.9 L392.4,380.42 L392.9,379.95 L393.4,379.49 L393.9,379.04 L394.4,378.6 L394.9,378.16 L395.4,377.74 L395.9,377.32 L396.4,376.91 L396.9,376.51 L397.4,376.12 L397.9,375.74 L398.4,375.36 L398.9,375 L399.4,374.65 L399.9,374.31 L400.4,373.97 L400.9,373.65 L401.4,373.34 L401.9,373.04 L402.4,372.74 L402.9,372.46 L403.4,372.19 L403.9,371.93 L404.4,371.68 L404.9,371.44 L405.4,371.21 L405.9,370.99 L406.4,370.79 L406.9,370.59 L407.4,370.41 L407.9,370.23 L408.4,370.07 L408.9,369.92 L409.4,369.78 L409.9,369.65 L410.4,369.53 L410.9,369.43 L411.4,369.34 L411.9,369.25 L412.4,369.18 L412.9,369.12 L413.4,369.08 L413.9,369.04 L414.4,369.01 L414.9,369 L415.4,369 L415.9,369.01 L416.4,369.03 L416.9,369.07 L417.4,369.11 L417.9,369.17 L418.4,369.24 L418.9,369.32 L419.4,369.41 L419.9,369.51 L420.4,369.63 L420.9,369.75 L421.4,369.89 L421.9,370.04 L422.4,370.2 L422.9,370.37 L423.4,370.55 L423.9,370.75 L424.4,370.95 L424.9,371.17 L425.4,371.39 L425.9,371.63 L426.4,371.88 L426.9,372.14 L427.4,372.41 L427.9,372.69 L428.4,372.98 L428.9,373.28 L429.4,373.59 L429.9,373.91 L430.4,374.24 L430.9,374.58 L431.4,374.93 L431.9,375.29 L432.4,375.66 L432.9,376.04 L433.4,376.43 L433.9,376.83 L434.4,377.23 L434.9,377.65 L435.4,378.08 L435.9,378.51 L436.4,378.95 L436.9,379.4 L437.4,379.86 L437.9,380.33 L438.4,380.8 L438.9,381.29 L439.4,381.78 L439.9,382.28 L440.4,382.78 L440.9,383.3 L441.4,383.82 L441.9,384.34 L442.4,384.88 L442.9,385.42 L443.4,385.96 L443.9,386.52 L444.4,387.08 L444.9,387.64 L445.4,388.21 L445.9,388.79 L446.4,389.37 L446.9,389.96 L447.4,390.56 L447.9,391.15 L448.4,391.76 L448.9,392.37 L449.4,392.98 L449.9,393.59 L450.4,394.22 L450.9,394.84 L451.4,395.47 L451.9,396.1 L452.4,396.74 L452.9,397.38 L453.4,398.02 L453.9,398.66 L454.4,399.31 L454.9,399.96 L455.4,400.62 L455.9,401.27 L456.4,401.93 L456.9,402.59 L457.4,403.25 L457.9,403.91 L458.4,404.58 L458.9,405.25 L459.4,405.91 L459.9,406.58 L460.4,407.25 L460.9,407.92 L461.4,408.59 L461.9,409.26 L462.4,409.93 L462.9,410.61 L463.4,411.28 L463.9,411.95 L464.4,412.62 L464.9,413.29 L465.4,413.96 L465.9,414.63 L466.4,415.3 L466.9,415.96 L467.4,416.63 L467.9,417.3 L468.4,417.96 L468.9,418.62 L469.4,419.28 L469.9,419.94 L470.4,420.6 L470.9,421.25 L471.4,421.9 L471.9,422.55 L472.4,423.2 L472.9,423.84 L473.4,424.49 L473.9,425.13 L474.4,425.76 L474.9,426.4 L475.4,427.03 L475.9,427.66 L476.4,428.28 L476.9,428.9 L477.4,429.52 L477.9,430.13 L478.4,430.74 L478.9,431.35 L479.4,431.95 L479.9,432.55 L480.4,433.15 L480.9,433.74 L481.4,434.33 L481.9,434.91 L482.4,435.49 L482.9,436.07 L483.4,436.64 L483.9,437.2 L484.4,437.76 L484.9,438.32 L485.4,438.87 L485.9,439.42 L486.4,439.97 L486.9,440.5 L487.4,441.04 L487.9,441.57 L488.4,442.09 L488.9,442.61 L489.4,443.13 L489.9,443.64 L490.4,444.14 L490.9,444.64 L491.4,445.13 L491.9,445.62 L492.4,446.11 L492.9,446.59 L493.4,447.06 L493.9,447.53 L494.4,448 L494.9,448.45 L495.4,448.91 L495.9,449.36 L496.4,449.8 L496.9,450.24 L497.4,450.67 L497.9,451.1"/>
<circle cx="336.4" cy="447.62" r="1.95" fill="#0000ff"/>
<circle cx="497.9" cy="451.1" r="1.95" fill="#0000ff"/>
<g><polygon points="336.4,434.85 338.57,438.6 334.22,438.6" fill="#fff" stroke="#2828ff" stroke-width="0.85"/><polygon points="338.62,432.65 340.79,436.4 336.44,436.4" fill="#fff" stroke="#2828ff" stroke-width="0.85"/><polygon points="340.77,430.46 342.95,434.21 338.6,434.21" fill="#fff" stroke="#2828ff" stroke-width="0.85"/><polygon points="342.87,428.28 345.05,432.03 340.7,432.03" fill="#fff" stroke="#2828ff" stroke-width="0.85"/><polygon points="344.92,426.12 347.1,429.87 342.75,429.87" fill="#fff" stroke="#2828ff" stroke-width="0.85"/><polygon points="346.93,423.97 349.11,427.72 344.76,427.72" fill="#fff" stroke="#2828ff" stroke-width="0.85"/><polygon points="348.9,421.84 351.08,425.59 346.73,425.59" fill="#fff" stroke="#2828ff" stroke-width="0.85"/><polygon points="350.84,419.72 353.01,423.47 348.66,423.47" fill="#fff" stroke="#2828ff" stroke-width="0.85"/><polygon points="352.74,417.62 354.92,421.37 350.57,421.37" fill="#fff" stroke="#2828ff" stroke-width="0.85"/><polygon points="354.63,415.54 356.8,419.29 352.45,419.29" fill="#fff" stroke="#2828ff" stroke-width="0.85"/><polygon points="356.49,413.48 358.66,417.23 354.31,417.23" fill="#fff" stroke="#2828ff" stroke-width="0.85"/><polygon points="358.33,411.44 360.5,415.19 356.15,415.19" fill="#fff" stroke="#2828ff" stroke-width="0.85"/><polygon points="360.16,409.43 362.33,413.18 357.98,413.18" fill="#fff" stroke="#2828ff" stroke-width="0.85"/><polygon points="361.98,407.44 364.15,411.19 359.8,411.19" fill="#fff" stroke="#2828ff" stroke-width="0.85"/><polygon points="363.79,405.47 365.97,409.22 361.62,409.22" fill="#fff" stroke="#2828ff" stroke-width="0.85"/><polygon points="365.6,403.54 367.78,407.29 363.43,407.29" fill="#fff" stroke="#2828ff" stroke-width="0.85"/><polygon points="367.41,401.63 369.58,405.38 365.23,405.38" fill="#fff" stroke="#2828ff" stroke-width="0.85"/><polygon points="369.22,399.75 371.4,403.5 367.05,403.5" fill="#fff" stroke="#2828ff" stroke-width="0.85"/><polygon points="371.04,397.91 373.21,401.66 368.86,401.66" fill="#fff" stroke="#2828ff" stroke-width="0.85"/><polygon points="372.87,396.1 375.04,399.85 370.69,399.85" fill="#fff" stroke="#2828ff" stroke-width="0.85"/><polygon points="374.71,394.33 376.89,398.08 372.54,398.08" fill="#fff" stroke="#2828ff" stroke-width="0.85"/><polygon points="376.57,392.61 378.75,396.36 374.4,396.36" fill="#fff" stroke="#2828ff" stroke-width="0.85"/><polygon points="378.45,390.93 380.63,394.68 376.28,394.68" fill="#fff" stroke="#2828ff" stroke-width="0.85"/><polygon points="380.36,389.3 382.54,393.05 378.19,393.05" fill="#fff" stroke="#2828ff" stroke-width="0.85"/><polygon points="382.3,387.73 384.48,391.48 380.13,391.48" fill="#fff" stroke="#2828ff" stroke-width="0.85"/><polygon points="384.27,386.23 386.45,389.98 382.1,389.98" fill="#fff" stroke="#2828ff" stroke-width="0.85"/><polygon points="386.28,384.79 388.46,388.54 384.11,388.54" fill="#fff" stroke="#2828ff" stroke-width="0.85"/><polygon points="388.33,383.44 390.51,387.19 386.16,387.19" fill="#fff" stroke="#2828ff" stroke-width="0.85"/><polygon points="390.43,382.19 392.61,385.94 388.26,385.94" fill="#fff" stroke="#2828ff" stroke-width="0.85"/><polygon points="392.58,381.03 394.75,384.78 390.4,384.78" fill="#fff" stroke="#2828ff" stroke-width="0.85"/><polygon points="394.78,380 396.95,383.75 392.6,383.75" fill="#fff" stroke="#2828ff" stroke-width="0.85"/><polygon points="397.03,379.11 399.2,382.86 394.85,382.86" fill="#fff" stroke="#2828ff" stroke-width="0.85"/><polygon points="399.32,378.37 401.5,382.12 397.15,382.12" fill="#fff" stroke="#2828ff" stroke-width="0.85"/><polygon points="401.66,377.8 403.84,381.55 399.49,381.55" fill="#fff" stroke="#2828ff" stroke-width="0.85"/><polygon points="404.03,377.41 406.21,381.16 401.86,381.16" fill="#fff" stroke="#2828ff" stroke-width="0.85"/><polygon points="406.43,377.22 408.6,380.97 404.25,380.97" fill="#fff" stroke="#2828ff" stroke-width="0.85"/><polygon points="408.83,377.23 411,380.98 406.65,380.98" fill="#fff" stroke="#2828ff" stroke-width="0.85"/><polygon points="411.22,377.44 413.39,381.19 409.04,381.19" fill="#fff" stroke="#2828ff" stroke-width="0.85"/><polygon points="413.58,377.85 415.76,381.6 411.41,381.6" fill="#fff" stroke="#2828ff" stroke-width="0.85"/><polygon points="415.91,378.44 418.09,382.19 413.74,382.19" fill="#fff" stroke="#2828ff" stroke-width="0.85"/><polygon points="418.2,379.19 420.38,382.94 416.03,382.94" fill="#fff" stroke="#2828ff" stroke-width="0.85"/><polygon points="420.44,380.1 422.61,383.85 418.26,383.85" fill="#fff" stroke="#2828ff" stroke-width="0.85"/><polygon points="422.63,381.14 424.8,384.89 420.45,384.89" fill="#fff" stroke="#2828ff" stroke-width="0.85"/><polygon points="424.76,382.3 426.94,386.05 422.59,386.05" fill="#fff" stroke="#2828ff" stroke-width="0.85"/><polygon points="426.85,383.56 429.02,387.31 424.67,387.31" fill="#fff" stroke="#2828ff" stroke-width="0.85"/><polygon points="428.89,384.91 431.06,388.66 426.71,388.66" fill="#fff" stroke="#2828ff" stroke-width="0.85"/><polygon points="430.88,386.34 433.06,390.09 428.71,390.09" fill="#fff" stroke="#2828ff" stroke-width="0.85"/><polygon points="432.84,387.84 435.02,391.59 430.67,391.59" fill="#fff" stroke="#2828ff" stroke-width="0.85"/><polygon points="434.77,389.41 436.94,393.16 432.59,393.16" fill="#fff" stroke="#2828ff" stroke-width="0.85"/><polygon points="436.66,391.03 438.84,394.78 434.49,394.78" fill="#fff" stroke="#2828ff" stroke-width="0.85"/><polygon points="438.53,392.7 440.71,396.45 436.36,396.45" fill="#fff" stroke="#2828ff" stroke-width="0.85"/><polygon points="440.38,394.42 442.56,398.17 438.21,398.17" fill="#fff" stroke="#2828ff" stroke-width="0.85"/><polygon points="442.21,396.18 444.39,399.93 440.04,399.93" fill="#fff" stroke="#2828ff" stroke-width="0.85"/><polygon points="444.03,397.98 446.2,401.73 441.85,401.73" fill="#fff" stroke="#2828ff" stroke-width="0.85"/><polygon points="445.83,399.81 448.01,403.56 443.66,403.56" fill="#fff" stroke="#2828ff" stroke-width="0.85"/><polygon points="447.63,401.67 449.81,405.42 445.46,405.42" fill="#fff" stroke="#2828ff" stroke-width="0.85"/><polygon points="449.43,403.57 451.6,407.32 447.25,407.32" fill="#fff" stroke="#2828ff" stroke-width="0.85"/><polygon points="451.22,405.49 453.4,409.24 449.05,409.24" fill="#fff" stroke="#2828ff" stroke-width="0.85"/><polygon points="453.02,407.44 455.19,411.19 450.84,411.19" fill="#fff" stroke="#2828ff" stroke-width="0.85"/><polygon points="454.82,409.41 457,413.16 452.65,413.16" fill="#fff" stroke="#2828ff" stroke-width="0.85"/><polygon points="456.64,411.4 458.81,415.15 454.46,415.15" fill="#fff" stroke="#2828ff" stroke-width="0.85"/><polygon points="458.46,413.42 460.64,417.17 456.29,417.17" fill="#fff" stroke="#2828ff" stroke-width="0.85"/><polygon points="460.3,415.46 462.48,419.21 458.13,419.21" fill="#fff" stroke="#2828ff" stroke-width="0.85"/><polygon points="462.16,417.52 464.34,421.27 459.99,421.27" fill="#fff" stroke="#2828ff" stroke-width="0.85"/><polygon points="464.05,419.59 466.22,423.34 461.87,423.34" fill="#fff" stroke="#2828ff" stroke-width="0.85"/><polygon points="465.96,421.68 468.14,425.43 463.79,425.43" fill="#fff" stroke="#2828ff" stroke-width="0.85"/><polygon points="467.9,423.79 470.08,427.54 465.73,427.54" fill="#fff" stroke="#2828ff" stroke-width="0.85"/><polygon points="469.88,425.91 472.06,429.66 467.71,429.66" fill="#fff" stroke="#2828ff" stroke-width="0.85"/><polygon points="471.9,428.05 474.08,431.8 469.73,431.8" fill="#fff" stroke="#2828ff" stroke-width="0.85"/><polygon points="473.97,430.19 476.14,433.94 471.79,433.94" fill="#fff" stroke="#2828ff" stroke-width="0.85"/><polygon points="476.08,432.35 478.26,436.1 473.91,436.1" fill="#fff" stroke="#2828ff" stroke-width="0.85"/><polygon points="478.25,434.51 480.43,438.26 476.08,438.26" fill="#fff" stroke="#2828ff" stroke-width="0.85"/><polygon points="480.49,436.67 482.67,440.42 478.32,440.42" fill="#fff" stroke="#2828ff" stroke-width="0.85"/><polygon points="482.8,438.84 484.97,442.59 480.62,442.59" fill="#fff" stroke="#2828ff" stroke-width="0.85"/><polygon points="485.18,441.01 487.36,444.76 483.01,444.76" fill="#fff" stroke="#2828ff" stroke-width="0.85"/><polygon points="487.66,443.17 489.83,446.92 485.48,446.92" fill="#fff" stroke="#2828ff" stroke-width="0.85"/><polygon points="490.23,445.32 492.4,449.07 488.05,449.07" fill="#fff" stroke="#2828ff" stroke-width="0.85"/><polygon points="492.91,447.45 495.08,451.2 490.73,451.2" fill="#fff" stroke="#2828ff" stroke-width="0.85"/><polygon points="495.71,449.56 497.89,453.31 493.54,453.31" fill="#fff" stroke="#2828ff" stroke-width="0.85"/><polygon points="498.64,451.64 500.82,455.39 496.47,455.39" fill="#fff" stroke="#2828ff" stroke-width="0.85"/><polygon points="501.73,453.68 503.9,457.43 499.55,457.43" fill="#fff" stroke="#2828ff" stroke-width="0.85"/><polygon points="504.97,455.67 507.15,459.42 502.8,459.42" fill="#fff" stroke="#2828ff" stroke-width="0.85"/><polygon points="508.4,457.59 510.58,461.34 506.23,461.34" fill="#fff" stroke="#2828ff" stroke-width="0.85"/><polygon points="512.03,459.44 514.21,463.19 509.86,463.19" fill="#fff" stroke="#2828ff" stroke-width="0.85"/><polygon points="515.88,461.2 518.06,464.95 513.71,464.95" fill="#fff" stroke="#2828ff" stroke-width="0.85"/></g>
<path fill="none" stroke="#008000" stroke-width="3.6" stroke-linejoin="round" d="M336.4,422.2 L336.9,421.38 L337.4,420.55 L337.9,419.72 L338.4,418.89 L338.9,418.05 L339.4,417.2 L339.9,416.36 L340.4,415.5 L340.9,414.65 L341.4,413.79 L341.9,412.92 L342.4,412.06 L342.9,411.19 L343.4,410.31 L343.9,409.44 L344.4,408.56 L344.9,407.68 L345.4,406.79 L345.9,405.91 L346.4,405.02 L346.9,404.13 L347.4,403.24 L347.9,402.35 L348.4,401.46 L348.9,400.57 L349.4,399.68 L349.9,398.79 L350.4,397.9 L350.9,397.01 L351.4,396.12 L351.9,395.23M353.9,391.69 L354.4,390.81 L354.9,389.93 L355.4,389.06 L355.9,388.19 L356.4,387.32 L356.9,386.46 L357.4,385.6M359.9,381.38 L360.4,380.55 L360.9,379.73 L361.4,378.92 L361.9,378.11 L362.4,377.31 L362.9,376.51 L363.4,375.73 L363.9,374.95 L364.4,374.18 L364.9,373.42 L365.4,372.67 L365.9,371.92 L366.4,371.19M368.9,367.67 L369.4,366.99 L369.9,366.33 L370.4,365.68 L370.9,365.04 L371.4,364.42 L371.9,363.8 L372.4,363.2 L372.9,362.61 L373.4,362.04 L373.9,361.48 L374.4,360.93 L374.9,360.39 L375.4,359.87 L375.9,359.36 L376.4,358.87 L376.9,358.39 L377.4,357.93 L377.9,357.48 L378.4,357.04 L378.9,356.62 L379.4,356.22 L379.9,355.83 L380.4,355.46 L380.9,355.11 L381.4,354.76 L381.9,354.44 L382.4,354.13 L382.9,353.84 L383.4,353.57 L383.9,353.31 L384.4,353.07 L384.9,352.84 L385.4,352.64 L385.9,352.45 L386.4,352.27 L386.9,352.12 L387.4,351.98 L387.9,351.86 L388.4,351.76 L388.9,351.67 L389.4,351.6 L389.9,351.55 L390.4,351.52 L390.9,351.5 L391.4,351.5 L391.9,351.52 L392.4,351.56 L392.9,351.61 L393.4,351.69 L393.9,351.78 L394.4,351.88 L394.9,352.01 L395.4,352.15 L395.9,352.31 L396.4,352.48 L396.9,352.68 L397.4,352.89 L397.9,353.12 L398.4,353.36 L398.9,353.62 L399.4,353.9 L399.9,354.19 L400.4,354.5 L400.9,354.83 L401.4,355.18 L401.9,355.53 L402.4,355.91 L402.9,356.3 L403.4,356.71 L403.9,357.13 L404.4,357.57 L404.9,358.02 L405.4,358.49 L405.9,358.97 L406.4,359.46 L406.9,359.97 L407.4,360.5 L407.9,361.04 L408.4,361.59 L408.9,362.15 L409.4,362.73 L409.9,363.32 L410.4,363.93 L410.9,364.54 L411.4,365.17 L411.9,365.81 L412.4,366.46 L412.9,367.13 L413.4,367.8 L413.9,368.49 L414.4,369.18 L414.9,369.89 L415.4,370.61 L415.9,371.33 L416.4,372.07 L416.9,372.82 L417.4,373.57 L417.9,374.33 L418.4,375.11 L418.9,375.88 L419.4,376.67 L419.9,377.47 L420.4,378.27 L420.9,379.08 L421.4,379.9 L421.9,380.72 L422.4,381.55 L422.9,382.38 L423.4,383.22 L423.9,384.07 L424.4,384.92 L424.9,385.77 L425.4,386.63 L425.9,387.5 L426.4,388.36 L426.9,389.23 L427.4,390.11 L427.9,390.98 L428.4,391.86 L428.9,392.75 L429.4,393.63 L429.9,394.52 L430.4,395.4 L430.9,396.29 L431.4,397.18 L431.9,398.07 L432.4,398.97 L432.9,399.86 L433.4,400.75 L433.9,401.64 L434.4,402.53 L434.9,403.42 L435.4,404.31 L435.9,405.2 L436.4,406.08 L436.9,406.97 L437.4,407.85 L437.9,408.73 L438.4,409.61 L438.9,410.49 L439.4,411.36 L439.9,412.23 L440.4,413.1 L440.9,413.96M443.4,418.22 L443.9,419.05 L444.4,419.89 L444.9,420.72 L445.4,421.54 L445.9,422.36 L446.4,423.17 L446.9,423.98 L447.4,424.78 L447.9,425.58 L448.4,426.37 L448.9,427.16 L449.4,427.93 L449.9,428.71 L450.4,429.47 L450.9,430.23 L451.4,430.98 L451.9,431.73 L452.4,432.47 L452.9,433.2 L453.4,433.93 L453.9,434.64 L454.4,435.35 L454.9,436.06 L455.4,436.75 L455.9,437.44 L456.4,438.12 L456.9,438.8 L457.4,439.47 L457.9,440.12 L458.4,440.78 L458.9,441.42 L459.4,442.06 L459.9,442.68"/>
<circle cx="336.4" cy="422.2" r="1.8" fill="#008000"/>
<circle cx="459.9" cy="442.68" r="1.8" fill="#008000"/>
<g><polygon points="336.4,406.81 338.7,409.11 336.4,411.41 334.1,409.11" fill="#fff" stroke="#2f962f" stroke-width="0.85"/><polygon points="337.69,404.17 339.99,406.47 337.69,408.77 335.39,406.47" fill="#fff" stroke="#2f962f" stroke-width="0.85"/><polygon points="338.96,401.55 341.26,403.85 338.96,406.15 336.66,403.85" fill="#fff" stroke="#2f962f" stroke-width="0.85"/><polygon points="340.2,398.96 342.5,401.26 340.2,403.56 337.9,401.26" fill="#fff" stroke="#2f962f" stroke-width="0.85"/><polygon points="341.43,396.39 343.73,398.69 341.43,400.99 339.13,398.69" fill="#fff" stroke="#2f962f" stroke-width="0.85"/><polygon points="342.64,393.84 344.94,396.14 342.64,398.44 340.34,396.14" fill="#fff" stroke="#2f962f" stroke-width="0.85"/><polygon points="343.84,391.32 346.14,393.62 343.84,395.92 341.54,393.62" fill="#fff" stroke="#2f962f" stroke-width="0.85"/><polygon points="345.02,388.81 347.32,391.11 345.02,393.41 342.72,391.11" fill="#fff" stroke="#2f962f" stroke-width="0.85"/><polygon points="346.2,386.33 348.5,388.63 346.2,390.93 343.9,388.63" fill="#fff" stroke="#2f962f" stroke-width="0.85"/><polygon points="347.37,383.87 349.67,386.17 347.37,388.47 345.07,386.17" fill="#fff" stroke="#2f962f" stroke-width="0.85"/><polygon points="348.53,381.43 350.83,383.73 348.53,386.03 346.23,383.73" fill="#fff" stroke="#2f962f" stroke-width="0.85"/><polygon points="349.7,379.01 352,381.31 349.7,383.61 347.4,381.31" fill="#fff" stroke="#2f962f" stroke-width="0.85"/><polygon points="350.86,376.62 353.16,378.92 350.86,381.22 348.56,378.92" fill="#fff" stroke="#2f962f" stroke-width="0.85"/><polygon points="352.02,374.25 354.32,376.55 352.02,378.85 349.72,376.55" fill="#fff" stroke="#2f962f" stroke-width="0.85"/><polygon points="353.19,371.9 355.49,374.2 353.19,376.5 350.89,374.2" fill="#fff" stroke="#2f962f" stroke-width="0.85"/><polygon points="354.37,369.57 356.67,371.87 354.37,374.17 352.07,371.87" fill="#fff" stroke="#2f962f" stroke-width="0.85"/><polygon points="355.56,367.27 357.86,369.57 355.56,371.87 353.26,369.57" fill="#fff" stroke="#2f962f" stroke-width="0.85"/><polygon points="356.76,364.99 359.06,367.29 356.76,369.59 354.46,367.29" fill="#fff" stroke="#2f962f" stroke-width="0.85"/><polygon points="357.97,362.74 360.27,365.04 357.97,367.34 355.67,365.04" fill="#fff" stroke="#2f962f" stroke-width="0.85"/><polygon points="359.21,360.51 361.51,362.81 359.21,365.11 356.91,362.81" fill="#fff" stroke="#2f962f" stroke-width="0.85"/><polygon points="360.47,358.32 362.77,360.62 360.47,362.92 358.17,360.62" fill="#fff" stroke="#2f962f" stroke-width="0.85"/><polygon points="361.76,356.15 364.06,358.45 361.76,360.75 359.46,358.45" fill="#fff" stroke="#2f962f" stroke-width="0.85"/><polygon points="363.08,354.03 365.38,356.33 363.08,358.63 360.78,356.33" fill="#fff" stroke="#2f962f" stroke-width="0.85"/><polygon points="364.44,351.94 366.74,354.24 364.44,356.54 362.14,354.24" fill="#fff" stroke="#2f962f" stroke-width="0.85"/><polygon points="365.85,349.91 368.15,352.21 365.85,354.51 363.55,352.21" fill="#fff" stroke="#2f962f" stroke-width="0.85"/><polygon points="367.32,347.92 369.62,350.22 367.32,352.52 365.02,350.22" fill="#fff" stroke="#2f962f" stroke-width="0.85"/><polygon points="368.86,346.01 371.16,348.31 368.86,350.61 366.56,348.31" fill="#fff" stroke="#2f962f" stroke-width="0.85"/><polygon points="370.48,344.18 372.78,346.48 370.48,348.78 368.18,346.48" fill="#fff" stroke="#2f962f" stroke-width="0.85"/><polygon points="372.2,342.45 374.5,344.75 372.2,347.05 369.9,344.75" fill="#fff" stroke="#2f962f" stroke-width="0.85"/><polygon points="374.03,340.87 376.33,343.17 374.03,345.47 371.73,343.17" fill="#fff" stroke="#2f962f" stroke-width="0.85"/><polygon points="376.01,339.48 378.31,341.78 376.01,344.08 373.71,341.78" fill="#fff" stroke="#2f962f" stroke-width="0.85"/><polygon points="378.14,338.36 380.44,340.66 378.14,342.96 375.84,340.66" fill="#fff" stroke="#2f962f" stroke-width="0.85"/><polygon points="380.42,337.6 382.72,339.9 380.42,342.2 378.12,339.9" fill="#fff" stroke="#2f962f" stroke-width="0.85"/><polygon points="382.8,337.3 385.1,339.6 382.8,341.9 380.5,339.6" fill="#fff" stroke="#2f962f" stroke-width="0.85"/><polygon points="385.19,337.52 387.49,339.82 385.19,342.12 382.89,339.82" fill="#fff" stroke="#2f962f" stroke-width="0.85"/><polygon points="387.48,338.2 389.78,340.5 387.48,342.8 385.18,340.5" fill="#fff" stroke="#2f962f" stroke-width="0.85"/><polygon points="389.64,339.27 391.94,341.57 389.64,343.87 387.34,341.57" fill="#fff" stroke="#2f962f" stroke-width="0.85"/><polygon points="391.63,340.62 393.93,342.92 391.63,345.22 389.33,342.92" fill="#fff" stroke="#2f962f" stroke-width="0.85"/><polygon points="393.49,342.16 395.79,344.46 393.49,346.76 391.19,344.46" fill="#fff" stroke="#2f962f" stroke-width="0.85"/><polygon points="395.22,343.86 397.52,346.16 395.22,348.46 392.92,346.16" fill="#fff" stroke="#2f962f" stroke-width="0.85"/><polygon points="396.85,345.66 399.15,347.96 396.85,350.26 394.55,347.96" fill="#fff" stroke="#2f962f" stroke-width="0.85"/><polygon points="398.4,347.56 400.7,349.86 398.4,352.16 396.1,349.86" fill="#fff" stroke="#2f962f" stroke-width="0.85"/><polygon points="399.87,349.52 402.17,351.82 399.87,354.12 397.57,351.82" fill="#fff" stroke="#2f962f" stroke-width="0.85"/><polygon points="401.28,351.54 403.58,353.84 401.28,356.14 398.98,353.84" fill="#fff" stroke="#2f962f" stroke-width="0.85"/><polygon points="402.65,353.6 404.95,355.9 402.65,358.2 400.35,355.9" fill="#fff" stroke="#2f962f" stroke-width="0.85"/><polygon points="403.97,355.71 406.27,358.01 403.97,360.31 401.67,358.01" fill="#fff" stroke="#2f962f" stroke-width="0.85"/><polygon points="405.26,357.85 407.56,360.15 405.26,362.45 402.96,360.15" fill="#fff" stroke="#2f962f" stroke-width="0.85"/><polygon points="406.52,360.03 408.82,362.33 406.52,364.63 404.22,362.33" fill="#fff" stroke="#2f962f" stroke-width="0.85"/><polygon points="407.75,362.24 410.05,364.54 407.75,366.84 405.45,364.54" fill="#fff" stroke="#2f962f" stroke-width="0.85"/><polygon points="408.97,364.47 411.27,366.77 408.97,369.07 406.67,366.77" fill="#fff" stroke="#2f962f" stroke-width="0.85"/><polygon points="410.16,366.73 412.46,369.03 410.16,371.33 407.86,369.03" fill="#fff" stroke="#2f962f" stroke-width="0.85"/><polygon points="411.34,369.01 413.64,371.31 411.34,373.61 409.04,371.31" fill="#fff" stroke="#2f962f" stroke-width="0.85"/><polygon points="412.52,371.32 414.82,373.62 412.52,375.92 410.22,373.62" fill="#fff" stroke="#2f962f" stroke-width="0.85"/><polygon points="413.68,373.65 415.98,375.95 413.68,378.25 411.38,375.95" fill="#fff" stroke="#2f962f" stroke-width="0.85"/><polygon points="414.84,376 417.14,378.3 414.84,380.6 412.54,378.3" fill="#fff" stroke="#2f962f" stroke-width="0.85"/><polygon points="415.99,378.37 418.29,380.67 415.99,382.97 413.69,380.67" fill="#fff" stroke="#2f962f" stroke-width="0.85"/><polygon points="417.15,380.76 419.45,383.06 417.15,385.36 414.85,383.06" fill="#fff" stroke="#2f962f" stroke-width="0.85"/><polygon points="418.3,383.18 420.6,385.48 418.3,387.78 416,385.48" fill="#fff" stroke="#2f962f" stroke-width="0.85"/><polygon points="419.46,385.61 421.76,387.91 419.46,390.21 417.16,387.91" fill="#fff" stroke="#2f962f" stroke-width="0.85"/><polygon points="420.62,388.07 422.92,390.37 420.62,392.67 418.32,390.37" fill="#fff" stroke="#2f962f" stroke-width="0.85"/><polygon points="421.8,390.55 424.1,392.85 421.8,395.15 419.5,392.85" fill="#fff" stroke="#2f962f" stroke-width="0.85"/><polygon points="422.98,393.04 425.28,395.34 422.98,397.64 420.68,395.34" fill="#fff" stroke="#2f962f" stroke-width="0.85"/><polygon points="424.17,395.56 426.47,397.86 424.17,400.16 421.87,397.86" fill="#fff" stroke="#2f962f" stroke-width="0.85"/><polygon points="425.38,398.1 427.68,400.4 425.38,402.7 423.08,400.4" fill="#fff" stroke="#2f962f" stroke-width="0.85"/><polygon points="426.61,400.66 428.91,402.96 426.61,405.26 424.31,402.96" fill="#fff" stroke="#2f962f" stroke-width="0.85"/><polygon points="427.86,403.24 430.16,405.54 427.86,407.84 425.56,405.54" fill="#fff" stroke="#2f962f" stroke-width="0.85"/><polygon points="429.13,405.84 431.43,408.14 429.13,410.44 426.83,408.14" fill="#fff" stroke="#2f962f" stroke-width="0.85"/><polygon points="430.42,408.47 432.72,410.77 430.42,413.07 428.12,410.77" fill="#fff" stroke="#2f962f" stroke-width="0.85"/><polygon points="431.74,411.12 434.04,413.42 431.74,415.72 429.44,413.42" fill="#fff" stroke="#2f962f" stroke-width="0.85"/><polygon points="433.1,413.79 435.4,416.09 433.1,418.39 430.8,416.09" fill="#fff" stroke="#2f962f" stroke-width="0.85"/><polygon points="434.5,416.49 436.8,418.79 434.5,421.09 432.2,418.79" fill="#fff" stroke="#2f962f" stroke-width="0.85"/><polygon points="435.93,419.2 438.23,421.5 435.93,423.8 433.63,421.5" fill="#fff" stroke="#2f962f" stroke-width="0.85"/><polygon points="437.42,421.95 439.72,424.25 437.42,426.55 435.12,424.25" fill="#fff" stroke="#2f962f" stroke-width="0.85"/><polygon points="438.96,424.71 441.26,427.01 438.96,429.31 436.66,427.01" fill="#fff" stroke="#2f962f" stroke-width="0.85"/><polygon points="440.56,427.5 442.86,429.8 440.56,432.1 438.26,429.8" fill="#fff" stroke="#2f962f" stroke-width="0.85"/><polygon points="442.23,430.31 444.53,432.61 442.23,434.91 439.93,432.61" fill="#fff" stroke="#2f962f" stroke-width="0.85"/><polygon points="443.98,433.15 446.28,435.45 443.98,437.75 441.68,435.45" fill="#fff" stroke="#2f962f" stroke-width="0.85"/><polygon points="445.82,436 448.12,438.3 445.82,440.6 443.52,438.3" fill="#fff" stroke="#2f962f" stroke-width="0.85"/><polygon points="447.77,438.88 450.07,441.18 447.77,443.48 445.47,441.18" fill="#fff" stroke="#2f962f" stroke-width="0.85"/><polygon points="449.84,441.76 452.14,444.06 449.84,446.36 447.54,444.06" fill="#fff" stroke="#2f962f" stroke-width="0.85"/><polygon points="452.05,444.66 454.35,446.96 452.05,449.26 449.75,446.96" fill="#fff" stroke="#2f962f" stroke-width="0.85"/><polygon points="454.43,447.56 456.73,449.86 454.43,452.16 452.13,449.86" fill="#fff" stroke="#2f962f" stroke-width="0.85"/><polygon points="457,450.44 459.3,452.74 457,455.04 454.7,452.74" fill="#fff" stroke="#2f962f" stroke-width="0.85"/><polygon points="459.81,453.3 462.11,455.6 459.81,457.9 457.51,455.6" fill="#fff" stroke="#2f962f" stroke-width="0.85"/><polygon points="462.89,456.1 465.19,458.4 462.89,460.7 460.59,458.4" fill="#fff" stroke="#2f962f" stroke-width="0.85"/><polygon points="466.31,458.81 468.61,461.11 466.31,463.41 464.01,461.11" fill="#fff" stroke="#2f962f" stroke-width="0.85"/><polygon points="496.9,470.33 499.2,472.63 496.9,474.93 494.6,472.63" fill="#fff" stroke="#2f962f" stroke-width="0.85"/></g>
<circle cx="451.6" cy="333.5" r="2" fill="#ff0000"/>
<text x="463" y="336.4" font-size="8.0" font-family="Liberation Sans, sans-serif" font-weight="bold" fill="#111">May-WRF-solar</text>
<circle cx="451.6" cy="343.45" r="2" fill="#fff" stroke="#ff3c3c" stroke-width="0.75"/>
<text x="463" y="346.35" font-size="8.0" font-family="Liberation Sans, sans-serif" font-weight="bold" fill="#111">May-actual</text>
<polygon points="451.6,350.9 453.78,354.65 449.43,354.65" fill="#0000ff"/>
<text x="463" y="356.3" font-size="8.0" font-family="Liberation Sans, sans-serif" font-weight="bold" fill="#111">August-WRF-solar</text>
<polygon points="451.6,360.85 453.78,364.6 449.43,364.6" fill="#fff" stroke="#2828ff" stroke-width="0.75"/>
<text x="463" y="366.25" font-size="8.0" font-family="Liberation Sans, sans-serif" font-weight="bold" fill="#111">August-actual</text>
<polygon points="451.6,371 453.9,373.3 451.6,375.6 449.3,373.3" fill="#008000"/>
<text x="463" y="376.2" font-size="8.0" font-family="Liberation Sans, sans-serif" font-weight="bold" fill="#111">December-WRF-solar</text>
<polygon points="451.6,380.95 453.9,383.25 451.6,385.55 449.3,383.25" fill="#fff" stroke="#2f962f" stroke-width="0.75"/>
<text x="463" y="386.15" font-size="8.0" font-family="Liberation Sans, sans-serif" font-weight="bold" fill="#111">December-actual</text>
<rect x="320.5" y="328.5" width="224" height="161" fill="none" stroke="#111" stroke-width="1.2"/>
<text x="330.2" y="344.6" font-size="15.2" font-family="Liberation Sans, sans-serif" font-weight="bold" fill="#111">(f)</text>
<text transform="translate(309.8,408.1) rotate(-90)" font-size="11.3" text-anchor="middle" font-family="Liberation Sans, sans-serif" font-weight="bold" fill="#111">Frequency of occurrence</text>
<path fill="none" stroke="#ff0000" stroke-width="3.9" stroke-linejoin="round" d="M336.4,620.33 L336.9,619.92 L337.4,619.5 L337.9,619.08 L338.4,618.65 L338.9,618.23 L339.4,617.8 L339.9,617.36 L340.4,616.92 L340.9,616.48 L341.4,616.04 L341.9,615.59 L342.4,615.14 L342.9,614.68 L343.4,614.22 L343.9,613.76 L344.4,613.3 L344.9,612.83 L345.4,612.36 L345.9,611.88 L346.4,611.41 L346.9,610.93 L347.4,610.44 L347.9,609.96 L348.4,609.47 L348.9,608.98 L349.4,608.48 L349.9,607.98 L350.4,607.49 L350.9,606.98 L351.4,606.48 L351.9,605.97 L352.4,605.46 L352.9,604.95 L353.4,604.43 L353.9,603.92 L354.4,603.4 L354.9,602.88 L355.4,602.35 L355.9,601.83 L356.4,601.3 L356.9,600.77 L357.4,600.24 L357.9,599.71 L358.4,599.17 L358.9,598.64 L359.4,598.1 L359.9,597.56 L360.4,597.02 L360.9,596.48 L361.4,595.94 L361.9,595.4 L362.4,594.85 L362.9,594.31 L363.4,593.76 L363.9,593.21 L364.4,592.67 L364.9,592.12 L365.4,591.57 L365.9,591.02 L366.4,590.47 L366.9,589.92 L367.4,589.37 L367.9,588.82 L368.4,588.27 L368.9,587.72 L369.4,587.18 L369.9,586.63 L370.4,586.08 L370.9,585.53 L371.4,584.98 L371.9,584.44 L372.4,583.89 L372.9,583.35 L373.4,582.8 L373.9,582.26 L374.4,581.72 L374.9,581.18 L375.4,580.64 L375.9,580.11 L376.4,579.57 L376.9,579.04 L377.4,578.51 L377.9,577.98 L378.4,577.45 L378.9,576.93 L379.4,576.41 L379.9,575.89 L380.4,575.37 L380.9,574.85 L381.4,574.34 L381.9,573.83 L382.4,573.33 L382.9,572.82 L383.4,572.32 L383.9,571.83 L384.4,571.34 L384.9,570.85 L385.4,570.36 L385.9,569.88 L386.4,569.4 L386.9,568.93 L387.4,568.46 L387.9,567.99 L388.4,567.53 L388.9,567.07 L389.4,566.62 L389.9,566.17 L390.4,565.73 L390.9,565.29 L391.4,564.85 L391.9,564.42 L392.4,564 L392.9,563.58 L393.4,563.17 L393.9,562.76 L394.4,562.36 L394.9,561.96 L395.4,561.57 L395.9,561.18 L396.4,560.8 L396.9,560.43 L397.4,560.06 L397.9,559.7 L398.4,559.34 L398.9,559 L399.4,558.65M402.4,556.73 L402.9,556.44 L403.4,556.15 L403.9,555.87 L404.4,555.59 L404.9,555.33 L405.4,555.07 L405.9,554.81 L406.4,554.57 L406.9,554.33 L407.4,554.1 L407.9,553.88 L408.4,553.66 L408.9,553.46 L409.4,553.26 L409.9,553.06 L410.4,552.88 L410.9,552.7 L411.4,552.54 L411.9,552.38 L412.4,552.23 L412.9,552.08 L413.4,551.95 L413.9,551.82 L414.4,551.7 L414.9,551.59 L415.4,551.48 L415.9,551.39 L416.4,551.3 L416.9,551.23 L417.4,551.16 L417.9,551.09 L418.4,551.04 L418.9,551 L419.4,550.96 L419.9,550.93 L420.4,550.91 L420.9,550.9 L421.4,550.9 L421.9,550.91 L422.4,550.92 L422.9,550.94 L423.4,550.97 L423.9,551.01 L424.4,551.06 L424.9,551.12 L425.4,551.18 L425.9,551.26 L426.4,551.34 L426.9,551.43 L427.4,551.52 L427.9,551.63 L428.4,551.75 L428.9,551.87 L429.4,552 L429.9,552.14 L430.4,552.28 L430.9,552.44 L431.4,552.6 L431.9,552.77 L432.4,552.95 L432.9,553.14 L433.4,553.34 L433.9,553.54 L434.4,553.75 L434.9,553.97 L435.4,554.19 L435.9,554.42 L436.4,554.67 L436.9,554.91 L437.4,555.17 L437.9,555.43 L438.4,555.7 L438.9,555.98 L439.4,556.26 L439.9,556.56 L440.4,556.85 L440.9,557.16 L441.4,557.47 L441.9,557.79 L442.4,558.12 L442.9,558.45 L443.4,558.79 L443.9,559.13 L444.4,559.49 L444.9,559.84 L445.4,560.21 L445.9,560.58 L446.4,560.95 L446.9,561.34 L447.4,561.72 L447.9,562.12 L448.4,562.52 L448.9,562.92 L449.4,563.33 L449.9,563.75 L450.4,564.17 L450.9,564.59 L451.4,565.03 L451.9,565.46 L452.4,565.9 L452.9,566.35 L453.4,566.8 L453.9,567.25 L454.4,567.71 L454.9,568.18 L455.4,568.64 L455.9,569.11 L456.4,569.59 L456.9,570.07 L457.4,570.55 L457.9,571.04 L458.4,571.53 L458.9,572.03 L459.4,572.52 L459.9,573.03 L460.4,573.53 L460.9,574.04 L461.4,574.55 L461.9,575.06 L462.4,575.58 L462.9,576.09 L463.4,576.61 L463.9,577.14 L464.4,577.66 L464.9,578.19 L465.4,578.72 L465.9,579.25 L466.4,579.79 L466.9,580.32 L467.4,580.86 L467.9,581.4 L468.4,581.94 L468.9,582.48 L469.4,583.02 L469.9,583.57 L470.4,584.11 L470.9,584.66 L471.4,585.2 L471.9,585.75 L472.4,586.3 L472.9,586.85 L473.4,587.4 L473.9,587.94 L474.4,588.49 L474.9,589.04 L475.4,589.59 L475.9,590.14 L476.4,590.69 L476.9,591.24 L477.4,591.79 L477.9,592.34 L478.4,592.89 L478.9,593.43 L479.4,593.98 L479.9,594.53 L480.4,595.07 L480.9,595.61 L481.4,596.16 L481.9,596.7 L482.4,597.24 L482.9,597.78 L483.4,598.32 L483.9,598.85 L484.4,599.39 L484.9,599.92 L485.4,600.45 L485.9,600.98 L486.4,601.51 L486.9,602.04 L487.4,602.56 L487.9,603.09 L488.4,603.61 L488.9,604.12 L489.4,604.64 L489.9,605.15 L490.4,605.66 L490.9,606.17 L491.4,606.68 L491.9,607.18 L492.4,607.69 L492.9,608.18 L493.4,608.68 L493.9,609.17 L494.4,609.66 L494.9,610.15 L495.4,610.64 L495.9,611.12 L496.4,611.6 L496.9,612.07 L497.4,612.55 L497.9,613.02 L498.4,613.48 L498.9,613.95 L499.4,614.41 L499.9,614.86 L500.4,615.32 L500.9,615.77 L501.4,616.21"/>
<circle cx="336.4" cy="620.33" r="1.95" fill="#ff0000"/>
<circle cx="501.4" cy="616.21" r="1.95" fill="#ff0000"/>
<g><circle cx="336.4" cy="601.12" r="2" fill="#fff" stroke="#ff3c3c" stroke-width="0.85"/><circle cx="338.32" cy="598.81" r="2" fill="#fff" stroke="#ff3c3c" stroke-width="0.85"/><circle cx="340.2" cy="596.53" r="2" fill="#fff" stroke="#ff3c3c" stroke-width="0.85"/><circle cx="342.05" cy="594.26" r="2" fill="#fff" stroke="#ff3c3c" stroke-width="0.85"/><circle cx="343.86" cy="592.01" r="2" fill="#fff" stroke="#ff3c3c" stroke-width="0.85"/><circle cx="345.64" cy="589.78" r="2" fill="#fff" stroke="#ff3c3c" stroke-width="0.85"/><circle cx="347.39" cy="587.56" r="2" fill="#fff" stroke="#ff3c3c" stroke-width="0.85"/><circle cx="349.13" cy="585.37" r="2" fill="#fff" stroke="#ff3c3c" stroke-width="0.85"/><circle cx="350.84" cy="583.2" r="2" fill="#fff" stroke="#ff3c3c" stroke-width="0.85"/><circle cx="352.55" cy="581.05" r="2" fill="#fff" stroke="#ff3c3c" stroke-width="0.85"/><circle cx="354.24" cy="578.92" r="2" fill="#fff" stroke="#ff3c3c" stroke-width="0.85"/><circle cx="355.92" cy="576.82" r="2" fill="#fff" stroke="#ff3c3c" stroke-width="0.85"/><circle cx="357.6" cy="574.74" r="2" fill="#fff" stroke="#ff3c3c" stroke-width="0.85"/><circle cx="359.28" cy="572.69" r="2" fill="#fff" stroke="#ff3c3c" stroke-width="0.85"/><circle cx="360.95" cy="570.67" r="2" fill="#fff" stroke="#ff3c3c" stroke-width="0.85"/><circle cx="362.64" cy="568.67" r="2" fill="#fff" stroke="#ff3c3c" stroke-width="0.85"/><circle cx="364.33" cy="566.71" r="2" fill="#fff" stroke="#ff3c3c" stroke-width="0.85"/><circle cx="366.03" cy="564.78" r="2" fill="#fff" stroke="#ff3c3c" stroke-width="0.85"/><circle cx="367.75" cy="562.88" r="2" fill="#fff" stroke="#ff3c3c" stroke-width="0.85"/><circle cx="369.48" cy="561.03" r="2" fill="#fff" stroke="#ff3c3c" stroke-width="0.85"/><circle cx="371.24" cy="559.21" r="2" fill="#fff" stroke="#ff3c3c" stroke-width="0.85"/><circle cx="373.03" cy="557.45" r="2" fill="#fff" stroke="#ff3c3c" stroke-width="0.85"/><circle cx="374.85" cy="555.74" r="2" fill="#fff" stroke="#ff3c3c" stroke-width="0.85"/><circle cx="376.7" cy="554.08" r="2" fill="#fff" stroke="#ff3c3c" stroke-width="0.85"/><circle cx="378.6" cy="552.5" r="2" fill="#fff" stroke="#ff3c3c" stroke-width="0.85"/><circle cx="380.54" cy="550.99" r="2" fill="#fff" stroke="#ff3c3c" stroke-width="0.85"/><circle cx="382.54" cy="549.57" r="2" fill="#fff" stroke="#ff3c3c" stroke-width="0.85"/><circle cx="384.59" cy="548.25" r="2" fill="#fff" stroke="#ff3c3c" stroke-width="0.85"/><circle cx="386.71" cy="547.05" r="2" fill="#fff" stroke="#ff3c3c" stroke-width="0.85"/><circle cx="388.88" cy="545.99" r="2" fill="#fff" stroke="#ff3c3c" stroke-width="0.85"/><circle cx="391.13" cy="545.09" r="2" fill="#fff" stroke="#ff3c3c" stroke-width="0.85"/><circle cx="393.42" cy="544.37" r="2" fill="#fff" stroke="#ff3c3c" stroke-width="0.85"/><circle cx="395.77" cy="543.85" r="2" fill="#fff" stroke="#ff3c3c" stroke-width="0.85"/><circle cx="398.16" cy="543.56" r="2" fill="#fff" stroke="#ff3c3c" stroke-width="0.85"/><circle cx="400.56" cy="543.51" r="2" fill="#fff" stroke="#ff3c3c" stroke-width="0.85"/><circle cx="402.95" cy="543.69" r="2" fill="#fff" stroke="#ff3c3c" stroke-width="0.85"/><circle cx="405.31" cy="544.11" r="2" fill="#fff" stroke="#ff3c3c" stroke-width="0.85"/><circle cx="407.63" cy="544.73" r="2" fill="#fff" stroke="#ff3c3c" stroke-width="0.85"/><circle cx="409.9" cy="545.55" r="2" fill="#fff" stroke="#ff3c3c" stroke-width="0.85"/><circle cx="412.1" cy="546.54" r="2" fill="#fff" stroke="#ff3c3c" stroke-width="0.85"/><circle cx="414.23" cy="547.68" r="2" fill="#fff" stroke="#ff3c3c" stroke-width="0.85"/><circle cx="416.31" cy="548.94" r="2" fill="#fff" stroke="#ff3c3c" stroke-width="0.85"/><circle cx="418.32" cy="550.31" r="2" fill="#fff" stroke="#ff3c3c" stroke-width="0.85"/><circle cx="420.28" cy="551.77" r="2" fill="#fff" stroke="#ff3c3c" stroke-width="0.85"/><circle cx="422.19" cy="553.31" r="2" fill="#fff" stroke="#ff3c3c" stroke-width="0.85"/><circle cx="424.06" cy="554.93" r="2" fill="#fff" stroke="#ff3c3c" stroke-width="0.85"/><circle cx="425.88" cy="556.6" r="2" fill="#fff" stroke="#ff3c3c" stroke-width="0.85"/><circle cx="427.68" cy="558.33" r="2" fill="#fff" stroke="#ff3c3c" stroke-width="0.85"/><circle cx="429.44" cy="560.11" r="2" fill="#fff" stroke="#ff3c3c" stroke-width="0.85"/><circle cx="431.17" cy="561.94" r="2" fill="#fff" stroke="#ff3c3c" stroke-width="0.85"/><circle cx="432.89" cy="563.8" r="2" fill="#fff" stroke="#ff3c3c" stroke-width="0.85"/><circle cx="434.59" cy="565.7" r="2" fill="#fff" stroke="#ff3c3c" stroke-width="0.85"/><circle cx="436.27" cy="567.64" r="2" fill="#fff" stroke="#ff3c3c" stroke-width="0.85"/><circle cx="437.95" cy="569.6" r="2" fill="#fff" stroke="#ff3c3c" stroke-width="0.85"/><circle cx="439.62" cy="571.6" r="2" fill="#fff" stroke="#ff3c3c" stroke-width="0.85"/><circle cx="441.28" cy="573.62" r="2" fill="#fff" stroke="#ff3c3c" stroke-width="0.85"/><circle cx="442.95" cy="575.67" r="2" fill="#fff" stroke="#ff3c3c" stroke-width="0.85"/><circle cx="444.61" cy="577.74" r="2" fill="#fff" stroke="#ff3c3c" stroke-width="0.85"/><circle cx="446.28" cy="579.83" r="2" fill="#fff" stroke="#ff3c3c" stroke-width="0.85"/><circle cx="447.97" cy="581.95" r="2" fill="#fff" stroke="#ff3c3c" stroke-width="0.85"/><circle cx="449.66" cy="584.09" r="2" fill="#fff" stroke="#ff3c3c" stroke-width="0.85"/><circle cx="451.36" cy="586.25" r="2" fill="#fff" stroke="#ff3c3c" stroke-width="0.85"/><circle cx="453.09" cy="588.43" r="2" fill="#fff" stroke="#ff3c3c" stroke-width="0.85"/><circle cx="458.41" cy="595.07" r="2" fill="#fff" stroke="#ff3c3c" stroke-width="0.85"/><circle cx="460.24" cy="597.32" r="2" fill="#fff" stroke="#ff3c3c" stroke-width="0.85"/><circle cx="462.11" cy="599.58" r="2" fill="#fff" stroke="#ff3c3c" stroke-width="0.85"/><circle cx="464.03" cy="601.86" r="2" fill="#fff" stroke="#ff3c3c" stroke-width="0.85"/><circle cx="465.98" cy="604.15" r="2" fill="#fff" stroke="#ff3c3c" stroke-width="0.85"/><circle cx="468" cy="606.45" r="2" fill="#fff" stroke="#ff3c3c" stroke-width="0.85"/><circle cx="470.07" cy="608.75" r="2" fill="#fff" stroke="#ff3c3c" stroke-width="0.85"/><circle cx="472.21" cy="611.07" r="2" fill="#fff" stroke="#ff3c3c" stroke-width="0.85"/><circle cx="474.42" cy="613.39" r="2" fill="#fff" stroke="#ff3c3c" stroke-width="0.85"/><circle cx="476.71" cy="615.71" r="2" fill="#fff" stroke="#ff3c3c" stroke-width="0.85"/><circle cx="479.1" cy="618.03" r="2" fill="#fff" stroke="#ff3c3c" stroke-width="0.85"/><circle cx="481.59" cy="620.34" r="2" fill="#fff" stroke="#ff3c3c" stroke-width="0.85"/><circle cx="484.19" cy="622.64" r="2" fill="#fff" stroke="#ff3c3c" stroke-width="0.85"/><circle cx="486.92" cy="624.91" r="2" fill="#fff" stroke="#ff3c3c" stroke-width="0.85"/><circle cx="489.8" cy="627.16" r="2" fill="#fff" stroke="#ff3c3c" stroke-width="0.85"/><circle cx="492.83" cy="629.37" r="2" fill="#fff" stroke="#ff3c3c" stroke-width="0.85"/><circle cx="496.05" cy="631.52" r="2" fill="#fff" stroke="#ff3c3c" stroke-width="0.85"/><circle cx="499.46" cy="633.61" r="2" fill="#fff" stroke="#ff3c3c" stroke-width="0.85"/><circle cx="503.1" cy="635.61" r="2" fill="#fff" stroke="#ff3c3c" stroke-width="0.85"/><circle cx="506.98" cy="637.52" r="2" fill="#fff" stroke="#ff3c3c" stroke-width="0.85"/><circle cx="513.9" cy="640.36" r="2" fill="#fff" stroke="#ff3c3c" stroke-width="0.85"/></g>
<path fill="none" stroke="#0000ff" stroke-width="3.9" stroke-linejoin="round" d="M336.4,625.56 L336.9,625.15 L337.4,624.74 L337.9,624.32 L338.4,623.9 L338.9,623.47 L339.4,623.04 L339.9,622.6 L340.4,622.16 L340.9,621.71 L341.4,621.26 L341.9,620.8 L342.4,620.34 L342.9,619.87 L343.4,619.4 L343.9,618.92 L344.4,618.44 L344.9,617.96 L345.4,617.47 L345.9,616.97 L346.4,616.47 L346.9,615.97 L347.4,615.46 L347.9,614.95 L348.4,614.43 L348.9,613.91 L349.4,613.38 L349.9,612.85 L350.4,612.31 L350.9,611.77 L351.4,611.23 L351.9,610.68 L352.4,610.13 L352.9,609.58 L353.4,609.01 L353.9,608.45 L354.4,607.88 L354.9,607.31 L355.4,606.74 L355.9,606.16 L356.4,605.57 L356.9,604.99 L357.4,604.4 L357.9,603.8 L358.4,603.21 L358.9,602.61 L359.4,602 L359.9,601.4 L360.4,600.79 L360.9,600.18 L361.4,599.56 L361.9,598.94 L362.4,598.32 L362.9,597.7 L363.4,597.07 L363.9,596.45 L364.4,595.82 L364.9,595.18 L365.4,594.55 L365.9,593.91 L366.4,593.28 L366.9,592.64 L367.4,592 L367.9,591.35 L368.4,590.71 L368.9,590.06 L369.4,589.42 L369.9,588.77 L370.4,588.12 L370.9,587.47 L371.4,586.82 L371.9,586.17 L372.4,585.52 L372.9,584.87 L373.4,584.22 L373.9,583.57 L374.4,582.92 L374.9,582.27 L375.4,581.62 L375.9,580.97 L376.4,580.32 L376.9,579.67 L377.4,579.03 L377.9,578.38 L378.4,577.74 L378.9,577.09 L379.4,576.45 L379.9,575.81 L380.4,575.17 L380.9,574.54 L381.4,573.9 L381.9,573.27 L382.4,572.64 L382.9,572.02 L383.4,571.39 L383.9,570.77 L384.4,570.16 L384.9,569.54 L385.4,568.93 L385.9,568.33 L386.4,567.72 L386.9,567.12 L387.4,566.53 L387.9,565.93 L388.4,565.35 L388.9,564.76 L389.4,564.19 L389.9,563.61 L390.4,563.04 L390.9,562.48 L391.4,561.92 L391.9,561.37 L392.4,560.82 L392.9,560.28 L393.4,559.75M395.9,557.16 L396.4,556.66 L396.9,556.17 L397.4,555.69 L397.9,555.21 L398.4,554.74 L398.9,554.28 L399.4,553.82 L399.9,553.37 L400.4,552.93 L400.9,552.5 L401.4,552.08 L401.9,551.66 L402.4,551.25M405.9,548.64 L406.4,548.31 L406.9,547.98 L407.4,547.66 L407.9,547.35 L408.4,547.05 L408.9,546.76 L409.4,546.48 L409.9,546.21 L410.4,545.95 L410.9,545.69 L411.4,545.45 L411.9,545.22 L412.4,545 L412.9,544.79 L413.4,544.59 L413.9,544.4 L414.4,544.22 L414.9,544.05 L415.4,543.89 L415.9,543.75 L416.4,543.61 L416.9,543.48 L417.4,543.37 L417.9,543.26 L418.4,543.17 L418.9,543.08 L419.4,543.01 L419.9,542.95 L420.4,542.9 L420.9,542.86 L421.4,542.83 L421.9,542.81 L422.4,542.8 L422.9,542.8 L423.4,542.82 L423.9,542.84 L424.4,542.88 L424.9,542.93 L425.4,542.98 L425.9,543.05 L426.4,543.13 L426.9,543.22 L427.4,543.32 L427.9,543.43 L428.4,543.56 L428.9,543.69 L429.4,543.83 L429.9,543.99 L430.4,544.15 L430.9,544.33 L431.4,544.51 L431.9,544.71 L432.4,544.92 L432.9,545.13 L433.4,545.36 L433.9,545.6 L434.4,545.84 L434.9,546.1 L435.4,546.37 L435.9,546.64 L436.4,546.93 L436.9,547.23 L437.4,547.53 L437.9,547.85 L438.4,548.17 L438.9,548.51 L439.4,548.85 L439.9,549.2 L440.4,549.56 L440.9,549.93 L441.4,550.31 L441.9,550.7 L442.4,551.09 L442.9,551.5 L443.4,551.91 L443.9,552.33 L444.4,552.76 L444.9,553.2 L445.4,553.64 L445.9,554.09 L446.4,554.55 L446.9,555.02 L447.4,555.49 L447.9,555.98 L448.4,556.46 L448.9,556.96 L449.4,557.46 L449.9,557.97 L450.4,558.48 L450.9,559.01 L451.4,559.53 L451.9,560.07 L452.4,560.61 L452.9,561.15 L453.4,561.7 L453.9,562.26 L454.4,562.82 L454.9,563.39 L455.4,563.96 L455.9,564.53 L456.4,565.11 L456.9,565.7 L457.4,566.29 L457.9,566.88 L458.4,567.48 L458.9,568.08 L459.4,568.69 L459.9,569.3 L460.4,569.91 L460.9,570.53 L461.4,571.15 L461.9,571.77 L462.4,572.39 L462.9,573.02 L463.4,573.65 L463.9,574.28 L464.4,574.92 L464.9,575.56 L465.4,576.2 L465.9,576.84 L466.4,577.48 L466.9,578.12 L467.4,578.77 L467.9,579.41 L468.4,580.06 L468.9,580.71 L469.4,581.36 L469.9,582.01 L470.4,582.66 L470.9,583.31 L471.4,583.96 L471.9,584.61 L472.4,585.26 L472.9,585.91 L473.4,586.56 L473.9,587.21 L474.4,587.86 L474.9,588.51 L475.4,589.16 L475.9,589.81 L476.4,590.45 L476.9,591.1 L477.4,591.74 L477.9,592.38 L478.4,593.02 L478.9,593.66 L479.4,594.3 L479.9,594.93 L480.4,595.56 L480.9,596.19 L481.4,596.82 L481.9,597.45 L482.4,598.07 L482.9,598.69 L483.4,599.31 L483.9,599.93 L484.4,600.54 L484.9,601.15 L485.4,601.76 L485.9,602.37 L486.4,602.97 L486.9,603.56 L487.4,604.16 L487.9,604.75 L488.4,605.34 L488.9,605.92 L489.4,606.5 L489.9,607.08 L490.4,607.65 L490.9,608.22 L491.4,608.79 L491.9,609.35 L492.4,609.91 L492.9,610.46 L493.4,611.01 L493.9,611.56 L494.4,612.1 L494.9,612.64 L495.4,613.17 L495.9,613.7 L496.4,614.22 L496.9,614.74"/>
<circle cx="336.4" cy="625.56" r="1.95" fill="#0000ff"/>
<circle cx="496.9" cy="614.74" r="1.95" fill="#0000ff"/>
<g><polygon points="336.4,604.89 338.57,608.64 334.22,608.64" fill="#fff" stroke="#2828ff" stroke-width="0.85"/><polygon points="338.51,602.65 340.69,606.4 336.34,606.4" fill="#fff" stroke="#2828ff" stroke-width="0.85"/><polygon points="340.57,600.42 342.75,604.17 338.4,604.17" fill="#fff" stroke="#2828ff" stroke-width="0.85"/><polygon points="342.58,598.2 344.76,601.95 340.41,601.95" fill="#fff" stroke="#2828ff" stroke-width="0.85"/><polygon points="344.55,596 346.72,599.75 342.37,599.75" fill="#fff" stroke="#2828ff" stroke-width="0.85"/><polygon points="346.48,593.82 348.65,597.57 344.3,597.57" fill="#fff" stroke="#2828ff" stroke-width="0.85"/><polygon points="348.37,591.65 350.55,595.4 346.2,595.4" fill="#fff" stroke="#2828ff" stroke-width="0.85"/><polygon points="350.24,589.49 352.41,593.24 348.06,593.24" fill="#fff" stroke="#2828ff" stroke-width="0.85"/><polygon points="352.08,587.36 354.25,591.11 349.9,591.11" fill="#fff" stroke="#2828ff" stroke-width="0.85"/><polygon points="353.9,585.25 356.07,589 351.72,589" fill="#fff" stroke="#2828ff" stroke-width="0.85"/><polygon points="355.7,583.16 357.87,586.91 353.52,586.91" fill="#fff" stroke="#2828ff" stroke-width="0.85"/><polygon points="357.49,581.09 359.66,584.84 355.31,584.84" fill="#fff" stroke="#2828ff" stroke-width="0.85"/><polygon points="359.26,579.04 361.44,582.79 357.09,582.79" fill="#fff" stroke="#2828ff" stroke-width="0.85"/><polygon points="361.03,577.02 363.2,580.77 358.85,580.77" fill="#fff" stroke="#2828ff" stroke-width="0.85"/><polygon points="362.79,575.02 364.97,578.77 360.62,578.77" fill="#fff" stroke="#2828ff" stroke-width="0.85"/><polygon points="364.55,573.05 366.73,576.8 362.38,576.8" fill="#fff" stroke="#2828ff" stroke-width="0.85"/><polygon points="366.32,571.11 368.49,574.86 364.14,574.86" fill="#fff" stroke="#2828ff" stroke-width="0.85"/><polygon points="368.08,569.2 370.26,572.95 365.91,572.95" fill="#fff" stroke="#2828ff" stroke-width="0.85"/><polygon points="369.86,567.32 372.03,571.07 367.68,571.07" fill="#fff" stroke="#2828ff" stroke-width="0.85"/><polygon points="371.65,565.47 373.82,569.22 369.47,569.22" fill="#fff" stroke="#2828ff" stroke-width="0.85"/><polygon points="373.45,563.67 375.62,567.42 371.27,567.42" fill="#fff" stroke="#2828ff" stroke-width="0.85"/><polygon points="375.27,561.91 377.45,565.66 373.1,565.66" fill="#fff" stroke="#2828ff" stroke-width="0.85"/><polygon points="377.11,560.19 379.29,563.94 374.94,563.94" fill="#fff" stroke="#2828ff" stroke-width="0.85"/><polygon points="378.99,558.52 381.16,562.27 376.81,562.27" fill="#fff" stroke="#2828ff" stroke-width="0.85"/><polygon points="380.89,556.91 383.06,560.66 378.71,560.66" fill="#fff" stroke="#2828ff" stroke-width="0.85"/><polygon points="382.82,555.36 385,559.11 380.65,559.11" fill="#fff" stroke="#2828ff" stroke-width="0.85"/><polygon points="384.8,553.89 386.98,557.64 382.63,557.64" fill="#fff" stroke="#2828ff" stroke-width="0.85"/><polygon points="386.82,552.49 389,556.24 384.65,556.24" fill="#fff" stroke="#2828ff" stroke-width="0.85"/><polygon points="388.89,551.19 391.07,554.94 386.72,554.94" fill="#fff" stroke="#2828ff" stroke-width="0.85"/><polygon points="391.02,549.99 393.19,553.74 388.84,553.74" fill="#fff" stroke="#2828ff" stroke-width="0.85"/><polygon points="393.19,548.91 395.37,552.66 391.02,552.66" fill="#fff" stroke="#2828ff" stroke-width="0.85"/><polygon points="395.42,547.97 397.6,551.72 393.25,551.72" fill="#fff" stroke="#2828ff" stroke-width="0.85"/><polygon points="397.7,547.19 399.88,550.94 395.53,550.94" fill="#fff" stroke="#2828ff" stroke-width="0.85"/><polygon points="400.03,546.57 402.21,550.32 397.86,550.32" fill="#fff" stroke="#2828ff" stroke-width="0.85"/><polygon points="402.4,546.15 404.57,549.9 400.22,549.9" fill="#fff" stroke="#2828ff" stroke-width="0.85"/><polygon points="404.79,545.93 406.96,549.68 402.61,549.68" fill="#fff" stroke="#2828ff" stroke-width="0.85"/><polygon points="407.19,545.92 409.36,549.67 405.01,549.67" fill="#fff" stroke="#2828ff" stroke-width="0.85"/><polygon points="409.58,546.12 411.75,549.87 407.4,549.87" fill="#fff" stroke="#2828ff" stroke-width="0.85"/><polygon points="411.95,546.53 414.12,550.28 409.77,550.28" fill="#fff" stroke="#2828ff" stroke-width="0.85"/><polygon points="414.28,547.12 416.45,550.87 412.1,550.87" fill="#fff" stroke="#2828ff" stroke-width="0.85"/><polygon points="416.56,547.89 418.73,551.64 414.38,551.64" fill="#fff" stroke="#2828ff" stroke-width="0.85"/><polygon points="418.79,548.81 420.96,552.56 416.61,552.56" fill="#fff" stroke="#2828ff" stroke-width="0.85"/><polygon points="420.96,549.87 423.14,553.62 418.79,553.62" fill="#fff" stroke="#2828ff" stroke-width="0.85"/><polygon points="423.08,551.05 425.26,554.8 420.91,554.8" fill="#fff" stroke="#2828ff" stroke-width="0.85"/><polygon points="425.15,552.34 427.32,556.09 422.97,556.09" fill="#fff" stroke="#2828ff" stroke-width="0.85"/><polygon points="427.17,553.72 429.34,557.47 424.99,557.47" fill="#fff" stroke="#2828ff" stroke-width="0.85"/><polygon points="429.14,555.18 431.32,558.93 426.97,558.93" fill="#fff" stroke="#2828ff" stroke-width="0.85"/><polygon points="431.07,556.71 433.25,560.46 428.9,560.46" fill="#fff" stroke="#2828ff" stroke-width="0.85"/><polygon points="432.97,558.31 435.15,562.06 430.8,562.06" fill="#fff" stroke="#2828ff" stroke-width="0.85"/><polygon points="434.84,559.96 437.01,563.71 432.66,563.71" fill="#fff" stroke="#2828ff" stroke-width="0.85"/><polygon points="436.67,561.66 438.85,565.41 434.5,565.41" fill="#fff" stroke="#2828ff" stroke-width="0.85"/><polygon points="438.49,563.41 440.66,567.16 436.31,567.16" fill="#fff" stroke="#2828ff" stroke-width="0.85"/><polygon points="440.28,565.2 442.46,568.95 438.11,568.95" fill="#fff" stroke="#2828ff" stroke-width="0.85"/><polygon points="442.06,567.02 444.23,570.77 439.88,570.77" fill="#fff" stroke="#2828ff" stroke-width="0.85"/><polygon points="443.82,568.88 446,572.63 441.65,572.63" fill="#fff" stroke="#2828ff" stroke-width="0.85"/><polygon points="445.58,570.77 447.75,574.52 443.4,574.52" fill="#fff" stroke="#2828ff" stroke-width="0.85"/><polygon points="447.33,572.7 449.51,576.45 445.16,576.45" fill="#fff" stroke="#2828ff" stroke-width="0.85"/><polygon points="449.08,574.65 451.25,578.4 446.9,578.4" fill="#fff" stroke="#2828ff" stroke-width="0.85"/><polygon points="450.83,576.62 453,580.37 448.65,580.37" fill="#fff" stroke="#2828ff" stroke-width="0.85"/><polygon points="452.58,578.63 454.75,582.38 450.4,582.38" fill="#fff" stroke="#2828ff" stroke-width="0.85"/><polygon points="454.34,580.65 456.51,584.4 452.16,584.4" fill="#fff" stroke="#2828ff" stroke-width="0.85"/><polygon points="456.1,582.7 458.28,586.45 453.93,586.45" fill="#fff" stroke="#2828ff" stroke-width="0.85"/><polygon points="457.89,584.77 460.06,588.52 455.71,588.52" fill="#fff" stroke="#2828ff" stroke-width="0.85"/><polygon points="459.68,586.85 461.86,590.6 457.51,590.6" fill="#fff" stroke="#2828ff" stroke-width="0.85"/><polygon points="461.5,588.96 463.67,592.71 459.32,592.71" fill="#fff" stroke="#2828ff" stroke-width="0.85"/><polygon points="463.34,591.08 465.51,594.83 461.16,594.83" fill="#fff" stroke="#2828ff" stroke-width="0.85"/><polygon points="465.2,593.22 467.38,596.97 463.03,596.97" fill="#fff" stroke="#2828ff" stroke-width="0.85"/><polygon points="467.1,595.38 469.28,599.13 464.93,599.13" fill="#fff" stroke="#2828ff" stroke-width="0.85"/><polygon points="469.03,597.55 471.21,601.3 466.86,601.3" fill="#fff" stroke="#2828ff" stroke-width="0.85"/><polygon points="471,599.74 473.18,603.49 468.83,603.49" fill="#fff" stroke="#2828ff" stroke-width="0.85"/><polygon points="473.02,601.93 475.19,605.68 470.84,605.68" fill="#fff" stroke="#2828ff" stroke-width="0.85"/><polygon points="475.08,604.14 477.26,607.89 472.91,607.89" fill="#fff" stroke="#2828ff" stroke-width="0.85"/><polygon points="477.2,606.35 479.38,610.1 475.03,610.1" fill="#fff" stroke="#2828ff" stroke-width="0.85"/><polygon points="479.38,608.57 481.56,612.32 477.21,612.32" fill="#fff" stroke="#2828ff" stroke-width="0.85"/><polygon points="481.63,610.79 483.81,614.54 479.46,614.54" fill="#fff" stroke="#2828ff" stroke-width="0.85"/><polygon points="483.96,613.02 486.13,616.77 481.78,616.77" fill="#fff" stroke="#2828ff" stroke-width="0.85"/><polygon points="486.37,615.24 488.54,618.99 484.19,618.99" fill="#fff" stroke="#2828ff" stroke-width="0.85"/><polygon points="488.87,617.45 491.04,621.2 486.69,621.2" fill="#fff" stroke="#2828ff" stroke-width="0.85"/><polygon points="491.48,619.65 493.65,623.4 489.3,623.4" fill="#fff" stroke="#2828ff" stroke-width="0.85"/><polygon points="494.2,621.83 496.38,625.58 492.03,625.58" fill="#fff" stroke="#2828ff" stroke-width="0.85"/><polygon points="497.06,623.99 499.23,627.74 494.88,627.74" fill="#fff" stroke="#2828ff" stroke-width="0.85"/><polygon points="500.06,626.11 502.23,629.86 497.88,629.86" fill="#fff" stroke="#2828ff" stroke-width="0.85"/><polygon points="503.21,628.18 505.39,631.93 501.04,631.93" fill="#fff" stroke="#2828ff" stroke-width="0.85"/><polygon points="506.55,630.2 508.72,633.95 504.37,633.95" fill="#fff" stroke="#2828ff" stroke-width="0.85"/></g>
<path fill="none" stroke="#008000" stroke-width="3.8" stroke-linejoin="round" d="M336.4,588.91 L336.9,588.03 L337.4,587.15 L337.9,586.27 L338.4,585.38 L338.9,584.49 L339.4,583.59 L339.9,582.69 L340.4,581.79 L340.9,580.88 L341.4,579.98 L341.9,579.07 L342.4,578.16 L342.9,577.24 L343.4,576.33 L343.9,575.41 L344.4,574.49 L344.9,573.57 L345.4,572.66 L345.9,571.74 L346.4,570.82 L346.9,569.9 L347.4,568.98 L347.9,568.06 L348.4,567.15 L348.9,566.23 L349.4,565.32 L349.9,564.4 L350.4,563.49 L350.9,562.59 L351.4,561.68 L351.9,560.78 L352.4,559.88 L352.9,558.99 L353.4,558.1 L353.9,557.21 L354.4,556.33 L354.9,555.45 L355.4,554.58 L355.9,553.71 L356.4,552.85M358.9,548.64 L359.4,547.81 L359.9,547 L360.4,546.2 L360.9,545.4 L361.4,544.61 L361.9,543.83 L362.4,543.06 L362.9,542.3 L363.4,541.55 L363.9,540.81 L364.4,540.08 L364.9,539.36 L365.4,538.65 L365.9,537.95 L366.4,537.26 L366.9,536.59 L367.4,535.92 L367.9,535.27 L368.4,534.64 L368.9,534.01 L369.4,533.4 L369.9,532.8 L370.4,532.22 L370.9,531.64 L371.4,531.09 L371.9,530.54 L372.4,530.01 L372.9,529.5 L373.4,529 L373.9,528.52 L374.4,528.05 L374.9,527.59 L375.4,527.15 L375.9,526.73 L376.4,526.33 L376.9,525.94 L377.4,525.56 L377.9,525.2 L378.4,524.86 L378.9,524.54 L379.4,524.23 L379.9,523.94 L380.4,523.67 L380.9,523.41 L381.4,523.18 L381.9,522.96 L382.4,522.75 L382.9,522.57 L383.4,522.4 L383.9,522.25 L384.4,522.12 L384.9,522 L385.4,521.91 L385.9,521.83 L386.4,521.77 L386.9,521.73 L387.4,521.71 L387.9,521.7 L388.4,521.71 L388.9,521.74 L389.4,521.79 L389.9,521.86 L390.4,521.94 L390.9,522.05 L391.4,522.17 L391.9,522.31 L392.4,522.46 L392.9,522.64 L393.4,522.83 L393.9,523.04 L394.4,523.27 L394.9,523.51 L395.4,523.78 L395.9,524.06 L396.4,524.35 L396.9,524.67 L397.4,525 L397.9,525.35 L398.4,525.71 L398.9,526.09 L399.4,526.49 L399.9,526.9 L400.4,527.33 L400.9,527.77 L401.4,528.23 L401.9,528.71 L402.4,529.2 L402.9,529.7 L403.4,530.22 L403.9,530.76 L404.4,531.31 L404.9,531.87 L405.4,532.45 L405.9,533.04 L406.4,533.64 L406.9,534.26 L407.4,534.89 L407.9,535.53 L408.4,536.19 L408.9,536.86 L409.4,537.54 L409.9,538.23 L410.4,538.93 L410.9,539.64 L411.4,540.37 L411.9,541.1 L412.4,541.85 L412.9,542.6 L413.4,543.37 L413.9,544.14 L414.4,544.92 L414.9,545.72 L415.4,546.52 L415.9,547.32 L416.4,548.14 L416.9,548.97 L417.4,549.8 L417.9,550.64 L418.4,551.48 L418.9,552.33 L419.4,553.19 L419.9,554.06 L420.4,554.92 L420.9,555.8 L421.4,556.68 L421.9,557.56 L422.4,558.45 L422.9,559.34 L423.4,560.24 L423.9,561.14 L424.4,562.04 L424.9,562.95 L425.4,563.86 L425.9,564.77 L426.4,565.68 L426.9,566.6 L427.4,567.51 L427.9,568.43 L428.4,569.35 L428.9,570.27 L429.4,571.18 L429.9,572.1 L430.4,573.02 L430.9,573.94 L431.4,574.86 L431.9,575.78 L432.4,576.69 L432.9,577.61 L433.4,578.52 L433.9,579.43 L434.4,580.34 L434.9,581.25 L435.4,582.15 L435.9,583.05 L436.4,583.95 L436.9,584.84 L437.4,585.73 L437.9,586.62 L438.4,587.51 L438.9,588.39 L439.4,589.26 L439.9,590.13 L440.4,591 L440.9,591.86 L441.4,592.72 L441.9,593.57 L442.4,594.41 L442.9,595.26 L443.4,596.09 L443.9,596.92 L444.4,597.74 L444.9,598.56 L445.4,599.37 L445.9,600.18 L446.4,600.98 L446.9,601.77 L447.4,602.55 L447.9,603.33 L448.4,604.1 L448.9,604.87 L449.4,605.63 L449.9,606.38 L450.4,607.12 L450.9,607.85 L451.4,608.58 L451.9,609.3 L452.4,610.02 L452.9,610.72 L453.4,611.42 L453.9,612.11 L454.4,612.79 L454.9,613.47 L455.4,614.14 L455.9,614.79 L456.4,615.45 L456.9,616.09"/>
<circle cx="336.4" cy="588.91" r="1.9" fill="#008000"/>
<circle cx="456.9" cy="616.09" r="1.9" fill="#008000"/>
<g><polygon points="336.4,564.16 338.7,566.46 336.4,568.76 334.1,566.46" fill="#fff" stroke="#2f962f" stroke-width="0.85"/><polygon points="337.49,561.58 339.79,563.88 337.49,566.18 335.19,563.88" fill="#fff" stroke="#2f962f" stroke-width="0.85"/><polygon points="338.58,559.03 340.88,561.33 338.58,563.63 336.28,561.33" fill="#fff" stroke="#2f962f" stroke-width="0.85"/><polygon points="339.65,556.49 341.95,558.79 339.65,561.09 337.35,558.79" fill="#fff" stroke="#2f962f" stroke-width="0.85"/><polygon points="340.72,553.98 343.02,556.28 340.72,558.58 338.42,556.28" fill="#fff" stroke="#2f962f" stroke-width="0.85"/><polygon points="341.78,551.48 344.08,553.78 341.78,556.08 339.48,553.78" fill="#fff" stroke="#2f962f" stroke-width="0.85"/><polygon points="342.84,549.01 345.14,551.31 342.84,553.61 340.54,551.31" fill="#fff" stroke="#2f962f" stroke-width="0.85"/><polygon points="343.9,546.56 346.2,548.86 343.9,551.16 341.6,548.86" fill="#fff" stroke="#2f962f" stroke-width="0.85"/><polygon points="344.96,544.13 347.26,546.43 344.96,548.73 342.66,546.43" fill="#fff" stroke="#2f962f" stroke-width="0.85"/><polygon points="346.03,541.72 348.33,544.02 346.03,546.32 343.73,544.02" fill="#fff" stroke="#2f962f" stroke-width="0.85"/><polygon points="347.1,539.34 349.4,541.64 347.1,543.94 344.8,541.64" fill="#fff" stroke="#2f962f" stroke-width="0.85"/><polygon points="348.18,536.97 350.48,539.27 348.18,541.57 345.88,539.27" fill="#fff" stroke="#2f962f" stroke-width="0.85"/><polygon points="349.27,534.63 351.57,536.93 349.27,539.23 346.97,536.93" fill="#fff" stroke="#2f962f" stroke-width="0.85"/><polygon points="350.37,532.31 352.67,534.61 350.37,536.91 348.07,534.61" fill="#fff" stroke="#2f962f" stroke-width="0.85"/><polygon points="351.49,530.01 353.79,532.31 351.49,534.61 349.19,532.31" fill="#fff" stroke="#2f962f" stroke-width="0.85"/><polygon points="352.63,527.74 354.93,530.04 352.63,532.34 350.33,530.04" fill="#fff" stroke="#2f962f" stroke-width="0.85"/><polygon points="353.79,525.5 356.09,527.8 353.79,530.1 351.49,527.8" fill="#fff" stroke="#2f962f" stroke-width="0.85"/><polygon points="354.99,523.29 357.29,525.59 354.99,527.89 352.69,525.59" fill="#fff" stroke="#2f962f" stroke-width="0.85"/><polygon points="356.21,521.11 358.51,523.41 356.21,525.71 353.91,523.41" fill="#fff" stroke="#2f962f" stroke-width="0.85"/><polygon points="357.48,518.97 359.78,521.27 357.48,523.57 355.18,521.27" fill="#fff" stroke="#2f962f" stroke-width="0.85"/><polygon points="358.79,516.87 361.09,519.17 358.79,521.47 356.49,519.17" fill="#fff" stroke="#2f962f" stroke-width="0.85"/><polygon points="360.17,514.83 362.47,517.13 360.17,519.43 357.87,517.13" fill="#fff" stroke="#2f962f" stroke-width="0.85"/><polygon points="361.62,512.84 363.92,515.14 361.62,517.44 359.32,515.14" fill="#fff" stroke="#2f962f" stroke-width="0.85"/><polygon points="363.15,510.94 365.45,513.24 363.15,515.54 360.85,513.24" fill="#fff" stroke="#2f962f" stroke-width="0.85"/><polygon points="364.79,509.14 367.09,511.44 364.79,513.74 362.49,511.44" fill="#fff" stroke="#2f962f" stroke-width="0.85"/><polygon points="366.56,507.49 368.86,509.79 366.56,512.09 364.26,509.79" fill="#fff" stroke="#2f962f" stroke-width="0.85"/><polygon points="368.49,506.04 370.79,508.34 368.49,510.64 366.19,508.34" fill="#fff" stroke="#2f962f" stroke-width="0.85"/><polygon points="370.61,504.89 372.91,507.19 370.61,509.49 368.31,507.19" fill="#fff" stroke="#2f962f" stroke-width="0.85"/><polygon points="372.9,504.17 375.2,506.47 372.9,508.77 370.6,506.47" fill="#fff" stroke="#2f962f" stroke-width="0.85"/><polygon points="375.29,504.02 377.59,506.32 375.29,508.62 372.99,506.32" fill="#fff" stroke="#2f962f" stroke-width="0.85"/><polygon points="377.64,504.46 379.94,506.76 377.64,509.06 375.34,506.76" fill="#fff" stroke="#2f962f" stroke-width="0.85"/><polygon points="379.84,505.41 382.14,507.71 379.84,510.01 377.54,507.71" fill="#fff" stroke="#2f962f" stroke-width="0.85"/><polygon points="381.86,506.71 384.16,509.01 381.86,511.31 379.56,509.01" fill="#fff" stroke="#2f962f" stroke-width="0.85"/><polygon points="383.71,508.27 386.01,510.57 383.71,512.87 381.41,510.57" fill="#fff" stroke="#2f962f" stroke-width="0.85"/><polygon points="385.41,509.99 387.71,512.29 385.41,514.59 383.11,512.29" fill="#fff" stroke="#2f962f" stroke-width="0.85"/><polygon points="386.99,511.83 389.29,514.13 386.99,516.43 384.69,514.13" fill="#fff" stroke="#2f962f" stroke-width="0.85"/><polygon points="388.47,513.77 390.77,516.07 388.47,518.37 386.17,516.07" fill="#fff" stroke="#2f962f" stroke-width="0.85"/><polygon points="389.88,515.77 392.18,518.07 389.88,520.37 387.58,518.07" fill="#fff" stroke="#2f962f" stroke-width="0.85"/><polygon points="391.22,517.83 393.52,520.13 391.22,522.43 388.92,520.13" fill="#fff" stroke="#2f962f" stroke-width="0.85"/><polygon points="392.5,519.94 394.8,522.24 392.5,524.54 390.2,522.24" fill="#fff" stroke="#2f962f" stroke-width="0.85"/><polygon points="393.75,522.09 396.05,524.39 393.75,526.69 391.45,524.39" fill="#fff" stroke="#2f962f" stroke-width="0.85"/><polygon points="394.95,524.27 397.25,526.57 394.95,528.87 392.65,526.57" fill="#fff" stroke="#2f962f" stroke-width="0.85"/><polygon points="396.12,526.49 398.42,528.79 396.12,531.09 393.82,528.79" fill="#fff" stroke="#2f962f" stroke-width="0.85"/><polygon points="397.27,528.73 399.57,531.03 397.27,533.33 394.97,531.03" fill="#fff" stroke="#2f962f" stroke-width="0.85"/><polygon points="398.39,531 400.69,533.3 398.39,535.6 396.09,533.3" fill="#fff" stroke="#2f962f" stroke-width="0.85"/><polygon points="399.5,533.29 401.8,535.59 399.5,537.89 397.2,535.59" fill="#fff" stroke="#2f962f" stroke-width="0.85"/><polygon points="400.59,535.61 402.89,537.91 400.59,540.21 398.29,537.91" fill="#fff" stroke="#2f962f" stroke-width="0.85"/><polygon points="401.67,537.95 403.97,540.25 401.67,542.55 399.37,540.25" fill="#fff" stroke="#2f962f" stroke-width="0.85"/><polygon points="402.74,540.3 405.04,542.6 402.74,544.9 400.44,542.6" fill="#fff" stroke="#2f962f" stroke-width="0.85"/><polygon points="403.8,542.69 406.1,544.99 403.8,547.29 401.5,544.99" fill="#fff" stroke="#2f962f" stroke-width="0.85"/><polygon points="404.86,545.09 407.16,547.39 404.86,549.69 402.56,547.39" fill="#fff" stroke="#2f962f" stroke-width="0.85"/><polygon points="405.91,547.51 408.21,549.81 405.91,552.11 403.61,549.81" fill="#fff" stroke="#2f962f" stroke-width="0.85"/><polygon points="406.96,549.95 409.26,552.25 406.96,554.55 404.66,552.25" fill="#fff" stroke="#2f962f" stroke-width="0.85"/><polygon points="408.02,552.41 410.32,554.71 408.02,557.01 405.72,554.71" fill="#fff" stroke="#2f962f" stroke-width="0.85"/><polygon points="409.07,554.89 411.37,557.19 409.07,559.49 406.77,557.19" fill="#fff" stroke="#2f962f" stroke-width="0.85"/><polygon points="410.13,557.39 412.43,559.69 410.13,561.99 407.83,559.69" fill="#fff" stroke="#2f962f" stroke-width="0.85"/><polygon points="411.2,559.92 413.5,562.22 411.2,564.52 408.9,562.22" fill="#fff" stroke="#2f962f" stroke-width="0.85"/><polygon points="412.28,562.46 414.58,564.76 412.28,567.06 409.98,564.76" fill="#fff" stroke="#2f962f" stroke-width="0.85"/><polygon points="413.37,565.02 415.67,567.32 413.37,569.62 411.07,567.32" fill="#fff" stroke="#2f962f" stroke-width="0.85"/><polygon points="414.47,567.6 416.77,569.9 414.47,572.2 412.17,569.9" fill="#fff" stroke="#2f962f" stroke-width="0.85"/><polygon points="415.58,570.21 417.88,572.51 415.58,574.81 413.28,572.51" fill="#fff" stroke="#2f962f" stroke-width="0.85"/><polygon points="416.71,572.84 419.01,575.14 416.71,577.44 414.41,575.14" fill="#fff" stroke="#2f962f" stroke-width="0.85"/><polygon points="417.87,575.49 420.17,577.79 417.87,580.09 415.57,577.79" fill="#fff" stroke="#2f962f" stroke-width="0.85"/><polygon points="419.04,578.16 421.34,580.46 419.04,582.76 416.74,580.46" fill="#fff" stroke="#2f962f" stroke-width="0.85"/><polygon points="424.03,589.09 426.33,591.39 424.03,593.69 421.73,591.39" fill="#fff" stroke="#2f962f" stroke-width="0.85"/><polygon points="425.37,591.88 427.67,594.18 425.37,596.48 423.07,594.18" fill="#fff" stroke="#2f962f" stroke-width="0.85"/><polygon points="426.75,594.7 429.05,597 426.75,599.3 424.45,597" fill="#fff" stroke="#2f962f" stroke-width="0.85"/><polygon points="428.19,597.55 430.49,599.85 428.19,602.15 425.89,599.85" fill="#fff" stroke="#2f962f" stroke-width="0.85"/><polygon points="432.91,606.25 435.21,608.55 432.91,610.85 430.61,608.55" fill="#fff" stroke="#2f962f" stroke-width="0.85"/><polygon points="434.64,609.21 436.94,611.51 434.64,613.81 432.34,611.51" fill="#fff" stroke="#2f962f" stroke-width="0.85"/><polygon points="436.49,612.18 438.79,614.48 436.49,616.78 434.19,614.48" fill="#fff" stroke="#2f962f" stroke-width="0.85"/><polygon points="438.45,615.18 440.75,617.48 438.45,619.78 436.15,617.48" fill="#fff" stroke="#2f962f" stroke-width="0.85"/><polygon points="440.56,618.2 442.86,620.5 440.56,622.8 438.26,620.5" fill="#fff" stroke="#2f962f" stroke-width="0.85"/><polygon points="442.84,621.22 445.14,623.52 442.84,625.82 440.54,623.52" fill="#fff" stroke="#2f962f" stroke-width="0.85"/><polygon points="445.32,624.24 447.62,626.54 445.32,628.84 443.02,626.54" fill="#fff" stroke="#2f962f" stroke-width="0.85"/><polygon points="448.05,627.23 450.35,629.53 448.05,631.83 445.75,629.53" fill="#fff" stroke="#2f962f" stroke-width="0.85"/><polygon points="451.07,630.18 453.37,632.48 451.07,634.78 448.77,632.48" fill="#fff" stroke="#2f962f" stroke-width="0.85"/><polygon points="454.46,633.04 456.76,635.34 454.46,637.64 452.16,635.34" fill="#fff" stroke="#2f962f" stroke-width="0.85"/><polygon points="466.2,639.96 468.5,642.26 466.2,644.56 463.9,642.26" fill="#fff" stroke="#2f962f" stroke-width="0.85"/></g>
<circle cx="451.6" cy="494.5" r="2" fill="#ff0000"/>
<text x="463" y="497.4" font-size="8.0" font-family="Liberation Sans, sans-serif" font-weight="bold" fill="#111">May-WRF-solar</text>
<circle cx="451.6" cy="504.45" r="2" fill="#fff" stroke="#ff3c3c" stroke-width="0.75"/>
<text x="463" y="507.35" font-size="8.0" font-family="Liberation Sans, sans-serif" font-weight="bold" fill="#111">May-actual</text>
<polygon points="451.6,511.9 453.78,515.65 449.43,515.65" fill="#0000ff"/>
<text x="463" y="517.3" font-size="8.0" font-family="Liberation Sans, sans-serif" font-weight="bold" fill="#111">August-WRF-solar</text>
<polygon points="451.6,521.85 453.78,525.6 449.43,525.6" fill="#fff" stroke="#2828ff" stroke-width="0.75"/>
<text x="463" y="527.25" font-size="8.0" font-family="Liberation Sans, sans-serif" font-weight="bold" fill="#111">August-actual</text>
<polygon points="451.6,532 453.9,534.3 451.6,536.6 449.3,534.3" fill="#008000"/>
<text x="463" y="537.2" font-size="8.0" font-family="Liberation Sans, sans-serif" font-weight="bold" fill="#111">December-WRF-solar</text>
<polygon points="451.6,541.95 453.9,544.25 451.6,546.55 449.3,544.25" fill="#fff" stroke="#2f962f" stroke-width="0.75"/>
<text x="463" y="547.15" font-size="8.0" font-family="Liberation Sans, sans-serif" font-weight="bold" fill="#111">December-actual</text>
<rect x="320.5" y="489.5" width="224" height="156.6" fill="none" stroke="#111" stroke-width="1.2"/>
<text x="330.2" y="504.2" font-size="15.2" font-family="Liberation Sans, sans-serif" font-weight="bold" fill="#111">(h)</text>
<text transform="translate(309.8,570.4) rotate(-90)" font-size="11.3" text-anchor="middle" font-family="Liberation Sans, sans-serif" font-weight="bold" fill="#111">Frequency of occurrence</text>
<path fill="none" stroke="#ff0000" stroke-width="4.8" stroke-linejoin="round" d="M336.4,779.68 L336.9,779.36 L337.4,779.04 L337.9,778.72 L338.4,778.39 L338.9,778.06 L339.4,777.73 L339.9,777.39 L340.4,777.05 L340.9,776.7 L341.4,776.35 L341.9,776 L342.4,775.64 L342.9,775.28 L343.4,774.91 L343.9,774.54 L344.4,774.17 L344.9,773.79 L345.4,773.41 L345.9,773.02 L346.4,772.64 L346.9,772.24 L347.4,771.85 L347.9,771.45 L348.4,771.04 L348.9,770.64 L349.4,770.22 L349.9,769.81 L350.4,769.39 L350.9,768.97 L351.4,768.54 L351.9,768.11 L352.4,767.68 L352.9,767.24 L353.4,766.8 L353.9,766.36 L354.4,765.91 L354.9,765.46 L355.4,765.01 L355.9,764.55 L356.4,764.09 L356.9,763.63 L357.4,763.17 L357.9,762.7 L358.4,762.22 L358.9,761.75 L359.4,761.27 L359.9,760.79 L360.4,760.31 L360.9,759.82 L361.4,759.33 L361.9,758.84 L362.4,758.34 L362.9,757.85 L363.4,757.35 L363.9,756.85 L364.4,756.34 L364.9,755.84 L365.4,755.33 L365.9,754.82 L366.4,754.31 L366.9,753.79 L367.4,753.27 L367.9,752.76 L368.4,752.24 L368.9,751.72 L369.4,751.19 L369.9,750.67 L370.4,750.14 L370.9,749.62 L371.4,749.09 L371.9,748.56 L372.4,748.03 L372.9,747.5 L373.4,746.97 L373.9,746.44 L374.4,745.9 L374.9,745.37 L375.4,744.84 L375.9,744.3 L376.4,743.77 L376.9,743.23 L377.4,742.7 L377.9,742.16 L378.4,741.63 L378.9,741.1 L379.4,740.56 L379.9,740.03 L380.4,739.5 L380.9,738.97 L381.4,738.44 L381.9,737.91 L382.4,737.38 L382.9,736.85 L383.4,736.33 L383.9,735.8 L384.4,735.28 L384.9,734.76 L385.4,734.24 L385.9,733.73 L386.4,733.21 L386.9,732.7 L387.4,732.19 L387.9,731.68 L388.4,731.17 L388.9,730.67 L389.4,730.17 L389.9,729.67 L390.4,729.18 L390.9,728.69 L391.4,728.2 L391.9,727.72 L392.4,727.23 L392.9,726.76 L393.4,726.28 L393.9,725.81 L394.4,725.35 L394.9,724.89 L395.4,724.43 L395.9,723.97 L396.4,723.53 L396.9,723.08 L397.4,722.64 L397.9,722.21 L398.4,721.78 L398.9,721.35 L399.4,720.93 L399.9,720.52 L400.4,720.11 L400.9,719.7 L401.4,719.3 L401.9,718.91 L402.4,718.53 L402.9,718.14 L403.4,717.77 L403.9,717.4 L404.4,717.04 L404.9,716.68 L405.4,716.33 L405.9,715.99 L406.4,715.65 L406.9,715.32 L407.4,714.99 L407.9,714.68 L408.4,714.37 L408.9,714.06 L409.4,713.77 L409.9,713.48 L410.4,713.2 L410.9,712.92 L411.4,712.66 L411.9,712.4 L412.4,712.15 L412.9,711.9 L413.4,711.67 L413.9,711.44 L414.4,711.22 L414.9,711.01 L415.4,710.8 L415.9,710.6 L416.4,710.42 L416.9,710.24 L417.4,710.06 L417.9,709.9 L418.4,709.74 L418.9,709.6 L419.4,709.46 L419.9,709.33 L420.4,709.2 L420.9,709.09 L421.4,708.99 L421.9,708.89 L422.4,708.8 L422.9,708.72 L423.4,708.65 L423.9,708.59 L424.4,708.54 L424.9,708.49 L425.4,708.46 L425.9,708.43 L426.4,708.41 L426.9,708.4 L427.4,708.4 L427.9,708.41 L428.4,708.43 L428.9,708.45 L429.4,708.48 L429.9,708.53 L430.4,708.58 L430.9,708.64 L431.4,708.71 L431.9,708.79 L432.4,708.87 L432.9,708.97 L433.4,709.07 L433.9,709.18 L434.4,709.3 L434.9,709.43 L435.4,709.57 L435.9,709.71 L436.4,709.87 L436.9,710.03 L437.4,710.2 L437.9,710.38 L438.4,710.57 L438.9,710.76 L439.4,710.96 L439.9,711.17 L440.4,711.39 L440.9,711.62 L441.4,711.86 L441.9,712.1 L442.4,712.35 L442.9,712.61 L443.4,712.87 L443.9,713.14 L444.4,713.42 L444.9,713.71 L445.4,714.01 L445.9,714.31 L446.4,714.62 L446.9,714.93 L447.4,715.25 L447.9,715.58 L448.4,715.92 L448.9,716.26 L449.4,716.61 L449.9,716.97 L450.4,717.33 L450.9,717.69 L451.4,718.07 L451.9,718.45 L452.4,718.83 L452.9,719.23 L453.4,719.62 L453.9,720.03 L454.4,720.43 L454.9,720.85 L455.4,721.27 L455.9,721.69 L456.4,722.12 L456.9,722.55 L457.4,722.99 L457.9,723.44 L458.4,723.88 L458.9,724.34 L459.4,724.79 L459.9,725.25 L460.4,725.72 L460.9,726.19 L461.4,726.66 L461.9,727.14 L462.4,727.62 L462.9,728.1 L463.4,728.59 L463.9,729.08 L464.4,729.57 L464.9,730.07 L465.4,730.57 L465.9,731.07 L466.4,731.58 L466.9,732.09 L467.4,732.6 L467.9,733.11 L468.4,733.62 L468.9,734.14 L469.4,734.66 L469.9,735.18 L470.4,735.7 L470.9,736.22 L471.4,736.75 L471.9,737.28 L472.4,737.8 L472.9,738.33 L473.4,738.86 L473.9,739.39 L474.4,739.93 L474.9,740.46 L475.4,740.99 L475.9,741.52 L476.4,742.06 L476.9,742.59 L477.4,743.13 L477.9,743.66 L478.4,744.19 L478.9,744.73 L479.4,745.26 L479.9,745.8 L480.4,746.33 L480.9,746.86 L481.4,747.39 L481.9,747.92 L482.4,748.45 L482.9,748.98 L483.4,749.51 L483.9,750.04 L484.4,750.56 L484.9,751.09 L485.4,751.61 L485.9,752.13 L486.4,752.65 L486.9,753.17 L487.4,753.69 L487.9,754.2 L488.4,754.72 L488.9,755.23 L489.4,755.73 L489.9,756.24 L490.4,756.75 L490.9,757.25 L491.4,757.75 L491.9,758.25 L492.4,758.74 L492.9,759.23 L493.4,759.72 L493.9,760.21 L494.4,760.69 L494.9,761.17 L495.4,761.65 L495.9,762.13 L496.4,762.6 L496.9,763.07 L497.4,763.54 L497.9,764 L498.4,764.46 L498.9,764.92 L499.4,765.37 L499.9,765.82 L500.4,766.27 L500.9,766.72 L501.4,767.16 L501.9,767.59 L502.4,768.03 L502.9,768.46 L503.4,768.88"/>
<circle cx="336.4" cy="779.68" r="2.4" fill="#ff0000"/>
<circle cx="503.4" cy="768.88" r="2.4" fill="#ff0000"/>
<g><circle cx="336.4" cy="752.44" r="2" fill="#fff" stroke="#ff3c3c" stroke-width="0.85"/><circle cx="338.44" cy="750.4" r="2" fill="#fff" stroke="#ff3c3c" stroke-width="0.85"/><circle cx="340.45" cy="748.38" r="2" fill="#fff" stroke="#ff3c3c" stroke-width="0.85"/><circle cx="342.43" cy="746.37" r="2" fill="#fff" stroke="#ff3c3c" stroke-width="0.85"/><circle cx="344.38" cy="744.39" r="2" fill="#fff" stroke="#ff3c3c" stroke-width="0.85"/><circle cx="346.32" cy="742.42" r="2" fill="#fff" stroke="#ff3c3c" stroke-width="0.85"/><circle cx="348.24" cy="740.48" r="2" fill="#fff" stroke="#ff3c3c" stroke-width="0.85"/><circle cx="350.14" cy="738.57" r="2" fill="#fff" stroke="#ff3c3c" stroke-width="0.85"/><circle cx="352.04" cy="736.68" r="2" fill="#fff" stroke="#ff3c3c" stroke-width="0.85"/><circle cx="353.93" cy="734.81" r="2" fill="#fff" stroke="#ff3c3c" stroke-width="0.85"/><circle cx="355.82" cy="732.98" r="2" fill="#fff" stroke="#ff3c3c" stroke-width="0.85"/><circle cx="357.71" cy="731.19" r="2" fill="#fff" stroke="#ff3c3c" stroke-width="0.85"/><circle cx="359.61" cy="729.42" r="2" fill="#fff" stroke="#ff3c3c" stroke-width="0.85"/><circle cx="361.51" cy="727.7" r="2" fill="#fff" stroke="#ff3c3c" stroke-width="0.85"/><circle cx="363.43" cy="726.01" r="2" fill="#fff" stroke="#ff3c3c" stroke-width="0.85"/><circle cx="365.37" cy="724.38" r="2" fill="#fff" stroke="#ff3c3c" stroke-width="0.85"/><circle cx="367.32" cy="722.79" r="2" fill="#fff" stroke="#ff3c3c" stroke-width="0.85"/><circle cx="369.3" cy="721.26" r="2" fill="#fff" stroke="#ff3c3c" stroke-width="0.85"/><circle cx="371.31" cy="719.79" r="2" fill="#fff" stroke="#ff3c3c" stroke-width="0.85"/><circle cx="373.36" cy="718.39" r="2" fill="#fff" stroke="#ff3c3c" stroke-width="0.85"/><circle cx="375.43" cy="717.07" r="2" fill="#fff" stroke="#ff3c3c" stroke-width="0.85"/><circle cx="377.55" cy="715.83" r="2" fill="#fff" stroke="#ff3c3c" stroke-width="0.85"/><circle cx="379.71" cy="714.69" r="2" fill="#fff" stroke="#ff3c3c" stroke-width="0.85"/><circle cx="381.92" cy="713.67" r="2" fill="#fff" stroke="#ff3c3c" stroke-width="0.85"/><circle cx="384.17" cy="712.76" r="2" fill="#fff" stroke="#ff3c3c" stroke-width="0.85"/><circle cx="386.46" cy="712" r="2" fill="#fff" stroke="#ff3c3c" stroke-width="0.85"/><circle cx="388.79" cy="711.39" r="2" fill="#fff" stroke="#ff3c3c" stroke-width="0.85"/><circle cx="391.16" cy="710.95" r="2" fill="#fff" stroke="#ff3c3c" stroke-width="0.85"/><circle cx="393.55" cy="710.68" r="2" fill="#fff" stroke="#ff3c3c" stroke-width="0.85"/><circle cx="395.94" cy="710.6" r="2" fill="#fff" stroke="#ff3c3c" stroke-width="0.85"/><circle cx="398.34" cy="710.71" r="2" fill="#fff" stroke="#ff3c3c" stroke-width="0.85"/><circle cx="400.72" cy="710.99" r="2" fill="#fff" stroke="#ff3c3c" stroke-width="0.85"/><circle cx="403.08" cy="711.46" r="2" fill="#fff" stroke="#ff3c3c" stroke-width="0.85"/><circle cx="405.41" cy="712.08" r="2" fill="#fff" stroke="#ff3c3c" stroke-width="0.85"/><circle cx="407.69" cy="712.86" r="2" fill="#fff" stroke="#ff3c3c" stroke-width="0.85"/><circle cx="409.93" cy="713.77" r="2" fill="#fff" stroke="#ff3c3c" stroke-width="0.85"/><circle cx="412.12" cy="714.81" r="2" fill="#fff" stroke="#ff3c3c" stroke-width="0.85"/><circle cx="414.27" cy="715.95" r="2" fill="#fff" stroke="#ff3c3c" stroke-width="0.85"/><circle cx="416.37" cy="717.19" r="2" fill="#fff" stroke="#ff3c3c" stroke-width="0.85"/><circle cx="418.44" cy="718.52" r="2" fill="#fff" stroke="#ff3c3c" stroke-width="0.85"/><circle cx="420.47" cy="719.92" r="2" fill="#fff" stroke="#ff3c3c" stroke-width="0.85"/><circle cx="422.46" cy="721.38" r="2" fill="#fff" stroke="#ff3c3c" stroke-width="0.85"/><circle cx="424.43" cy="722.91" r="2" fill="#fff" stroke="#ff3c3c" stroke-width="0.85"/><circle cx="426.37" cy="724.49" r="2" fill="#fff" stroke="#ff3c3c" stroke-width="0.85"/><circle cx="428.3" cy="726.12" r="2" fill="#fff" stroke="#ff3c3c" stroke-width="0.85"/><circle cx="430.2" cy="727.8" r="2" fill="#fff" stroke="#ff3c3c" stroke-width="0.85"/><circle cx="432.09" cy="729.51" r="2" fill="#fff" stroke="#ff3c3c" stroke-width="0.85"/><circle cx="433.98" cy="731.26" r="2" fill="#fff" stroke="#ff3c3c" stroke-width="0.85"/><circle cx="435.85" cy="733.05" r="2" fill="#fff" stroke="#ff3c3c" stroke-width="0.85"/><circle cx="437.73" cy="734.87" r="2" fill="#fff" stroke="#ff3c3c" stroke-width="0.85"/><circle cx="439.6" cy="736.71" r="2" fill="#fff" stroke="#ff3c3c" stroke-width="0.85"/><circle cx="441.48" cy="738.59" r="2" fill="#fff" stroke="#ff3c3c" stroke-width="0.85"/><circle cx="443.37" cy="740.49" r="2" fill="#fff" stroke="#ff3c3c" stroke-width="0.85"/><circle cx="445.27" cy="742.41" r="2" fill="#fff" stroke="#ff3c3c" stroke-width="0.85"/><circle cx="447.18" cy="744.35" r="2" fill="#fff" stroke="#ff3c3c" stroke-width="0.85"/><circle cx="449.12" cy="746.32" r="2" fill="#fff" stroke="#ff3c3c" stroke-width="0.85"/><circle cx="451.07" cy="748.3" r="2" fill="#fff" stroke="#ff3c3c" stroke-width="0.85"/><circle cx="453.06" cy="750.3" r="2" fill="#fff" stroke="#ff3c3c" stroke-width="0.85"/><circle cx="455.07" cy="752.31" r="2" fill="#fff" stroke="#ff3c3c" stroke-width="0.85"/><circle cx="457.12" cy="754.34" r="2" fill="#fff" stroke="#ff3c3c" stroke-width="0.85"/><circle cx="459.21" cy="756.38" r="2" fill="#fff" stroke="#ff3c3c" stroke-width="0.85"/><circle cx="461.35" cy="758.43" r="2" fill="#fff" stroke="#ff3c3c" stroke-width="0.85"/><circle cx="463.54" cy="760.49" r="2" fill="#fff" stroke="#ff3c3c" stroke-width="0.85"/><circle cx="465.79" cy="762.56" r="2" fill="#fff" stroke="#ff3c3c" stroke-width="0.85"/><circle cx="468.1" cy="764.63" r="2" fill="#fff" stroke="#ff3c3c" stroke-width="0.85"/><circle cx="470.48" cy="766.69" r="2" fill="#fff" stroke="#ff3c3c" stroke-width="0.85"/><circle cx="472.95" cy="768.76" r="2" fill="#fff" stroke="#ff3c3c" stroke-width="0.85"/><circle cx="475.5" cy="770.81" r="2" fill="#fff" stroke="#ff3c3c" stroke-width="0.85"/><circle cx="478.16" cy="772.85" r="2" fill="#fff" stroke="#ff3c3c" stroke-width="0.85"/><circle cx="480.92" cy="774.87" r="2" fill="#fff" stroke="#ff3c3c" stroke-width="0.85"/><circle cx="483.81" cy="776.86" r="2" fill="#fff" stroke="#ff3c3c" stroke-width="0.85"/><circle cx="486.83" cy="778.82" r="2" fill="#fff" stroke="#ff3c3c" stroke-width="0.85"/><circle cx="490" cy="780.73" r="2" fill="#fff" stroke="#ff3c3c" stroke-width="0.85"/><circle cx="493.34" cy="782.59" r="2" fill="#fff" stroke="#ff3c3c" stroke-width="0.85"/><circle cx="496.86" cy="784.38" r="2" fill="#fff" stroke="#ff3c3c" stroke-width="0.85"/><circle cx="500.58" cy="786.09" r="2" fill="#fff" stroke="#ff3c3c" stroke-width="0.85"/><circle cx="504.53" cy="787.71" r="2" fill="#fff" stroke="#ff3c3c" stroke-width="0.85"/><circle cx="508.72" cy="789.23" r="2" fill="#fff" stroke="#ff3c3c" stroke-width="0.85"/><circle cx="513.11" cy="790.6" r="2" fill="#fff" stroke="#ff3c3c" stroke-width="0.85"/><circle cx="531.5" cy="794.44" r="2" fill="#fff" stroke="#ff3c3c" stroke-width="0.85"/></g>
<path fill="none" stroke="#0000ff" stroke-width="4.9" stroke-linejoin="round" d="M336.4,788.66 L336.9,788.44 L337.4,788.21 L337.9,787.98 L338.4,787.75 L338.9,787.51 L339.4,787.27 L339.9,787.02 L340.4,786.77 L340.9,786.51 L341.4,786.24 L341.9,785.98 L342.4,785.7 L342.9,785.43 L343.4,785.14 L343.9,784.86 L344.4,784.56 L344.9,784.26 L345.4,783.96 L345.9,783.65 L346.4,783.34 L346.9,783.02 L347.4,782.69 L347.9,782.36 L348.4,782.02 L348.9,781.68 L349.4,781.33 L349.9,780.98 L350.4,780.62 L350.9,780.26 L351.4,779.89 L351.9,779.51 L352.4,779.13 L352.9,778.74 L353.4,778.35 L353.9,777.95 L354.4,777.54 L354.9,777.13 L355.4,776.71 L355.9,776.29 L356.4,775.86 L356.9,775.42 L357.4,774.98 L357.9,774.54 L358.4,774.08 L358.9,773.62 L359.4,773.16 L359.9,772.69 L360.4,772.21 L360.9,771.73 L361.4,771.24 L361.9,770.75 L362.4,770.25 L362.9,769.74 L363.4,769.23 L363.9,768.71 L364.4,768.19 L364.9,767.66 L365.4,767.12 L365.9,766.58 L366.4,766.03 L366.9,765.48 L367.4,764.92 L367.9,764.36 L368.4,763.79 L368.9,763.22 L369.4,762.64 L369.9,762.06 L370.4,761.47 L370.9,760.87 L371.4,760.27 L371.9,759.67 L372.4,759.06 L372.9,758.44 L373.4,757.82 L373.9,757.2 L374.4,756.57 L374.9,755.94 L375.4,755.3 L375.9,754.66 L376.4,754.02 L376.9,753.37 L377.4,752.71 L377.9,752.06 L378.4,751.39 L378.9,750.73 L379.4,750.06 L379.9,749.39 L380.4,748.72 L380.9,748.04 L381.4,747.36 L381.9,746.68 L382.4,745.99 L382.9,745.3 L383.4,744.61 L383.9,743.92 L384.4,743.22 L384.9,742.53 L385.4,741.83 L385.9,741.13 L386.4,740.43 L386.9,739.73 L387.4,739.02 L387.9,738.32 L388.4,737.61 L388.9,736.91 L389.4,736.2 L389.9,735.5 L390.4,734.79 L390.9,734.08 L391.4,733.38 L391.9,732.67 L392.4,731.97 L392.9,731.27 L393.4,730.57 L393.9,729.87 L394.4,729.17 L394.9,728.47 L395.4,727.77 L395.9,727.08 L396.4,726.39 L396.9,725.7 L397.4,725.02 L397.9,724.34 L398.4,723.66 L398.9,722.98 L399.4,722.31 L399.9,721.64 L400.4,720.98 L400.9,720.32 L401.4,719.67 L401.9,719.02 L402.4,718.37 L402.9,717.73 L403.4,717.1 L403.9,716.47 L404.4,715.84 L404.9,715.22 L405.4,714.61 L405.9,714.01 L406.4,713.41 L406.9,712.82 L407.4,712.23 L407.9,711.66 L408.4,711.09 L408.9,710.52 L409.4,709.97 L409.9,709.42 L410.4,708.88 L410.9,708.35 L411.4,707.83 L411.9,707.32 L412.4,706.82 L412.9,706.32 L413.4,705.84 L413.9,705.36 L414.4,704.89 L414.9,704.44 L415.4,703.99 L415.9,703.56 L416.4,703.13 L416.9,702.71 L417.4,702.31 L417.9,701.92 L418.4,701.53 L418.9,701.16 L419.4,700.8 L419.9,700.45 L420.4,700.11 L420.9,699.79 L421.4,699.47 L421.9,699.17 L422.4,698.88 L422.9,698.6 L423.4,698.33 L423.9,698.08 L424.4,697.84 L424.9,697.61 L425.4,697.39 L425.9,697.19 L426.4,697 L426.9,696.82 L427.4,696.66 L427.9,696.5 L428.4,696.37 L428.9,696.24 L429.4,696.13 L429.9,696.03 L430.4,695.94 L430.9,695.87 L431.4,695.81 L431.9,695.76 L432.4,695.73 L432.9,695.71 L433.4,695.7 L433.9,695.71 L434.4,695.73 L434.9,695.76 L435.4,695.81 L435.9,695.87 L436.4,695.94 L436.9,696.03 L437.4,696.13 L437.9,696.24 L438.4,696.37 L438.9,696.5 L439.4,696.66 L439.9,696.82 L440.4,697 L440.9,697.19 L441.4,697.39 L441.9,697.61 L442.4,697.84 L442.9,698.08 L443.4,698.33 L443.9,698.6 L444.4,698.88 L444.9,699.17 L445.4,699.47 L445.9,699.79 L446.4,700.11 L446.9,700.45 L447.4,700.8 L447.9,701.16 L448.4,701.53 L448.9,701.92 L449.4,702.31 L449.9,702.71 L450.4,703.13 L450.9,703.56 L451.4,703.99 L451.9,704.44 L452.4,704.89 L452.9,705.36 L453.4,705.84 L453.9,706.32 L454.4,706.82 L454.9,707.32 L455.4,707.83 L455.9,708.35 L456.4,708.88 L456.9,709.42 L457.4,709.97 L457.9,710.52 L458.4,711.09 L458.9,711.66 L459.4,712.23 L459.9,712.82 L460.4,713.41 L460.9,714.01 L461.4,714.61 L461.9,715.22 L462.4,715.84 L462.9,716.47 L463.4,717.1 L463.9,717.73 L464.4,718.37 L464.9,719.02 L465.4,719.67 L465.9,720.32 L466.4,720.98 L466.9,721.64 L467.4,722.31 L467.9,722.98 L468.4,723.66 L468.9,724.34 L469.4,725.02 L469.9,725.7 L470.4,726.39 L470.9,727.08 L471.4,727.77 L471.9,728.47 L472.4,729.17 L472.9,729.87 L473.4,730.57 L473.9,731.27 L474.4,731.97 L474.9,732.67 L475.4,733.38 L475.9,734.08 L476.4,734.79 L476.9,735.5 L477.4,736.2 L477.9,736.91 L478.4,737.61 L478.9,738.32 L479.4,739.02 L479.9,739.73 L480.4,740.43 L480.9,741.13 L481.4,741.83 L481.9,742.53 L482.4,743.22 L482.9,743.92 L483.4,744.61 L483.9,745.3 L484.4,745.99 L484.9,746.68 L485.4,747.36 L485.9,748.04 L486.4,748.72 L486.9,749.39 L487.4,750.06 L487.9,750.73 L488.4,751.39 L488.9,752.06 L489.4,752.71 L489.9,753.37 L490.4,754.02 L490.9,754.66 L491.4,755.3 L491.9,755.94 L492.4,756.57 L492.9,757.2 L493.4,757.82 L493.9,758.44 L494.4,759.06 L494.9,759.67 L495.4,760.27 L495.9,760.87 L496.4,761.47 L496.9,762.06 L497.4,762.64 L497.9,763.22 L498.4,763.79 L498.9,764.36 L499.4,764.92"/>
<circle cx="336.4" cy="788.66" r="2.45" fill="#0000ff"/>
<circle cx="499.4" cy="764.92" r="2.45" fill="#0000ff"/>
<g><polygon points="336.4,762.95 338.57,766.7 334.22,766.7" fill="#fff" stroke="#2828ff" stroke-width="0.85"/><polygon points="338.85,761.02 341.03,764.77 336.68,764.77" fill="#fff" stroke="#2828ff" stroke-width="0.85"/><polygon points="341.24,759.09 343.42,762.84 339.07,762.84" fill="#fff" stroke="#2828ff" stroke-width="0.85"/><polygon points="343.57,757.17 345.75,760.92 341.4,760.92" fill="#fff" stroke="#2828ff" stroke-width="0.85"/><polygon points="345.86,755.25 348.03,759 343.68,759" fill="#fff" stroke="#2828ff" stroke-width="0.85"/><polygon points="348.09,753.34 350.27,757.09 345.92,757.09" fill="#fff" stroke="#2828ff" stroke-width="0.85"/><polygon points="350.29,751.45 352.46,755.2 348.11,755.2" fill="#fff" stroke="#2828ff" stroke-width="0.85"/><polygon points="352.45,749.57 354.62,753.32 350.27,753.32" fill="#fff" stroke="#2828ff" stroke-width="0.85"/><polygon points="354.57,747.7 356.75,751.45 352.4,751.45" fill="#fff" stroke="#2828ff" stroke-width="0.85"/><polygon points="356.67,745.85 358.85,749.6 354.5,749.6" fill="#fff" stroke="#2828ff" stroke-width="0.85"/><polygon points="358.75,744.02 360.93,747.77 356.58,747.77" fill="#fff" stroke="#2828ff" stroke-width="0.85"/><polygon points="360.81,742.21 362.99,745.96 358.64,745.96" fill="#fff" stroke="#2828ff" stroke-width="0.85"/><polygon points="362.85,740.43 365.03,744.18 360.68,744.18" fill="#fff" stroke="#2828ff" stroke-width="0.85"/><polygon points="364.88,738.67 367.06,742.42 362.71,742.42" fill="#fff" stroke="#2828ff" stroke-width="0.85"/><polygon points="366.9,736.93 369.08,740.68 364.73,740.68" fill="#fff" stroke="#2828ff" stroke-width="0.85"/><polygon points="368.92,735.23 371.09,738.98 366.74,738.98" fill="#fff" stroke="#2828ff" stroke-width="0.85"/><polygon points="370.93,733.55 373.11,737.3 368.76,737.3" fill="#fff" stroke="#2828ff" stroke-width="0.85"/><polygon points="372.95,731.91 375.12,735.66 370.77,735.66" fill="#fff" stroke="#2828ff" stroke-width="0.85"/><polygon points="374.97,730.3 377.14,734.05 372.79,734.05" fill="#fff" stroke="#2828ff" stroke-width="0.85"/><polygon points="376.99,728.73 379.17,732.48 374.82,732.48" fill="#fff" stroke="#2828ff" stroke-width="0.85"/><polygon points="379.03,727.21 381.2,730.96 376.85,730.96" fill="#fff" stroke="#2828ff" stroke-width="0.85"/><polygon points="381.08,725.73 383.26,729.48 378.91,729.48" fill="#fff" stroke="#2828ff" stroke-width="0.85"/><polygon points="383.15,724.3 385.32,728.05 380.97,728.05" fill="#fff" stroke="#2828ff" stroke-width="0.85"/><polygon points="385.24,722.93 387.41,726.68 383.06,726.68" fill="#fff" stroke="#2828ff" stroke-width="0.85"/><polygon points="387.35,721.62 389.52,725.37 385.17,725.37" fill="#fff" stroke="#2828ff" stroke-width="0.85"/><polygon points="389.48,720.37 391.66,724.12 387.31,724.12" fill="#fff" stroke="#2828ff" stroke-width="0.85"/><polygon points="391.65,719.2 393.82,722.95 389.47,722.95" fill="#fff" stroke="#2828ff" stroke-width="0.85"/><polygon points="393.84,718.11 396.02,721.86 391.67,721.86" fill="#fff" stroke="#2828ff" stroke-width="0.85"/><polygon points="396.07,717.12 398.25,720.87 393.9,720.87" fill="#fff" stroke="#2828ff" stroke-width="0.85"/><polygon points="398.33,716.22 400.5,719.97 396.15,719.97" fill="#fff" stroke="#2828ff" stroke-width="0.85"/><polygon points="400.62,715.43 402.8,719.18 398.45,719.18" fill="#fff" stroke="#2828ff" stroke-width="0.85"/><polygon points="402.94,714.75 405.12,718.5 400.77,718.5" fill="#fff" stroke="#2828ff" stroke-width="0.85"/><polygon points="405.29,714.21 407.46,717.96 403.11,717.96" fill="#fff" stroke="#2828ff" stroke-width="0.85"/><polygon points="407.66,713.8 409.84,717.55 405.49,717.55" fill="#fff" stroke="#2828ff" stroke-width="0.85"/><polygon points="410.05,713.53 412.22,717.28 407.87,717.28" fill="#fff" stroke="#2828ff" stroke-width="0.85"/><polygon points="412.45,713.41 414.62,717.16 410.27,717.16" fill="#fff" stroke="#2828ff" stroke-width="0.85"/><polygon points="414.85,713.44 417.02,717.19 412.67,717.19" fill="#fff" stroke="#2828ff" stroke-width="0.85"/><polygon points="417.24,713.61 419.41,717.36 415.06,717.36" fill="#fff" stroke="#2828ff" stroke-width="0.85"/><polygon points="419.62,713.93 421.79,717.68 417.44,717.68" fill="#fff" stroke="#2828ff" stroke-width="0.85"/><polygon points="421.98,714.39 424.15,718.14 419.8,718.14" fill="#fff" stroke="#2828ff" stroke-width="0.85"/><polygon points="424.31,714.99 426.49,718.74 422.14,718.74" fill="#fff" stroke="#2828ff" stroke-width="0.85"/><polygon points="426.62,715.7 428.79,719.45 424.44,719.45" fill="#fff" stroke="#2828ff" stroke-width="0.85"/><polygon points="428.89,716.53 431.06,720.28 426.71,720.28" fill="#fff" stroke="#2828ff" stroke-width="0.85"/><polygon points="431.13,717.46 433.3,721.21 428.95,721.21" fill="#fff" stroke="#2828ff" stroke-width="0.85"/><polygon points="433.34,718.49 435.51,722.24 431.16,722.24" fill="#fff" stroke="#2828ff" stroke-width="0.85"/><polygon points="435.51,719.6 437.69,723.35 433.34,723.35" fill="#fff" stroke="#2828ff" stroke-width="0.85"/><polygon points="437.66,720.8 439.83,724.55 435.48,724.55" fill="#fff" stroke="#2828ff" stroke-width="0.85"/><polygon points="439.77,722.06 441.95,725.81 437.6,725.81" fill="#fff" stroke="#2828ff" stroke-width="0.85"/><polygon points="441.87,723.38 444.04,727.13 439.69,727.13" fill="#fff" stroke="#2828ff" stroke-width="0.85"/><polygon points="443.94,724.77 446.11,728.52 441.76,728.52" fill="#fff" stroke="#2828ff" stroke-width="0.85"/><polygon points="445.99,726.2 448.16,729.95 443.81,729.95" fill="#fff" stroke="#2828ff" stroke-width="0.85"/><polygon points="448.02,727.69 450.19,731.44 445.84,731.44" fill="#fff" stroke="#2828ff" stroke-width="0.85"/><polygon points="450.04,729.22 452.21,732.97 447.86,732.97" fill="#fff" stroke="#2828ff" stroke-width="0.85"/><polygon points="452.05,730.79 454.22,734.54 449.87,734.54" fill="#fff" stroke="#2828ff" stroke-width="0.85"/><polygon points="454.05,732.39 456.23,736.14 451.88,736.14" fill="#fff" stroke="#2828ff" stroke-width="0.85"/><polygon points="456.05,734.03 458.23,737.78 453.88,737.78" fill="#fff" stroke="#2828ff" stroke-width="0.85"/><polygon points="458.05,735.71 460.22,739.46 455.87,739.46" fill="#fff" stroke="#2828ff" stroke-width="0.85"/><polygon points="460.05,737.41 462.22,741.16 457.87,741.16" fill="#fff" stroke="#2828ff" stroke-width="0.85"/><polygon points="462.06,739.13 464.23,742.88 459.88,742.88" fill="#fff" stroke="#2828ff" stroke-width="0.85"/><polygon points="464.07,740.88 466.24,744.63 461.89,744.63" fill="#fff" stroke="#2828ff" stroke-width="0.85"/><polygon points="466.1,742.66 468.27,746.41 463.92,746.41" fill="#fff" stroke="#2828ff" stroke-width="0.85"/><polygon points="468.14,744.45 470.31,748.2 465.96,748.2" fill="#fff" stroke="#2828ff" stroke-width="0.85"/><polygon points="470.2,746.27 472.37,750.02 468.02,750.02" fill="#fff" stroke="#2828ff" stroke-width="0.85"/><polygon points="472.28,748.1 474.46,751.85 470.11,751.85" fill="#fff" stroke="#2828ff" stroke-width="0.85"/><polygon points="474.39,749.95 476.57,753.7 472.22,753.7" fill="#fff" stroke="#2828ff" stroke-width="0.85"/><polygon points="476.53,751.81 478.71,755.56 474.36,755.56" fill="#fff" stroke="#2828ff" stroke-width="0.85"/><polygon points="478.71,753.69 480.88,757.44 476.53,757.44" fill="#fff" stroke="#2828ff" stroke-width="0.85"/><polygon points="480.92,755.57 483.1,759.32 478.75,759.32" fill="#fff" stroke="#2828ff" stroke-width="0.85"/><polygon points="483.18,757.46 485.35,761.21 481,761.21" fill="#fff" stroke="#2828ff" stroke-width="0.85"/><polygon points="485.49,759.36 487.66,763.11 483.31,763.11" fill="#fff" stroke="#2828ff" stroke-width="0.85"/><polygon points="487.85,761.26 490.02,765.01 485.67,765.01" fill="#fff" stroke="#2828ff" stroke-width="0.85"/><polygon points="490.27,763.16 492.44,766.91 488.09,766.91" fill="#fff" stroke="#2828ff" stroke-width="0.85"/><polygon points="492.75,765.06 494.93,768.81 490.58,768.81" fill="#fff" stroke="#2828ff" stroke-width="0.85"/><polygon points="495.31,766.95 497.49,770.7 493.14,770.7" fill="#fff" stroke="#2828ff" stroke-width="0.85"/><polygon points="497.95,768.83 500.13,772.58 495.78,772.58" fill="#fff" stroke="#2828ff" stroke-width="0.85"/><polygon points="500.68,770.7 502.86,774.45 498.51,774.45" fill="#fff" stroke="#2828ff" stroke-width="0.85"/><polygon points="503.51,772.55 505.68,776.3 501.33,776.3" fill="#fff" stroke="#2828ff" stroke-width="0.85"/><polygon points="506.44,774.37 508.62,778.12 504.27,778.12" fill="#fff" stroke="#2828ff" stroke-width="0.85"/><polygon points="509.49,776.16 511.67,779.91 507.32,779.91" fill="#fff" stroke="#2828ff" stroke-width="0.85"/><polygon points="512.67,777.92 514.85,781.67 510.5,781.67" fill="#fff" stroke="#2828ff" stroke-width="0.85"/><polygon points="516,779.62 518.17,783.37 513.82,783.37" fill="#fff" stroke="#2828ff" stroke-width="0.85"/><polygon points="519.47,781.27 521.65,785.02 517.3,785.02" fill="#fff" stroke="#2828ff" stroke-width="0.85"/><polygon points="527.4,784.54 529.57,788.29 525.23,788.29" fill="#fff" stroke="#2828ff" stroke-width="0.85"/></g>
<path fill="none" stroke="#008000" stroke-width="5.0" stroke-linejoin="round" d="M336.4,716.64 L336.9,715.36 L337.4,714.08 L337.9,712.8 L338.4,711.52 L338.9,710.25 L339.4,708.97 L339.9,707.7 L340.4,706.43 L340.9,705.17 L341.4,703.91 L341.9,702.66 L342.4,701.41 L342.9,700.17 L343.4,698.94 L343.9,697.71 L344.4,696.5 L344.9,695.29 L345.4,694.09 L345.9,692.91 L346.4,691.73 L346.9,690.57 L347.4,689.42 L347.9,688.29 L348.4,687.17 L348.9,686.06 L349.4,684.98 L349.9,683.9 L350.4,682.85 L350.9,681.81 L351.4,680.79 L351.9,679.79 L352.4,678.81 L352.9,677.85 L353.4,676.91 L353.9,675.99 L354.4,675.1 L354.9,674.23 L355.4,673.38 L355.9,672.55 L356.4,671.75 L356.9,670.98 L357.4,670.23 L357.9,669.51 L358.4,668.81 L358.9,668.14 L359.4,667.5 L359.9,666.88 L360.4,666.3 L360.9,665.74 L361.4,665.22 L361.9,664.72 L362.4,664.25 L362.9,663.81 L363.4,663.41 L363.9,663.03 L364.4,662.69 L364.9,662.37 L365.4,662.09 L365.9,661.84 L366.4,661.63 L366.9,661.44 L367.4,661.29 L367.9,661.17 L368.4,661.08 L368.9,661.02 L369.4,661 L369.9,661.01 L370.4,661.05 L370.9,661.13 L371.4,661.24 L371.9,661.38 L372.4,661.55 L372.9,661.75 L373.4,661.99 L373.9,662.26 L374.4,662.56 L374.9,662.89 L375.4,663.25 L375.9,663.65 L376.4,664.07 L376.9,664.53 L377.4,665.01 L377.9,665.53 L378.4,666.07 L378.9,666.65 L379.4,667.25 L379.9,667.88 L380.4,668.54 L380.9,669.22 L381.4,669.94 L381.9,670.68 L382.4,671.44 L382.9,672.23 L383.4,673.05 L383.9,673.88 L384.4,674.75 L384.9,675.63 L385.4,676.54 L385.9,677.47 L386.4,678.42 L386.9,679.4 L387.4,680.39 L387.9,681.4 L388.4,682.43 L388.9,683.48 L389.4,684.54 L389.9,685.63 L390.4,686.73 L390.9,687.84 L391.4,688.97 L391.9,690.11 L392.4,691.27 L392.9,692.44 L393.4,693.62 L393.9,694.81 L394.4,696.01 L394.9,697.22 L395.4,698.45 L395.9,699.68 L396.4,700.91 L396.9,702.16 L397.4,703.41 L397.9,704.67 L398.4,705.93 L398.9,707.19 L399.4,708.46 L399.9,709.74 L400.4,711.01 L400.9,712.29 L401.4,713.57 L401.9,714.85 L402.4,716.12 L402.9,717.4 L403.4,718.68 L403.9,719.95 L404.4,721.23 L404.9,722.5 L405.4,723.76 L405.9,725.02 L406.4,726.28 L406.9,727.53 L407.4,728.78 L407.9,730.02 L408.4,731.25 L408.9,732.47 L409.4,733.69 L409.9,734.9 L410.4,736.11 L410.9,737.3 L411.4,738.48 L411.9,739.66 L412.4,740.82 L412.9,741.97 L413.4,743.12 L413.9,744.25 L414.4,745.37 L414.9,746.48 L415.4,747.58 L415.9,748.66 L416.4,749.74 L416.9,750.8 L417.4,751.84 L417.9,752.88 L418.4,753.9 L418.9,754.91 L419.4,755.9 L419.9,756.88 L420.4,757.85 L420.9,758.8 L421.4,759.74 L421.9,760.67 L422.4,761.58 L422.9,762.47 L423.4,763.35 L423.9,764.22 L424.4,765.07 L424.9,765.91 L425.4,766.74 L425.9,767.54 L426.4,768.34 L426.9,769.12 L427.4,769.88 L427.9,770.63 L428.4,771.37 L428.9,772.09 L429.4,772.8 L429.9,773.49 L430.4,774.17 L430.9,774.84 L431.4,775.49 L431.9,776.13 L432.4,776.75 L432.9,777.36 L433.4,777.96 L433.9,778.54 L434.4,779.11 L434.9,779.66 L435.4,780.21 L435.9,780.74 L436.4,781.25 L436.9,781.76 L437.4,782.25 L437.9,782.73 L438.4,783.2 L438.9,783.66 L439.4,784.1 L439.9,784.53 L440.4,784.96 L440.9,785.37 L441.4,785.77 L441.9,786.15 L442.4,786.53 L442.9,786.9 L443.4,787.26 L443.9,787.6 L444.4,787.94 L444.9,788.27 L445.4,788.59 L445.9,788.9 L446.4,789.2 L446.9,789.49 L447.4,789.77 L447.9,790.04 L448.4,790.31 L448.9,790.56 L449.4,790.81 L449.9,791.05 L450.4,791.28 L450.9,791.51 L451.4,791.73 L451.9,791.94 L452.4,792.14 L452.9,792.34 L453.4,792.53"/>
<circle cx="336.4" cy="716.64" r="2.5" fill="#008000"/>
<circle cx="453.4" cy="792.53" r="2.5" fill="#008000"/>
<g><polygon points="336.4,716.88 338.7,719.18 336.4,721.48 334.1,719.18" fill="#fff" stroke="#2f962f" stroke-width="0.85"/><polygon points="337.57,714.42 339.87,716.72 337.57,719.02 335.27,716.72" fill="#fff" stroke="#2f962f" stroke-width="0.85"/><polygon points="338.73,711.98 341.03,714.28 338.73,716.58 336.43,714.28" fill="#fff" stroke="#2f962f" stroke-width="0.85"/><polygon points="339.89,709.56 342.19,711.86 339.89,714.16 337.59,711.86" fill="#fff" stroke="#2f962f" stroke-width="0.85"/><polygon points="341.05,707.17 343.35,709.47 341.05,711.77 338.75,709.47" fill="#fff" stroke="#2f962f" stroke-width="0.85"/><polygon points="342.21,704.81 344.51,707.11 342.21,709.41 339.91,707.11" fill="#fff" stroke="#2f962f" stroke-width="0.85"/><polygon points="343.38,702.47 345.68,704.77 343.38,707.07 341.08,704.77" fill="#fff" stroke="#2f962f" stroke-width="0.85"/><polygon points="344.56,700.15 346.86,702.45 344.56,704.75 342.26,702.45" fill="#fff" stroke="#2f962f" stroke-width="0.85"/><polygon points="345.75,697.86 348.05,700.16 345.75,702.46 343.45,700.16" fill="#fff" stroke="#2f962f" stroke-width="0.85"/><polygon points="346.96,695.6 349.26,697.9 346.96,700.2 344.66,697.9" fill="#fff" stroke="#2f962f" stroke-width="0.85"/><polygon points="348.2,693.38 350.5,695.68 348.2,697.98 345.9,695.68" fill="#fff" stroke="#2f962f" stroke-width="0.85"/><polygon points="349.45,691.18 351.75,693.48 349.45,695.78 347.15,693.48" fill="#fff" stroke="#2f962f" stroke-width="0.85"/><polygon points="350.74,689.02 353.04,691.32 350.74,693.62 348.44,691.32" fill="#fff" stroke="#2f962f" stroke-width="0.85"/><polygon points="352.07,686.9 354.37,689.2 352.07,691.5 349.77,689.2" fill="#fff" stroke="#2f962f" stroke-width="0.85"/><polygon points="353.44,684.83 355.74,687.13 353.44,689.43 351.14,687.13" fill="#fff" stroke="#2f962f" stroke-width="0.85"/><polygon points="354.87,682.81 357.17,685.11 354.87,687.41 352.57,685.11" fill="#fff" stroke="#2f962f" stroke-width="0.85"/><polygon points="356.37,680.86 358.67,683.16 356.37,685.46 354.07,683.16" fill="#fff" stroke="#2f962f" stroke-width="0.85"/><polygon points="357.96,678.99 360.26,681.29 357.96,683.59 355.66,681.29" fill="#fff" stroke="#2f962f" stroke-width="0.85"/><polygon points="359.65,677.23 361.95,679.53 359.65,681.83 357.35,679.53" fill="#fff" stroke="#2f962f" stroke-width="0.85"/><polygon points="361.46,675.62 363.76,677.92 361.46,680.22 359.16,677.92" fill="#fff" stroke="#2f962f" stroke-width="0.85"/><polygon points="363.43,674.21 365.73,676.51 363.43,678.81 361.13,676.51" fill="#fff" stroke="#2f962f" stroke-width="0.85"/><polygon points="365.56,673.09 367.86,675.39 365.56,677.69 363.26,675.39" fill="#fff" stroke="#2f962f" stroke-width="0.85"/><polygon points="367.86,672.39 370.16,674.69 367.86,676.99 365.56,674.69" fill="#fff" stroke="#2f962f" stroke-width="0.85"/><polygon points="370.24,672.21 372.54,674.51 370.24,676.81 367.94,674.51" fill="#fff" stroke="#2f962f" stroke-width="0.85"/><polygon points="372.61,672.6 374.91,674.9 372.61,677.2 370.31,674.9" fill="#fff" stroke="#2f962f" stroke-width="0.85"/><polygon points="374.84,673.46 377.14,675.76 374.84,678.06 372.54,675.76" fill="#fff" stroke="#2f962f" stroke-width="0.85"/><polygon points="376.91,674.69 379.21,676.99 376.91,679.29 374.61,676.99" fill="#fff" stroke="#2f962f" stroke-width="0.85"/><polygon points="378.81,676.18 381.11,678.48 378.81,680.78 376.51,678.48" fill="#fff" stroke="#2f962f" stroke-width="0.85"/><polygon points="380.57,677.84 382.87,680.14 380.57,682.44 378.27,680.14" fill="#fff" stroke="#2f962f" stroke-width="0.85"/><polygon points="382.21,679.64 384.51,681.94 382.21,684.24 379.91,681.94" fill="#fff" stroke="#2f962f" stroke-width="0.85"/><polygon points="383.76,681.53 386.06,683.83 383.76,686.13 381.46,683.83" fill="#fff" stroke="#2f962f" stroke-width="0.85"/><polygon points="385.22,683.49 387.52,685.79 385.22,688.09 382.92,685.79" fill="#fff" stroke="#2f962f" stroke-width="0.85"/><polygon points="386.63,685.52 388.93,687.82 386.63,690.12 384.33,687.82" fill="#fff" stroke="#2f962f" stroke-width="0.85"/><polygon points="387.98,687.6 390.28,689.9 387.98,692.2 385.68,689.9" fill="#fff" stroke="#2f962f" stroke-width="0.85"/><polygon points="389.28,689.72 391.58,692.02 389.28,694.32 386.98,692.02" fill="#fff" stroke="#2f962f" stroke-width="0.85"/><polygon points="390.55,691.88 392.85,694.18 390.55,696.48 388.25,694.18" fill="#fff" stroke="#2f962f" stroke-width="0.85"/><polygon points="391.8,694.08 394.1,696.38 391.8,698.68 389.5,696.38" fill="#fff" stroke="#2f962f" stroke-width="0.85"/><polygon points="393.01,696.3 395.31,698.6 393.01,700.9 390.71,698.6" fill="#fff" stroke="#2f962f" stroke-width="0.85"/><polygon points="394.21,698.55 396.51,700.85 394.21,703.15 391.91,700.85" fill="#fff" stroke="#2f962f" stroke-width="0.85"/><polygon points="395.39,700.83 397.69,703.13 395.39,705.43 393.09,703.13" fill="#fff" stroke="#2f962f" stroke-width="0.85"/><polygon points="396.56,703.14 398.86,705.44 396.56,707.74 394.26,705.44" fill="#fff" stroke="#2f962f" stroke-width="0.85"/><polygon points="397.72,705.47 400.02,707.77 397.72,710.07 395.42,707.77" fill="#fff" stroke="#2f962f" stroke-width="0.85"/><polygon points="398.87,707.83 401.17,710.13 398.87,712.43 396.57,710.13" fill="#fff" stroke="#2f962f" stroke-width="0.85"/><polygon points="400.02,710.2 402.32,712.5 400.02,714.8 397.72,712.5" fill="#fff" stroke="#2f962f" stroke-width="0.85"/><polygon points="401.17,712.61 403.47,714.91 401.17,717.21 398.87,714.91" fill="#fff" stroke="#2f962f" stroke-width="0.85"/><polygon points="402.33,715.03 404.63,717.33 402.33,719.63 400.03,717.33" fill="#fff" stroke="#2f962f" stroke-width="0.85"/><polygon points="403.48,717.48 405.78,719.78 403.48,722.08 401.18,719.78" fill="#fff" stroke="#2f962f" stroke-width="0.85"/><polygon points="404.65,719.94 406.95,722.24 404.65,724.54 402.35,722.24" fill="#fff" stroke="#2f962f" stroke-width="0.85"/><polygon points="405.82,722.44 408.12,724.74 405.82,727.04 403.52,724.74" fill="#fff" stroke="#2f962f" stroke-width="0.85"/><polygon points="407.01,724.95 409.31,727.25 407.01,729.55 404.71,727.25" fill="#fff" stroke="#2f962f" stroke-width="0.85"/><polygon points="408.22,727.49 410.52,729.79 408.22,732.09 405.92,729.79" fill="#fff" stroke="#2f962f" stroke-width="0.85"/><polygon points="409.44,730.05 411.74,732.35 409.44,734.65 407.14,732.35" fill="#fff" stroke="#2f962f" stroke-width="0.85"/><polygon points="410.68,732.64 412.98,734.94 410.68,737.24 408.38,734.94" fill="#fff" stroke="#2f962f" stroke-width="0.85"/><polygon points="411.95,735.24 414.25,737.54 411.95,739.84 409.65,737.54" fill="#fff" stroke="#2f962f" stroke-width="0.85"/><polygon points="413.25,737.88 415.55,740.18 413.25,742.48 410.95,740.18" fill="#fff" stroke="#2f962f" stroke-width="0.85"/><polygon points="414.59,740.54 416.89,742.84 414.59,745.14 412.29,742.84" fill="#fff" stroke="#2f962f" stroke-width="0.85"/><polygon points="415.96,743.22 418.26,745.52 415.96,747.82 413.66,745.52" fill="#fff" stroke="#2f962f" stroke-width="0.85"/><polygon points="417.37,745.93 419.67,748.23 417.37,750.53 415.07,748.23" fill="#fff" stroke="#2f962f" stroke-width="0.85"/><polygon points="418.84,748.67 421.14,750.97 418.84,753.27 416.54,750.97" fill="#fff" stroke="#2f962f" stroke-width="0.85"/><polygon points="420.36,751.43 422.66,753.73 420.36,756.03 418.06,753.73" fill="#fff" stroke="#2f962f" stroke-width="0.85"/><polygon points="421.95,754.22 424.25,756.52 421.95,758.82 419.65,756.52" fill="#fff" stroke="#2f962f" stroke-width="0.85"/><polygon points="423.62,757.03 425.92,759.33 423.62,761.63 421.32,759.33" fill="#fff" stroke="#2f962f" stroke-width="0.85"/><polygon points="425.37,759.87 427.67,762.17 425.37,764.47 423.07,762.17" fill="#fff" stroke="#2f962f" stroke-width="0.85"/><polygon points="427.23,762.73 429.53,765.03 427.23,767.33 424.93,765.03" fill="#fff" stroke="#2f962f" stroke-width="0.85"/><polygon points="429.21,765.6 431.51,767.9 429.21,770.2 426.91,767.9" fill="#fff" stroke="#2f962f" stroke-width="0.85"/><polygon points="431.32,768.5 433.62,770.8 431.32,773.1 429.02,770.8" fill="#fff" stroke="#2f962f" stroke-width="0.85"/><polygon points="433.61,771.39 435.91,773.69 433.61,775.99 431.31,773.69" fill="#fff" stroke="#2f962f" stroke-width="0.85"/><polygon points="436.09,774.28 438.39,776.58 436.09,778.88 433.79,776.58" fill="#fff" stroke="#2f962f" stroke-width="0.85"/><polygon points="438.82,777.15 441.12,779.45 438.82,781.75 436.52,779.45" fill="#fff" stroke="#2f962f" stroke-width="0.85"/><polygon points="441.83,779.96 444.13,782.26 441.83,784.56 439.53,782.26" fill="#fff" stroke="#2f962f" stroke-width="0.85"/><polygon points="445.2,782.68 447.5,784.98 445.2,787.28 442.9,784.98" fill="#fff" stroke="#2f962f" stroke-width="0.85"/><polygon points="448.98,785.26 451.28,787.56 448.98,789.86 446.68,787.56" fill="#fff" stroke="#2f962f" stroke-width="0.85"/><polygon points="452.99,787.5 455.29,789.8 452.99,792.1 450.69,789.8" fill="#fff" stroke="#2f962f" stroke-width="0.85"/><polygon points="457.2,789.37 459.5,791.67 457.2,793.97 454.9,791.67" fill="#fff" stroke="#2f962f" stroke-width="0.85"/><polygon points="461.54,790.87 463.84,793.17 461.54,795.47 459.24,793.17" fill="#fff" stroke="#2f962f" stroke-width="0.85"/><polygon points="465.99,792.03 468.29,794.33 465.99,796.63 463.69,794.33" fill="#fff" stroke="#2f962f" stroke-width="0.85"/><polygon points="470.51,792.9 472.81,795.2 470.51,797.5 468.21,795.2" fill="#fff" stroke="#2f962f" stroke-width="0.85"/><polygon points="475.07,793.53 477.37,795.83 475.07,798.13 472.77,795.83" fill="#fff" stroke="#2f962f" stroke-width="0.85"/><polygon points="479.64,793.98 481.94,796.28 479.64,798.58 477.34,796.28" fill="#fff" stroke="#2f962f" stroke-width="0.85"/><polygon points="484.23,794.3 486.53,796.6 484.23,798.9 481.93,796.6" fill="#fff" stroke="#2f962f" stroke-width="0.85"/><polygon points="496.3,794.71 498.6,797.01 496.3,799.31 494,797.01" fill="#fff" stroke="#2f962f" stroke-width="0.85"/></g>
<circle cx="451.6" cy="650" r="2" fill="#ff0000"/>
<text x="463" y="652.9" font-size="8.0" font-family="Liberation Sans, sans-serif" font-weight="bold" fill="#111">May-WRF-solar</text>
<circle cx="451.6" cy="659.95" r="2" fill="#fff" stroke="#ff3c3c" stroke-width="0.75"/>
<text x="463" y="662.85" font-size="8.0" font-family="Liberation Sans, sans-serif" font-weight="bold" fill="#111">May-actual</text>
<polygon points="451.6,667.4 453.78,671.15 449.43,671.15" fill="#0000ff"/>
<text x="463" y="672.8" font-size="8.0" font-family="Liberation Sans, sans-serif" font-weight="bold" fill="#111">August-WRF-solar</text>
<polygon points="451.6,677.35 453.78,681.1 449.43,681.1" fill="#fff" stroke="#2828ff" stroke-width="0.75"/>
<text x="463" y="682.75" font-size="8.0" font-family="Liberation Sans, sans-serif" font-weight="bold" fill="#111">August-actual</text>
<polygon points="451.6,687.5 453.9,689.8 451.6,692.1 449.3,689.8" fill="#008000"/>
<text x="463" y="692.7" font-size="8.0" font-family="Liberation Sans, sans-serif" font-weight="bold" fill="#111">December-WRF-solar</text>
<polygon points="451.6,697.45 453.9,699.75 451.6,702.05 449.3,699.75" fill="#fff" stroke="#2f962f" stroke-width="0.75"/>
<text x="463" y="702.65" font-size="8.0" font-family="Liberation Sans, sans-serif" font-weight="bold" fill="#111">December-actual</text>
<rect x="320.5" y="646.1" width="224" height="164.4" fill="none" stroke="#111" stroke-width="1.2"/>
<text x="330.2" y="666.2" font-size="15.2" font-family="Liberation Sans, sans-serif" font-weight="bold" fill="#111">(j)</text>
<text transform="translate(309.8,729) rotate(-90)" font-size="11.3" text-anchor="middle" font-family="Liberation Sans, sans-serif" font-weight="bold" fill="#111">Frequency of occurrence</text>
<line x1="336.5" y1="810.5" x2="336.5" y2="806.9" stroke="#111" stroke-width="1"/>
<text x="336.5" y="822.9" font-size="10.4" text-anchor="middle" font-family="Liberation Sans, sans-serif" font-weight="bold" fill="#111">0</text>
<line x1="352.5" y1="810.5" x2="352.5" y2="808.7" stroke="#111" stroke-width="1"/>
<line x1="368.5" y1="810.5" x2="368.5" y2="806.9" stroke="#111" stroke-width="1"/>
<text x="368.5" y="822.9" font-size="10.4" text-anchor="middle" font-family="Liberation Sans, sans-serif" font-weight="bold" fill="#111">200</text>
<line x1="384.5" y1="810.5" x2="384.5" y2="808.7" stroke="#111" stroke-width="1"/>
<line x1="400.5" y1="810.5" x2="400.5" y2="806.9" stroke="#111" stroke-width="1"/>
<text x="400.5" y="822.9" font-size="10.4" text-anchor="middle" font-family="Liberation Sans, sans-serif" font-weight="bold" fill="#111">400</text>
<line x1="416.5" y1="810.5" x2="416.5" y2="808.7" stroke="#111" stroke-width="1"/>
<line x1="432.5" y1="810.5" x2="432.5" y2="806.9" stroke="#111" stroke-width="1"/>
<text x="432.5" y="822.9" font-size="10.4" text-anchor="middle" font-family="Liberation Sans, sans-serif" font-weight="bold" fill="#111">600</text>
<line x1="448.5" y1="810.5" x2="448.5" y2="808.7" stroke="#111" stroke-width="1"/>
<line x1="464.5" y1="810.5" x2="464.5" y2="806.9" stroke="#111" stroke-width="1"/>
<text x="464.5" y="822.9" font-size="10.4" text-anchor="middle" font-family="Liberation Sans, sans-serif" font-weight="bold" fill="#111">800</text>
<line x1="480.5" y1="810.5" x2="480.5" y2="808.7" stroke="#111" stroke-width="1"/>
<line x1="496.5" y1="810.5" x2="496.5" y2="806.9" stroke="#111" stroke-width="1"/>
<text x="496.5" y="822.9" font-size="10.4" text-anchor="middle" font-family="Liberation Sans, sans-serif" font-weight="bold" fill="#111">1000</text>
<line x1="512.5" y1="810.5" x2="512.5" y2="808.7" stroke="#111" stroke-width="1"/>
<line x1="528.5" y1="810.5" x2="528.5" y2="806.9" stroke="#111" stroke-width="1"/>
<text x="528.5" y="822.9" font-size="10.4" text-anchor="middle" font-family="Liberation Sans, sans-serif" font-weight="bold" fill="#111">1200</text>
<text x="432.6" y="843.7" font-size="11.2" text-anchor="middle" font-family="Liberation Sans, sans-serif" font-weight="bold" fill="#111">Solar irradiance (W/m<tspan font-size="7" dy="-4">2</tspan><tspan dy="4">)</tspan></text>
</svg></body></html>
